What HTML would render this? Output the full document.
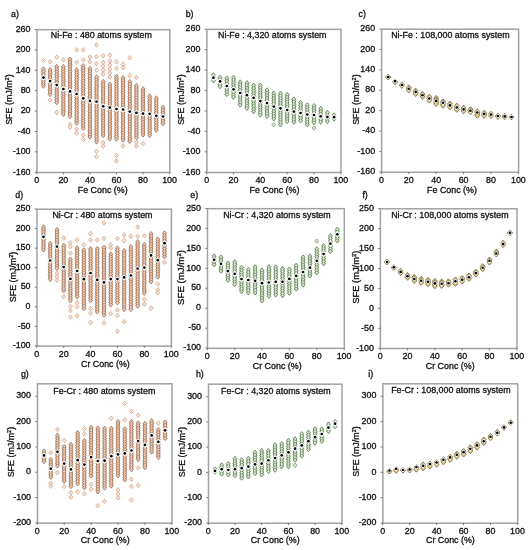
<!DOCTYPE html><html><head><meta charset="utf-8"><style>html,body{margin:0;padding:0;background:#fff;}svg{display:block;} text{stroke:#111;stroke-width:0.3px;}</style></head><body>
<svg width="531" height="550" viewBox="0 0 531 550" style="will-change:transform" font-family='"Liberation Sans", sans-serif' font-size="8.9" fill="#111">
<rect x="0" y="0" width="531" height="550" fill="#fff"/>
<g><defs><path id="ma" d="M0,-2.3 L1.95,0 L0,2.3 L-1.95,0Z" fill="#dda987" stroke="#9c7c6a" stroke-width="0.8"/><path id="mao" d="M0,-2.3 L1.95,0 L0,2.3 L-1.95,0Z" fill="#f6e2d6" stroke="#d3a58d" stroke-width="0.8"/></defs><g style="filter:blur(0.35px)"><use href="#mao" x="43.44" y="60.4"/><rect x="41.68" y="69.1" width="3.51" height="16.9" fill="#b98365"/><use href="#ma" x="43.44" y="69.1"/><use href="#ma" x="43.44" y="71.51"/><use href="#ma" x="43.44" y="73.93"/><use href="#ma" x="43.44" y="76.34"/><use href="#ma" x="43.44" y="78.76"/><use href="#ma" x="43.44" y="81.17"/><use href="#ma" x="43.44" y="83.59"/><use href="#ma" x="43.44" y="86"/><ellipse cx="43.44" cy="69.1" rx="0.9" ry="1.0" fill="#efcab2"/><ellipse cx="43.44" cy="71.51" rx="0.9" ry="1.0" fill="#efcab2"/><ellipse cx="43.44" cy="73.93" rx="0.9" ry="1.0" fill="#efcab2"/><ellipse cx="43.44" cy="76.34" rx="0.9" ry="1.0" fill="#efcab2"/><ellipse cx="43.44" cy="78.76" rx="0.9" ry="1.0" fill="#efcab2"/><ellipse cx="43.44" cy="81.17" rx="0.9" ry="1.0" fill="#efcab2"/><ellipse cx="43.44" cy="83.59" rx="0.9" ry="1.0" fill="#efcab2"/><ellipse cx="43.44" cy="86" rx="0.9" ry="1.0" fill="#efcab2"/><use href="#mao" x="50.08" y="61.8"/><use href="#mao" x="50.08" y="100"/><rect x="48.32" y="69.8" width="3.51" height="24.6" fill="#b98365"/><use href="#ma" x="50.08" y="69.8"/><use href="#ma" x="50.08" y="72.26"/><use href="#ma" x="50.08" y="74.72"/><use href="#ma" x="50.08" y="77.18"/><use href="#ma" x="50.08" y="79.64"/><use href="#ma" x="50.08" y="82.1"/><use href="#ma" x="50.08" y="84.56"/><use href="#ma" x="50.08" y="87.02"/><use href="#ma" x="50.08" y="89.48"/><use href="#ma" x="50.08" y="91.94"/><use href="#ma" x="50.08" y="94.4"/><ellipse cx="50.08" cy="69.8" rx="0.9" ry="1.0" fill="#efcab2"/><ellipse cx="50.08" cy="72.26" rx="0.9" ry="1.0" fill="#efcab2"/><ellipse cx="50.08" cy="74.72" rx="0.9" ry="1.0" fill="#efcab2"/><ellipse cx="50.08" cy="77.18" rx="0.9" ry="1.0" fill="#efcab2"/><ellipse cx="50.08" cy="79.64" rx="0.9" ry="1.0" fill="#efcab2"/><ellipse cx="50.08" cy="82.1" rx="0.9" ry="1.0" fill="#efcab2"/><ellipse cx="50.08" cy="84.56" rx="0.9" ry="1.0" fill="#efcab2"/><ellipse cx="50.08" cy="87.02" rx="0.9" ry="1.0" fill="#efcab2"/><ellipse cx="50.08" cy="89.48" rx="0.9" ry="1.0" fill="#efcab2"/><ellipse cx="50.08" cy="91.94" rx="0.9" ry="1.0" fill="#efcab2"/><ellipse cx="50.08" cy="94.4" rx="0.9" ry="1.0" fill="#efcab2"/><use href="#mao" x="56.72" y="57.1"/><use href="#mao" x="56.72" y="112.5"/><rect x="54.96" y="66.5" width="3.51" height="36" fill="#b98365"/><use href="#ma" x="56.72" y="66.5"/><use href="#ma" x="56.72" y="69.07"/><use href="#ma" x="56.72" y="71.64"/><use href="#ma" x="56.72" y="74.21"/><use href="#ma" x="56.72" y="76.79"/><use href="#ma" x="56.72" y="79.36"/><use href="#ma" x="56.72" y="81.93"/><use href="#ma" x="56.72" y="84.5"/><use href="#ma" x="56.72" y="87.07"/><use href="#ma" x="56.72" y="89.64"/><use href="#ma" x="56.72" y="92.21"/><use href="#ma" x="56.72" y="94.79"/><use href="#ma" x="56.72" y="97.36"/><use href="#ma" x="56.72" y="99.93"/><use href="#ma" x="56.72" y="102.5"/><ellipse cx="56.72" cy="66.5" rx="0.9" ry="1.0" fill="#efcab2"/><ellipse cx="56.72" cy="69.07" rx="0.9" ry="1.0" fill="#efcab2"/><ellipse cx="56.72" cy="71.64" rx="0.9" ry="1.0" fill="#efcab2"/><ellipse cx="56.72" cy="74.21" rx="0.9" ry="1.0" fill="#efcab2"/><ellipse cx="56.72" cy="76.79" rx="0.9" ry="1.0" fill="#efcab2"/><ellipse cx="56.72" cy="79.36" rx="0.9" ry="1.0" fill="#efcab2"/><ellipse cx="56.72" cy="81.93" rx="0.9" ry="1.0" fill="#efcab2"/><ellipse cx="56.72" cy="84.5" rx="0.9" ry="1.0" fill="#efcab2"/><ellipse cx="56.72" cy="87.07" rx="0.9" ry="1.0" fill="#efcab2"/><ellipse cx="56.72" cy="89.64" rx="0.9" ry="1.0" fill="#efcab2"/><ellipse cx="56.72" cy="92.21" rx="0.9" ry="1.0" fill="#efcab2"/><ellipse cx="56.72" cy="94.79" rx="0.9" ry="1.0" fill="#efcab2"/><ellipse cx="56.72" cy="97.36" rx="0.9" ry="1.0" fill="#efcab2"/><ellipse cx="56.72" cy="99.93" rx="0.9" ry="1.0" fill="#efcab2"/><ellipse cx="56.72" cy="102.5" rx="0.9" ry="1.0" fill="#efcab2"/><use href="#mao" x="63.36" y="59.8"/><rect x="61.6" y="66.5" width="3.51" height="47.9" fill="#b98365"/><use href="#ma" x="63.36" y="66.5"/><use href="#ma" x="63.36" y="69.02"/><use href="#ma" x="63.36" y="71.54"/><use href="#ma" x="63.36" y="74.06"/><use href="#ma" x="63.36" y="76.58"/><use href="#ma" x="63.36" y="79.11"/><use href="#ma" x="63.36" y="81.63"/><use href="#ma" x="63.36" y="84.15"/><use href="#ma" x="63.36" y="86.67"/><use href="#ma" x="63.36" y="89.19"/><use href="#ma" x="63.36" y="91.71"/><use href="#ma" x="63.36" y="94.23"/><use href="#ma" x="63.36" y="96.75"/><use href="#ma" x="63.36" y="99.27"/><use href="#ma" x="63.36" y="101.79"/><use href="#ma" x="63.36" y="104.32"/><use href="#ma" x="63.36" y="106.84"/><use href="#ma" x="63.36" y="109.36"/><use href="#ma" x="63.36" y="111.88"/><use href="#ma" x="63.36" y="114.4"/><ellipse cx="63.36" cy="66.5" rx="0.9" ry="1.0" fill="#efcab2"/><ellipse cx="63.36" cy="69.02" rx="0.9" ry="1.0" fill="#efcab2"/><ellipse cx="63.36" cy="71.54" rx="0.9" ry="1.0" fill="#efcab2"/><ellipse cx="63.36" cy="74.06" rx="0.9" ry="1.0" fill="#efcab2"/><ellipse cx="63.36" cy="76.58" rx="0.9" ry="1.0" fill="#efcab2"/><ellipse cx="63.36" cy="79.11" rx="0.9" ry="1.0" fill="#efcab2"/><ellipse cx="63.36" cy="81.63" rx="0.9" ry="1.0" fill="#efcab2"/><ellipse cx="63.36" cy="84.15" rx="0.9" ry="1.0" fill="#efcab2"/><ellipse cx="63.36" cy="86.67" rx="0.9" ry="1.0" fill="#efcab2"/><ellipse cx="63.36" cy="89.19" rx="0.9" ry="1.0" fill="#efcab2"/><ellipse cx="63.36" cy="91.71" rx="0.9" ry="1.0" fill="#efcab2"/><ellipse cx="63.36" cy="94.23" rx="0.9" ry="1.0" fill="#efcab2"/><ellipse cx="63.36" cy="96.75" rx="0.9" ry="1.0" fill="#efcab2"/><ellipse cx="63.36" cy="99.27" rx="0.9" ry="1.0" fill="#efcab2"/><ellipse cx="63.36" cy="101.79" rx="0.9" ry="1.0" fill="#efcab2"/><ellipse cx="63.36" cy="104.32" rx="0.9" ry="1.0" fill="#efcab2"/><ellipse cx="63.36" cy="106.84" rx="0.9" ry="1.0" fill="#efcab2"/><ellipse cx="63.36" cy="109.36" rx="0.9" ry="1.0" fill="#efcab2"/><ellipse cx="63.36" cy="111.88" rx="0.9" ry="1.0" fill="#efcab2"/><ellipse cx="63.36" cy="114.4" rx="0.9" ry="1.0" fill="#efcab2"/><use href="#mao" x="70" y="124.4"/><use href="#mao" x="70" y="127"/><rect x="68.25" y="59.2" width="3.51" height="57.2" fill="#b98365"/><use href="#ma" x="70" y="59.2"/><use href="#ma" x="70" y="61.69"/><use href="#ma" x="70" y="64.17"/><use href="#ma" x="70" y="66.66"/><use href="#ma" x="70" y="69.15"/><use href="#ma" x="70" y="71.63"/><use href="#ma" x="70" y="74.12"/><use href="#ma" x="70" y="76.61"/><use href="#ma" x="70" y="79.1"/><use href="#ma" x="70" y="81.58"/><use href="#ma" x="70" y="84.07"/><use href="#ma" x="70" y="86.56"/><use href="#ma" x="70" y="89.04"/><use href="#ma" x="70" y="91.53"/><use href="#ma" x="70" y="94.02"/><use href="#ma" x="70" y="96.5"/><use href="#ma" x="70" y="98.99"/><use href="#ma" x="70" y="101.48"/><use href="#ma" x="70" y="103.97"/><use href="#ma" x="70" y="106.45"/><use href="#ma" x="70" y="108.94"/><use href="#ma" x="70" y="111.43"/><use href="#ma" x="70" y="113.91"/><use href="#ma" x="70" y="116.4"/><ellipse cx="70" cy="59.2" rx="0.9" ry="1.0" fill="#efcab2"/><ellipse cx="70" cy="61.69" rx="0.9" ry="1.0" fill="#efcab2"/><ellipse cx="70" cy="64.17" rx="0.9" ry="1.0" fill="#efcab2"/><ellipse cx="70" cy="66.66" rx="0.9" ry="1.0" fill="#efcab2"/><ellipse cx="70" cy="69.15" rx="0.9" ry="1.0" fill="#efcab2"/><ellipse cx="70" cy="71.63" rx="0.9" ry="1.0" fill="#efcab2"/><ellipse cx="70" cy="74.12" rx="0.9" ry="1.0" fill="#efcab2"/><ellipse cx="70" cy="76.61" rx="0.9" ry="1.0" fill="#efcab2"/><ellipse cx="70" cy="79.1" rx="0.9" ry="1.0" fill="#efcab2"/><ellipse cx="70" cy="81.58" rx="0.9" ry="1.0" fill="#efcab2"/><ellipse cx="70" cy="84.07" rx="0.9" ry="1.0" fill="#efcab2"/><ellipse cx="70" cy="86.56" rx="0.9" ry="1.0" fill="#efcab2"/><ellipse cx="70" cy="89.04" rx="0.9" ry="1.0" fill="#efcab2"/><ellipse cx="70" cy="91.53" rx="0.9" ry="1.0" fill="#efcab2"/><ellipse cx="70" cy="94.02" rx="0.9" ry="1.0" fill="#efcab2"/><ellipse cx="70" cy="96.5" rx="0.9" ry="1.0" fill="#efcab2"/><ellipse cx="70" cy="98.99" rx="0.9" ry="1.0" fill="#efcab2"/><ellipse cx="70" cy="101.48" rx="0.9" ry="1.0" fill="#efcab2"/><ellipse cx="70" cy="103.97" rx="0.9" ry="1.0" fill="#efcab2"/><ellipse cx="70" cy="106.45" rx="0.9" ry="1.0" fill="#efcab2"/><ellipse cx="70" cy="108.94" rx="0.9" ry="1.0" fill="#efcab2"/><ellipse cx="70" cy="111.43" rx="0.9" ry="1.0" fill="#efcab2"/><ellipse cx="70" cy="113.91" rx="0.9" ry="1.0" fill="#efcab2"/><ellipse cx="70" cy="116.4" rx="0.9" ry="1.0" fill="#efcab2"/><use href="#mao" x="76.64" y="49.9"/><use href="#mao" x="76.64" y="62.4"/><use href="#mao" x="76.64" y="129"/><use href="#mao" x="76.64" y="133"/><rect x="74.89" y="69.8" width="3.51" height="53.1" fill="#b98365"/><use href="#ma" x="76.64" y="69.8"/><use href="#ma" x="76.64" y="72.33"/><use href="#ma" x="76.64" y="74.86"/><use href="#ma" x="76.64" y="77.39"/><use href="#ma" x="76.64" y="79.91"/><use href="#ma" x="76.64" y="82.44"/><use href="#ma" x="76.64" y="84.97"/><use href="#ma" x="76.64" y="87.5"/><use href="#ma" x="76.64" y="90.03"/><use href="#ma" x="76.64" y="92.56"/><use href="#ma" x="76.64" y="95.09"/><use href="#ma" x="76.64" y="97.61"/><use href="#ma" x="76.64" y="100.14"/><use href="#ma" x="76.64" y="102.67"/><use href="#ma" x="76.64" y="105.2"/><use href="#ma" x="76.64" y="107.73"/><use href="#ma" x="76.64" y="110.26"/><use href="#ma" x="76.64" y="112.79"/><use href="#ma" x="76.64" y="115.31"/><use href="#ma" x="76.64" y="117.84"/><use href="#ma" x="76.64" y="120.37"/><use href="#ma" x="76.64" y="122.9"/><ellipse cx="76.64" cy="69.8" rx="0.9" ry="1.0" fill="#efcab2"/><ellipse cx="76.64" cy="72.33" rx="0.9" ry="1.0" fill="#efcab2"/><ellipse cx="76.64" cy="74.86" rx="0.9" ry="1.0" fill="#efcab2"/><ellipse cx="76.64" cy="77.39" rx="0.9" ry="1.0" fill="#efcab2"/><ellipse cx="76.64" cy="79.91" rx="0.9" ry="1.0" fill="#efcab2"/><ellipse cx="76.64" cy="82.44" rx="0.9" ry="1.0" fill="#efcab2"/><ellipse cx="76.64" cy="84.97" rx="0.9" ry="1.0" fill="#efcab2"/><ellipse cx="76.64" cy="87.5" rx="0.9" ry="1.0" fill="#efcab2"/><ellipse cx="76.64" cy="90.03" rx="0.9" ry="1.0" fill="#efcab2"/><ellipse cx="76.64" cy="92.56" rx="0.9" ry="1.0" fill="#efcab2"/><ellipse cx="76.64" cy="95.09" rx="0.9" ry="1.0" fill="#efcab2"/><ellipse cx="76.64" cy="97.61" rx="0.9" ry="1.0" fill="#efcab2"/><ellipse cx="76.64" cy="100.14" rx="0.9" ry="1.0" fill="#efcab2"/><ellipse cx="76.64" cy="102.67" rx="0.9" ry="1.0" fill="#efcab2"/><ellipse cx="76.64" cy="105.2" rx="0.9" ry="1.0" fill="#efcab2"/><ellipse cx="76.64" cy="107.73" rx="0.9" ry="1.0" fill="#efcab2"/><ellipse cx="76.64" cy="110.26" rx="0.9" ry="1.0" fill="#efcab2"/><ellipse cx="76.64" cy="112.79" rx="0.9" ry="1.0" fill="#efcab2"/><ellipse cx="76.64" cy="115.31" rx="0.9" ry="1.0" fill="#efcab2"/><ellipse cx="76.64" cy="117.84" rx="0.9" ry="1.0" fill="#efcab2"/><ellipse cx="76.64" cy="120.37" rx="0.9" ry="1.0" fill="#efcab2"/><ellipse cx="76.64" cy="122.9" rx="0.9" ry="1.0" fill="#efcab2"/><use href="#mao" x="83.28" y="49.9"/><use href="#mao" x="83.28" y="59.8"/><use href="#mao" x="83.28" y="135"/><use href="#mao" x="83.28" y="139.5"/><rect x="81.53" y="65.8" width="3.51" height="62.4" fill="#b98365"/><use href="#ma" x="83.28" y="65.8"/><use href="#ma" x="83.28" y="68.3"/><use href="#ma" x="83.28" y="70.79"/><use href="#ma" x="83.28" y="73.29"/><use href="#ma" x="83.28" y="75.78"/><use href="#ma" x="83.28" y="78.28"/><use href="#ma" x="83.28" y="80.78"/><use href="#ma" x="83.28" y="83.27"/><use href="#ma" x="83.28" y="85.77"/><use href="#ma" x="83.28" y="88.26"/><use href="#ma" x="83.28" y="90.76"/><use href="#ma" x="83.28" y="93.26"/><use href="#ma" x="83.28" y="95.75"/><use href="#ma" x="83.28" y="98.25"/><use href="#ma" x="83.28" y="100.74"/><use href="#ma" x="83.28" y="103.24"/><use href="#ma" x="83.28" y="105.74"/><use href="#ma" x="83.28" y="108.23"/><use href="#ma" x="83.28" y="110.73"/><use href="#ma" x="83.28" y="113.22"/><use href="#ma" x="83.28" y="115.72"/><use href="#ma" x="83.28" y="118.22"/><use href="#ma" x="83.28" y="120.71"/><use href="#ma" x="83.28" y="123.21"/><use href="#ma" x="83.28" y="125.7"/><use href="#ma" x="83.28" y="128.2"/><ellipse cx="83.28" cy="65.8" rx="0.9" ry="1.0" fill="#efcab2"/><ellipse cx="83.28" cy="68.3" rx="0.9" ry="1.0" fill="#efcab2"/><ellipse cx="83.28" cy="70.79" rx="0.9" ry="1.0" fill="#efcab2"/><ellipse cx="83.28" cy="73.29" rx="0.9" ry="1.0" fill="#efcab2"/><ellipse cx="83.28" cy="75.78" rx="0.9" ry="1.0" fill="#efcab2"/><ellipse cx="83.28" cy="78.28" rx="0.9" ry="1.0" fill="#efcab2"/><ellipse cx="83.28" cy="80.78" rx="0.9" ry="1.0" fill="#efcab2"/><ellipse cx="83.28" cy="83.27" rx="0.9" ry="1.0" fill="#efcab2"/><ellipse cx="83.28" cy="85.77" rx="0.9" ry="1.0" fill="#efcab2"/><ellipse cx="83.28" cy="88.26" rx="0.9" ry="1.0" fill="#efcab2"/><ellipse cx="83.28" cy="90.76" rx="0.9" ry="1.0" fill="#efcab2"/><ellipse cx="83.28" cy="93.26" rx="0.9" ry="1.0" fill="#efcab2"/><ellipse cx="83.28" cy="95.75" rx="0.9" ry="1.0" fill="#efcab2"/><ellipse cx="83.28" cy="98.25" rx="0.9" ry="1.0" fill="#efcab2"/><ellipse cx="83.28" cy="100.74" rx="0.9" ry="1.0" fill="#efcab2"/><ellipse cx="83.28" cy="103.24" rx="0.9" ry="1.0" fill="#efcab2"/><ellipse cx="83.28" cy="105.74" rx="0.9" ry="1.0" fill="#efcab2"/><ellipse cx="83.28" cy="108.23" rx="0.9" ry="1.0" fill="#efcab2"/><ellipse cx="83.28" cy="110.73" rx="0.9" ry="1.0" fill="#efcab2"/><ellipse cx="83.28" cy="113.22" rx="0.9" ry="1.0" fill="#efcab2"/><ellipse cx="83.28" cy="115.72" rx="0.9" ry="1.0" fill="#efcab2"/><ellipse cx="83.28" cy="118.22" rx="0.9" ry="1.0" fill="#efcab2"/><ellipse cx="83.28" cy="120.71" rx="0.9" ry="1.0" fill="#efcab2"/><ellipse cx="83.28" cy="123.21" rx="0.9" ry="1.0" fill="#efcab2"/><ellipse cx="83.28" cy="125.7" rx="0.9" ry="1.0" fill="#efcab2"/><ellipse cx="83.28" cy="128.2" rx="0.9" ry="1.0" fill="#efcab2"/><use href="#mao" x="89.92" y="57.1"/><use href="#mao" x="89.92" y="61.8"/><rect x="88.17" y="68.5" width="3.51" height="68.4" fill="#b98365"/><use href="#ma" x="89.92" y="68.5"/><use href="#ma" x="89.92" y="71.03"/><use href="#ma" x="89.92" y="73.57"/><use href="#ma" x="89.92" y="76.1"/><use href="#ma" x="89.92" y="78.63"/><use href="#ma" x="89.92" y="81.17"/><use href="#ma" x="89.92" y="83.7"/><use href="#ma" x="89.92" y="86.23"/><use href="#ma" x="89.92" y="88.77"/><use href="#ma" x="89.92" y="91.3"/><use href="#ma" x="89.92" y="93.83"/><use href="#ma" x="89.92" y="96.37"/><use href="#ma" x="89.92" y="98.9"/><use href="#ma" x="89.92" y="101.43"/><use href="#ma" x="89.92" y="103.97"/><use href="#ma" x="89.92" y="106.5"/><use href="#ma" x="89.92" y="109.03"/><use href="#ma" x="89.92" y="111.57"/><use href="#ma" x="89.92" y="114.1"/><use href="#ma" x="89.92" y="116.63"/><use href="#ma" x="89.92" y="119.17"/><use href="#ma" x="89.92" y="121.7"/><use href="#ma" x="89.92" y="124.23"/><use href="#ma" x="89.92" y="126.77"/><use href="#ma" x="89.92" y="129.3"/><use href="#ma" x="89.92" y="131.83"/><use href="#ma" x="89.92" y="134.37"/><use href="#ma" x="89.92" y="136.9"/><ellipse cx="89.92" cy="68.5" rx="0.9" ry="1.0" fill="#efcab2"/><ellipse cx="89.92" cy="71.03" rx="0.9" ry="1.0" fill="#efcab2"/><ellipse cx="89.92" cy="73.57" rx="0.9" ry="1.0" fill="#efcab2"/><ellipse cx="89.92" cy="76.1" rx="0.9" ry="1.0" fill="#efcab2"/><ellipse cx="89.92" cy="78.63" rx="0.9" ry="1.0" fill="#efcab2"/><ellipse cx="89.92" cy="81.17" rx="0.9" ry="1.0" fill="#efcab2"/><ellipse cx="89.92" cy="83.7" rx="0.9" ry="1.0" fill="#efcab2"/><ellipse cx="89.92" cy="86.23" rx="0.9" ry="1.0" fill="#efcab2"/><ellipse cx="89.92" cy="88.77" rx="0.9" ry="1.0" fill="#efcab2"/><ellipse cx="89.92" cy="91.3" rx="0.9" ry="1.0" fill="#efcab2"/><ellipse cx="89.92" cy="93.83" rx="0.9" ry="1.0" fill="#efcab2"/><ellipse cx="89.92" cy="96.37" rx="0.9" ry="1.0" fill="#efcab2"/><ellipse cx="89.92" cy="98.9" rx="0.9" ry="1.0" fill="#efcab2"/><ellipse cx="89.92" cy="101.43" rx="0.9" ry="1.0" fill="#efcab2"/><ellipse cx="89.92" cy="103.97" rx="0.9" ry="1.0" fill="#efcab2"/><ellipse cx="89.92" cy="106.5" rx="0.9" ry="1.0" fill="#efcab2"/><ellipse cx="89.92" cy="109.03" rx="0.9" ry="1.0" fill="#efcab2"/><ellipse cx="89.92" cy="111.57" rx="0.9" ry="1.0" fill="#efcab2"/><ellipse cx="89.92" cy="114.1" rx="0.9" ry="1.0" fill="#efcab2"/><ellipse cx="89.92" cy="116.63" rx="0.9" ry="1.0" fill="#efcab2"/><ellipse cx="89.92" cy="119.17" rx="0.9" ry="1.0" fill="#efcab2"/><ellipse cx="89.92" cy="121.7" rx="0.9" ry="1.0" fill="#efcab2"/><ellipse cx="89.92" cy="124.23" rx="0.9" ry="1.0" fill="#efcab2"/><ellipse cx="89.92" cy="126.77" rx="0.9" ry="1.0" fill="#efcab2"/><ellipse cx="89.92" cy="129.3" rx="0.9" ry="1.0" fill="#efcab2"/><ellipse cx="89.92" cy="131.83" rx="0.9" ry="1.0" fill="#efcab2"/><ellipse cx="89.92" cy="134.37" rx="0.9" ry="1.0" fill="#efcab2"/><ellipse cx="89.92" cy="136.9" rx="0.9" ry="1.0" fill="#efcab2"/><use href="#mao" x="96.56" y="45"/><use href="#mao" x="96.56" y="56.5"/><use href="#mao" x="96.56" y="63.7"/><use href="#mao" x="96.56" y="70.3"/><use href="#mao" x="96.56" y="151.4"/><use href="#mao" x="96.56" y="156.7"/><rect x="94.81" y="77.1" width="3.51" height="64.8" fill="#b98365"/><use href="#ma" x="96.56" y="77.1"/><use href="#ma" x="96.56" y="79.59"/><use href="#ma" x="96.56" y="82.08"/><use href="#ma" x="96.56" y="84.58"/><use href="#ma" x="96.56" y="87.07"/><use href="#ma" x="96.56" y="89.56"/><use href="#ma" x="96.56" y="92.05"/><use href="#ma" x="96.56" y="94.55"/><use href="#ma" x="96.56" y="97.04"/><use href="#ma" x="96.56" y="99.53"/><use href="#ma" x="96.56" y="102.02"/><use href="#ma" x="96.56" y="104.52"/><use href="#ma" x="96.56" y="107.01"/><use href="#ma" x="96.56" y="109.5"/><use href="#ma" x="96.56" y="111.99"/><use href="#ma" x="96.56" y="114.48"/><use href="#ma" x="96.56" y="116.98"/><use href="#ma" x="96.56" y="119.47"/><use href="#ma" x="96.56" y="121.96"/><use href="#ma" x="96.56" y="124.45"/><use href="#ma" x="96.56" y="126.95"/><use href="#ma" x="96.56" y="129.44"/><use href="#ma" x="96.56" y="131.93"/><use href="#ma" x="96.56" y="134.42"/><use href="#ma" x="96.56" y="136.92"/><use href="#ma" x="96.56" y="139.41"/><use href="#ma" x="96.56" y="141.9"/><ellipse cx="96.56" cy="77.1" rx="0.9" ry="1.0" fill="#efcab2"/><ellipse cx="96.56" cy="79.59" rx="0.9" ry="1.0" fill="#efcab2"/><ellipse cx="96.56" cy="82.08" rx="0.9" ry="1.0" fill="#efcab2"/><ellipse cx="96.56" cy="84.58" rx="0.9" ry="1.0" fill="#efcab2"/><ellipse cx="96.56" cy="87.07" rx="0.9" ry="1.0" fill="#efcab2"/><ellipse cx="96.56" cy="89.56" rx="0.9" ry="1.0" fill="#efcab2"/><ellipse cx="96.56" cy="92.05" rx="0.9" ry="1.0" fill="#efcab2"/><ellipse cx="96.56" cy="94.55" rx="0.9" ry="1.0" fill="#efcab2"/><ellipse cx="96.56" cy="97.04" rx="0.9" ry="1.0" fill="#efcab2"/><ellipse cx="96.56" cy="99.53" rx="0.9" ry="1.0" fill="#efcab2"/><ellipse cx="96.56" cy="102.02" rx="0.9" ry="1.0" fill="#efcab2"/><ellipse cx="96.56" cy="104.52" rx="0.9" ry="1.0" fill="#efcab2"/><ellipse cx="96.56" cy="107.01" rx="0.9" ry="1.0" fill="#efcab2"/><ellipse cx="96.56" cy="109.5" rx="0.9" ry="1.0" fill="#efcab2"/><ellipse cx="96.56" cy="111.99" rx="0.9" ry="1.0" fill="#efcab2"/><ellipse cx="96.56" cy="114.48" rx="0.9" ry="1.0" fill="#efcab2"/><ellipse cx="96.56" cy="116.98" rx="0.9" ry="1.0" fill="#efcab2"/><ellipse cx="96.56" cy="119.47" rx="0.9" ry="1.0" fill="#efcab2"/><ellipse cx="96.56" cy="121.96" rx="0.9" ry="1.0" fill="#efcab2"/><ellipse cx="96.56" cy="124.45" rx="0.9" ry="1.0" fill="#efcab2"/><ellipse cx="96.56" cy="126.95" rx="0.9" ry="1.0" fill="#efcab2"/><ellipse cx="96.56" cy="129.44" rx="0.9" ry="1.0" fill="#efcab2"/><ellipse cx="96.56" cy="131.93" rx="0.9" ry="1.0" fill="#efcab2"/><ellipse cx="96.56" cy="134.42" rx="0.9" ry="1.0" fill="#efcab2"/><ellipse cx="96.56" cy="136.92" rx="0.9" ry="1.0" fill="#efcab2"/><ellipse cx="96.56" cy="139.41" rx="0.9" ry="1.0" fill="#efcab2"/><ellipse cx="96.56" cy="141.9" rx="0.9" ry="1.0" fill="#efcab2"/><use href="#mao" x="103.2" y="55.8"/><use href="#mao" x="103.2" y="62.4"/><use href="#mao" x="103.2" y="66"/><use href="#mao" x="103.2" y="70"/><use href="#mao" x="103.2" y="74"/><use href="#mao" x="103.2" y="142.8"/><use href="#mao" x="103.2" y="146.1"/><rect x="101.45" y="81.6" width="3.51" height="53.9" fill="#b98365"/><use href="#ma" x="103.2" y="81.6"/><use href="#ma" x="103.2" y="84.05"/><use href="#ma" x="103.2" y="86.5"/><use href="#ma" x="103.2" y="88.95"/><use href="#ma" x="103.2" y="91.4"/><use href="#ma" x="103.2" y="93.85"/><use href="#ma" x="103.2" y="96.3"/><use href="#ma" x="103.2" y="98.75"/><use href="#ma" x="103.2" y="101.2"/><use href="#ma" x="103.2" y="103.65"/><use href="#ma" x="103.2" y="106.1"/><use href="#ma" x="103.2" y="108.55"/><use href="#ma" x="103.2" y="111"/><use href="#ma" x="103.2" y="113.45"/><use href="#ma" x="103.2" y="115.9"/><use href="#ma" x="103.2" y="118.35"/><use href="#ma" x="103.2" y="120.8"/><use href="#ma" x="103.2" y="123.25"/><use href="#ma" x="103.2" y="125.7"/><use href="#ma" x="103.2" y="128.15"/><use href="#ma" x="103.2" y="130.6"/><use href="#ma" x="103.2" y="133.05"/><use href="#ma" x="103.2" y="135.5"/><ellipse cx="103.2" cy="81.6" rx="0.9" ry="1.0" fill="#efcab2"/><ellipse cx="103.2" cy="84.05" rx="0.9" ry="1.0" fill="#efcab2"/><ellipse cx="103.2" cy="86.5" rx="0.9" ry="1.0" fill="#efcab2"/><ellipse cx="103.2" cy="88.95" rx="0.9" ry="1.0" fill="#efcab2"/><ellipse cx="103.2" cy="91.4" rx="0.9" ry="1.0" fill="#efcab2"/><ellipse cx="103.2" cy="93.85" rx="0.9" ry="1.0" fill="#efcab2"/><ellipse cx="103.2" cy="96.3" rx="0.9" ry="1.0" fill="#efcab2"/><ellipse cx="103.2" cy="98.75" rx="0.9" ry="1.0" fill="#efcab2"/><ellipse cx="103.2" cy="101.2" rx="0.9" ry="1.0" fill="#efcab2"/><ellipse cx="103.2" cy="103.65" rx="0.9" ry="1.0" fill="#efcab2"/><ellipse cx="103.2" cy="106.1" rx="0.9" ry="1.0" fill="#efcab2"/><ellipse cx="103.2" cy="108.55" rx="0.9" ry="1.0" fill="#efcab2"/><ellipse cx="103.2" cy="111" rx="0.9" ry="1.0" fill="#efcab2"/><ellipse cx="103.2" cy="113.45" rx="0.9" ry="1.0" fill="#efcab2"/><ellipse cx="103.2" cy="115.9" rx="0.9" ry="1.0" fill="#efcab2"/><ellipse cx="103.2" cy="118.35" rx="0.9" ry="1.0" fill="#efcab2"/><ellipse cx="103.2" cy="120.8" rx="0.9" ry="1.0" fill="#efcab2"/><ellipse cx="103.2" cy="123.25" rx="0.9" ry="1.0" fill="#efcab2"/><ellipse cx="103.2" cy="125.7" rx="0.9" ry="1.0" fill="#efcab2"/><ellipse cx="103.2" cy="128.15" rx="0.9" ry="1.0" fill="#efcab2"/><ellipse cx="103.2" cy="130.6" rx="0.9" ry="1.0" fill="#efcab2"/><ellipse cx="103.2" cy="133.05" rx="0.9" ry="1.0" fill="#efcab2"/><ellipse cx="103.2" cy="135.5" rx="0.9" ry="1.0" fill="#efcab2"/><use href="#mao" x="109.84" y="55.2"/><use href="#mao" x="109.84" y="61"/><use href="#mao" x="109.84" y="65"/><use href="#mao" x="109.84" y="69"/><use href="#mao" x="109.84" y="73"/><use href="#mao" x="109.84" y="77"/><rect x="108.09" y="84.3" width="3.51" height="54.5" fill="#b98365"/><use href="#ma" x="109.84" y="84.3"/><use href="#ma" x="109.84" y="86.78"/><use href="#ma" x="109.84" y="89.25"/><use href="#ma" x="109.84" y="91.73"/><use href="#ma" x="109.84" y="94.21"/><use href="#ma" x="109.84" y="96.69"/><use href="#ma" x="109.84" y="99.16"/><use href="#ma" x="109.84" y="101.64"/><use href="#ma" x="109.84" y="104.12"/><use href="#ma" x="109.84" y="106.6"/><use href="#ma" x="109.84" y="109.07"/><use href="#ma" x="109.84" y="111.55"/><use href="#ma" x="109.84" y="114.03"/><use href="#ma" x="109.84" y="116.5"/><use href="#ma" x="109.84" y="118.98"/><use href="#ma" x="109.84" y="121.46"/><use href="#ma" x="109.84" y="123.94"/><use href="#ma" x="109.84" y="126.41"/><use href="#ma" x="109.84" y="128.89"/><use href="#ma" x="109.84" y="131.37"/><use href="#ma" x="109.84" y="133.85"/><use href="#ma" x="109.84" y="136.32"/><use href="#ma" x="109.84" y="138.8"/><ellipse cx="109.84" cy="84.3" rx="0.9" ry="1.0" fill="#efcab2"/><ellipse cx="109.84" cy="86.78" rx="0.9" ry="1.0" fill="#efcab2"/><ellipse cx="109.84" cy="89.25" rx="0.9" ry="1.0" fill="#efcab2"/><ellipse cx="109.84" cy="91.73" rx="0.9" ry="1.0" fill="#efcab2"/><ellipse cx="109.84" cy="94.21" rx="0.9" ry="1.0" fill="#efcab2"/><ellipse cx="109.84" cy="96.69" rx="0.9" ry="1.0" fill="#efcab2"/><ellipse cx="109.84" cy="99.16" rx="0.9" ry="1.0" fill="#efcab2"/><ellipse cx="109.84" cy="101.64" rx="0.9" ry="1.0" fill="#efcab2"/><ellipse cx="109.84" cy="104.12" rx="0.9" ry="1.0" fill="#efcab2"/><ellipse cx="109.84" cy="106.6" rx="0.9" ry="1.0" fill="#efcab2"/><ellipse cx="109.84" cy="109.07" rx="0.9" ry="1.0" fill="#efcab2"/><ellipse cx="109.84" cy="111.55" rx="0.9" ry="1.0" fill="#efcab2"/><ellipse cx="109.84" cy="114.03" rx="0.9" ry="1.0" fill="#efcab2"/><ellipse cx="109.84" cy="116.5" rx="0.9" ry="1.0" fill="#efcab2"/><ellipse cx="109.84" cy="118.98" rx="0.9" ry="1.0" fill="#efcab2"/><ellipse cx="109.84" cy="121.46" rx="0.9" ry="1.0" fill="#efcab2"/><ellipse cx="109.84" cy="123.94" rx="0.9" ry="1.0" fill="#efcab2"/><ellipse cx="109.84" cy="126.41" rx="0.9" ry="1.0" fill="#efcab2"/><ellipse cx="109.84" cy="128.89" rx="0.9" ry="1.0" fill="#efcab2"/><ellipse cx="109.84" cy="131.37" rx="0.9" ry="1.0" fill="#efcab2"/><ellipse cx="109.84" cy="133.85" rx="0.9" ry="1.0" fill="#efcab2"/><ellipse cx="109.84" cy="136.32" rx="0.9" ry="1.0" fill="#efcab2"/><ellipse cx="109.84" cy="138.8" rx="0.9" ry="1.0" fill="#efcab2"/><use href="#mao" x="116.48" y="61.8"/><use href="#mao" x="116.48" y="68.3"/><use href="#mao" x="116.48" y="155.4"/><use href="#mao" x="116.48" y="160.9"/><rect x="114.73" y="76.4" width="3.51" height="62.5" fill="#b98365"/><use href="#ma" x="116.48" y="76.4"/><use href="#ma" x="116.48" y="78.9"/><use href="#ma" x="116.48" y="81.4"/><use href="#ma" x="116.48" y="83.9"/><use href="#ma" x="116.48" y="86.4"/><use href="#ma" x="116.48" y="88.9"/><use href="#ma" x="116.48" y="91.4"/><use href="#ma" x="116.48" y="93.9"/><use href="#ma" x="116.48" y="96.4"/><use href="#ma" x="116.48" y="98.9"/><use href="#ma" x="116.48" y="101.4"/><use href="#ma" x="116.48" y="103.9"/><use href="#ma" x="116.48" y="106.4"/><use href="#ma" x="116.48" y="108.9"/><use href="#ma" x="116.48" y="111.4"/><use href="#ma" x="116.48" y="113.9"/><use href="#ma" x="116.48" y="116.4"/><use href="#ma" x="116.48" y="118.9"/><use href="#ma" x="116.48" y="121.4"/><use href="#ma" x="116.48" y="123.9"/><use href="#ma" x="116.48" y="126.4"/><use href="#ma" x="116.48" y="128.9"/><use href="#ma" x="116.48" y="131.4"/><use href="#ma" x="116.48" y="133.9"/><use href="#ma" x="116.48" y="136.4"/><use href="#ma" x="116.48" y="138.9"/><ellipse cx="116.48" cy="76.4" rx="0.9" ry="1.0" fill="#efcab2"/><ellipse cx="116.48" cy="78.9" rx="0.9" ry="1.0" fill="#efcab2"/><ellipse cx="116.48" cy="81.4" rx="0.9" ry="1.0" fill="#efcab2"/><ellipse cx="116.48" cy="83.9" rx="0.9" ry="1.0" fill="#efcab2"/><ellipse cx="116.48" cy="86.4" rx="0.9" ry="1.0" fill="#efcab2"/><ellipse cx="116.48" cy="88.9" rx="0.9" ry="1.0" fill="#efcab2"/><ellipse cx="116.48" cy="91.4" rx="0.9" ry="1.0" fill="#efcab2"/><ellipse cx="116.48" cy="93.9" rx="0.9" ry="1.0" fill="#efcab2"/><ellipse cx="116.48" cy="96.4" rx="0.9" ry="1.0" fill="#efcab2"/><ellipse cx="116.48" cy="98.9" rx="0.9" ry="1.0" fill="#efcab2"/><ellipse cx="116.48" cy="101.4" rx="0.9" ry="1.0" fill="#efcab2"/><ellipse cx="116.48" cy="103.9" rx="0.9" ry="1.0" fill="#efcab2"/><ellipse cx="116.48" cy="106.4" rx="0.9" ry="1.0" fill="#efcab2"/><ellipse cx="116.48" cy="108.9" rx="0.9" ry="1.0" fill="#efcab2"/><ellipse cx="116.48" cy="111.4" rx="0.9" ry="1.0" fill="#efcab2"/><ellipse cx="116.48" cy="113.9" rx="0.9" ry="1.0" fill="#efcab2"/><ellipse cx="116.48" cy="116.4" rx="0.9" ry="1.0" fill="#efcab2"/><ellipse cx="116.48" cy="118.9" rx="0.9" ry="1.0" fill="#efcab2"/><ellipse cx="116.48" cy="121.4" rx="0.9" ry="1.0" fill="#efcab2"/><ellipse cx="116.48" cy="123.9" rx="0.9" ry="1.0" fill="#efcab2"/><ellipse cx="116.48" cy="126.4" rx="0.9" ry="1.0" fill="#efcab2"/><ellipse cx="116.48" cy="128.9" rx="0.9" ry="1.0" fill="#efcab2"/><ellipse cx="116.48" cy="131.4" rx="0.9" ry="1.0" fill="#efcab2"/><ellipse cx="116.48" cy="133.9" rx="0.9" ry="1.0" fill="#efcab2"/><ellipse cx="116.48" cy="136.4" rx="0.9" ry="1.0" fill="#efcab2"/><ellipse cx="116.48" cy="138.9" rx="0.9" ry="1.0" fill="#efcab2"/><use href="#mao" x="123.12" y="64.4"/><use href="#mao" x="123.12" y="67.7"/><use href="#mao" x="123.12" y="146.1"/><rect x="121.37" y="77.7" width="3.51" height="62.2" fill="#b98365"/><use href="#ma" x="123.12" y="77.7"/><use href="#ma" x="123.12" y="80.19"/><use href="#ma" x="123.12" y="82.68"/><use href="#ma" x="123.12" y="85.16"/><use href="#ma" x="123.12" y="87.65"/><use href="#ma" x="123.12" y="90.14"/><use href="#ma" x="123.12" y="92.63"/><use href="#ma" x="123.12" y="95.12"/><use href="#ma" x="123.12" y="97.6"/><use href="#ma" x="123.12" y="100.09"/><use href="#ma" x="123.12" y="102.58"/><use href="#ma" x="123.12" y="105.07"/><use href="#ma" x="123.12" y="107.56"/><use href="#ma" x="123.12" y="110.04"/><use href="#ma" x="123.12" y="112.53"/><use href="#ma" x="123.12" y="115.02"/><use href="#ma" x="123.12" y="117.51"/><use href="#ma" x="123.12" y="120"/><use href="#ma" x="123.12" y="122.48"/><use href="#ma" x="123.12" y="124.97"/><use href="#ma" x="123.12" y="127.46"/><use href="#ma" x="123.12" y="129.95"/><use href="#ma" x="123.12" y="132.44"/><use href="#ma" x="123.12" y="134.92"/><use href="#ma" x="123.12" y="137.41"/><use href="#ma" x="123.12" y="139.9"/><ellipse cx="123.12" cy="77.7" rx="0.9" ry="1.0" fill="#efcab2"/><ellipse cx="123.12" cy="80.19" rx="0.9" ry="1.0" fill="#efcab2"/><ellipse cx="123.12" cy="82.68" rx="0.9" ry="1.0" fill="#efcab2"/><ellipse cx="123.12" cy="85.16" rx="0.9" ry="1.0" fill="#efcab2"/><ellipse cx="123.12" cy="87.65" rx="0.9" ry="1.0" fill="#efcab2"/><ellipse cx="123.12" cy="90.14" rx="0.9" ry="1.0" fill="#efcab2"/><ellipse cx="123.12" cy="92.63" rx="0.9" ry="1.0" fill="#efcab2"/><ellipse cx="123.12" cy="95.12" rx="0.9" ry="1.0" fill="#efcab2"/><ellipse cx="123.12" cy="97.6" rx="0.9" ry="1.0" fill="#efcab2"/><ellipse cx="123.12" cy="100.09" rx="0.9" ry="1.0" fill="#efcab2"/><ellipse cx="123.12" cy="102.58" rx="0.9" ry="1.0" fill="#efcab2"/><ellipse cx="123.12" cy="105.07" rx="0.9" ry="1.0" fill="#efcab2"/><ellipse cx="123.12" cy="107.56" rx="0.9" ry="1.0" fill="#efcab2"/><ellipse cx="123.12" cy="110.04" rx="0.9" ry="1.0" fill="#efcab2"/><ellipse cx="123.12" cy="112.53" rx="0.9" ry="1.0" fill="#efcab2"/><ellipse cx="123.12" cy="115.02" rx="0.9" ry="1.0" fill="#efcab2"/><ellipse cx="123.12" cy="117.51" rx="0.9" ry="1.0" fill="#efcab2"/><ellipse cx="123.12" cy="120" rx="0.9" ry="1.0" fill="#efcab2"/><ellipse cx="123.12" cy="122.48" rx="0.9" ry="1.0" fill="#efcab2"/><ellipse cx="123.12" cy="124.97" rx="0.9" ry="1.0" fill="#efcab2"/><ellipse cx="123.12" cy="127.46" rx="0.9" ry="1.0" fill="#efcab2"/><ellipse cx="123.12" cy="129.95" rx="0.9" ry="1.0" fill="#efcab2"/><ellipse cx="123.12" cy="132.44" rx="0.9" ry="1.0" fill="#efcab2"/><ellipse cx="123.12" cy="134.92" rx="0.9" ry="1.0" fill="#efcab2"/><ellipse cx="123.12" cy="137.41" rx="0.9" ry="1.0" fill="#efcab2"/><ellipse cx="123.12" cy="139.9" rx="0.9" ry="1.0" fill="#efcab2"/><use href="#mao" x="129.76" y="57.8"/><use href="#mao" x="129.76" y="75.6"/><rect x="128" y="81.6" width="3.51" height="59.8" fill="#b98365"/><use href="#ma" x="129.76" y="81.6"/><use href="#ma" x="129.76" y="84.09"/><use href="#ma" x="129.76" y="86.58"/><use href="#ma" x="129.76" y="89.07"/><use href="#ma" x="129.76" y="91.57"/><use href="#ma" x="129.76" y="94.06"/><use href="#ma" x="129.76" y="96.55"/><use href="#ma" x="129.76" y="99.04"/><use href="#ma" x="129.76" y="101.53"/><use href="#ma" x="129.76" y="104.02"/><use href="#ma" x="129.76" y="106.52"/><use href="#ma" x="129.76" y="109.01"/><use href="#ma" x="129.76" y="111.5"/><use href="#ma" x="129.76" y="113.99"/><use href="#ma" x="129.76" y="116.48"/><use href="#ma" x="129.76" y="118.97"/><use href="#ma" x="129.76" y="121.47"/><use href="#ma" x="129.76" y="123.96"/><use href="#ma" x="129.76" y="126.45"/><use href="#ma" x="129.76" y="128.94"/><use href="#ma" x="129.76" y="131.43"/><use href="#ma" x="129.76" y="133.93"/><use href="#ma" x="129.76" y="136.42"/><use href="#ma" x="129.76" y="138.91"/><use href="#ma" x="129.76" y="141.4"/><ellipse cx="129.76" cy="81.6" rx="0.9" ry="1.0" fill="#efcab2"/><ellipse cx="129.76" cy="84.09" rx="0.9" ry="1.0" fill="#efcab2"/><ellipse cx="129.76" cy="86.58" rx="0.9" ry="1.0" fill="#efcab2"/><ellipse cx="129.76" cy="89.07" rx="0.9" ry="1.0" fill="#efcab2"/><ellipse cx="129.76" cy="91.57" rx="0.9" ry="1.0" fill="#efcab2"/><ellipse cx="129.76" cy="94.06" rx="0.9" ry="1.0" fill="#efcab2"/><ellipse cx="129.76" cy="96.55" rx="0.9" ry="1.0" fill="#efcab2"/><ellipse cx="129.76" cy="99.04" rx="0.9" ry="1.0" fill="#efcab2"/><ellipse cx="129.76" cy="101.53" rx="0.9" ry="1.0" fill="#efcab2"/><ellipse cx="129.76" cy="104.02" rx="0.9" ry="1.0" fill="#efcab2"/><ellipse cx="129.76" cy="106.52" rx="0.9" ry="1.0" fill="#efcab2"/><ellipse cx="129.76" cy="109.01" rx="0.9" ry="1.0" fill="#efcab2"/><ellipse cx="129.76" cy="111.5" rx="0.9" ry="1.0" fill="#efcab2"/><ellipse cx="129.76" cy="113.99" rx="0.9" ry="1.0" fill="#efcab2"/><ellipse cx="129.76" cy="116.48" rx="0.9" ry="1.0" fill="#efcab2"/><ellipse cx="129.76" cy="118.97" rx="0.9" ry="1.0" fill="#efcab2"/><ellipse cx="129.76" cy="121.47" rx="0.9" ry="1.0" fill="#efcab2"/><ellipse cx="129.76" cy="123.96" rx="0.9" ry="1.0" fill="#efcab2"/><ellipse cx="129.76" cy="126.45" rx="0.9" ry="1.0" fill="#efcab2"/><ellipse cx="129.76" cy="128.94" rx="0.9" ry="1.0" fill="#efcab2"/><ellipse cx="129.76" cy="131.43" rx="0.9" ry="1.0" fill="#efcab2"/><ellipse cx="129.76" cy="133.93" rx="0.9" ry="1.0" fill="#efcab2"/><ellipse cx="129.76" cy="136.42" rx="0.9" ry="1.0" fill="#efcab2"/><ellipse cx="129.76" cy="138.91" rx="0.9" ry="1.0" fill="#efcab2"/><ellipse cx="129.76" cy="141.4" rx="0.9" ry="1.0" fill="#efcab2"/><use href="#mao" x="136.4" y="77.6"/><use href="#mao" x="136.4" y="142.2"/><use href="#mao" x="136.4" y="146.1"/><rect x="134.65" y="85.6" width="3.51" height="51.8" fill="#b98365"/><use href="#ma" x="136.4" y="85.6"/><use href="#ma" x="136.4" y="88.07"/><use href="#ma" x="136.4" y="90.53"/><use href="#ma" x="136.4" y="93"/><use href="#ma" x="136.4" y="95.47"/><use href="#ma" x="136.4" y="97.93"/><use href="#ma" x="136.4" y="100.4"/><use href="#ma" x="136.4" y="102.87"/><use href="#ma" x="136.4" y="105.33"/><use href="#ma" x="136.4" y="107.8"/><use href="#ma" x="136.4" y="110.27"/><use href="#ma" x="136.4" y="112.73"/><use href="#ma" x="136.4" y="115.2"/><use href="#ma" x="136.4" y="117.67"/><use href="#ma" x="136.4" y="120.13"/><use href="#ma" x="136.4" y="122.6"/><use href="#ma" x="136.4" y="125.07"/><use href="#ma" x="136.4" y="127.53"/><use href="#ma" x="136.4" y="130"/><use href="#ma" x="136.4" y="132.47"/><use href="#ma" x="136.4" y="134.93"/><use href="#ma" x="136.4" y="137.4"/><ellipse cx="136.4" cy="85.6" rx="0.9" ry="1.0" fill="#efcab2"/><ellipse cx="136.4" cy="88.07" rx="0.9" ry="1.0" fill="#efcab2"/><ellipse cx="136.4" cy="90.53" rx="0.9" ry="1.0" fill="#efcab2"/><ellipse cx="136.4" cy="93" rx="0.9" ry="1.0" fill="#efcab2"/><ellipse cx="136.4" cy="95.47" rx="0.9" ry="1.0" fill="#efcab2"/><ellipse cx="136.4" cy="97.93" rx="0.9" ry="1.0" fill="#efcab2"/><ellipse cx="136.4" cy="100.4" rx="0.9" ry="1.0" fill="#efcab2"/><ellipse cx="136.4" cy="102.87" rx="0.9" ry="1.0" fill="#efcab2"/><ellipse cx="136.4" cy="105.33" rx="0.9" ry="1.0" fill="#efcab2"/><ellipse cx="136.4" cy="107.8" rx="0.9" ry="1.0" fill="#efcab2"/><ellipse cx="136.4" cy="110.27" rx="0.9" ry="1.0" fill="#efcab2"/><ellipse cx="136.4" cy="112.73" rx="0.9" ry="1.0" fill="#efcab2"/><ellipse cx="136.4" cy="115.2" rx="0.9" ry="1.0" fill="#efcab2"/><ellipse cx="136.4" cy="117.67" rx="0.9" ry="1.0" fill="#efcab2"/><ellipse cx="136.4" cy="120.13" rx="0.9" ry="1.0" fill="#efcab2"/><ellipse cx="136.4" cy="122.6" rx="0.9" ry="1.0" fill="#efcab2"/><ellipse cx="136.4" cy="125.07" rx="0.9" ry="1.0" fill="#efcab2"/><ellipse cx="136.4" cy="127.53" rx="0.9" ry="1.0" fill="#efcab2"/><ellipse cx="136.4" cy="130" rx="0.9" ry="1.0" fill="#efcab2"/><ellipse cx="136.4" cy="132.47" rx="0.9" ry="1.0" fill="#efcab2"/><ellipse cx="136.4" cy="134.93" rx="0.9" ry="1.0" fill="#efcab2"/><ellipse cx="136.4" cy="137.4" rx="0.9" ry="1.0" fill="#efcab2"/><use href="#mao" x="143.04" y="143.5"/><rect x="141.29" y="88.9" width="3.51" height="45.9" fill="#b98365"/><use href="#ma" x="143.04" y="88.9"/><use href="#ma" x="143.04" y="91.45"/><use href="#ma" x="143.04" y="94"/><use href="#ma" x="143.04" y="96.55"/><use href="#ma" x="143.04" y="99.1"/><use href="#ma" x="143.04" y="101.65"/><use href="#ma" x="143.04" y="104.2"/><use href="#ma" x="143.04" y="106.75"/><use href="#ma" x="143.04" y="109.3"/><use href="#ma" x="143.04" y="111.85"/><use href="#ma" x="143.04" y="114.4"/><use href="#ma" x="143.04" y="116.95"/><use href="#ma" x="143.04" y="119.5"/><use href="#ma" x="143.04" y="122.05"/><use href="#ma" x="143.04" y="124.6"/><use href="#ma" x="143.04" y="127.15"/><use href="#ma" x="143.04" y="129.7"/><use href="#ma" x="143.04" y="132.25"/><use href="#ma" x="143.04" y="134.8"/><ellipse cx="143.04" cy="88.9" rx="0.9" ry="1.0" fill="#efcab2"/><ellipse cx="143.04" cy="91.45" rx="0.9" ry="1.0" fill="#efcab2"/><ellipse cx="143.04" cy="94" rx="0.9" ry="1.0" fill="#efcab2"/><ellipse cx="143.04" cy="96.55" rx="0.9" ry="1.0" fill="#efcab2"/><ellipse cx="143.04" cy="99.1" rx="0.9" ry="1.0" fill="#efcab2"/><ellipse cx="143.04" cy="101.65" rx="0.9" ry="1.0" fill="#efcab2"/><ellipse cx="143.04" cy="104.2" rx="0.9" ry="1.0" fill="#efcab2"/><ellipse cx="143.04" cy="106.75" rx="0.9" ry="1.0" fill="#efcab2"/><ellipse cx="143.04" cy="109.3" rx="0.9" ry="1.0" fill="#efcab2"/><ellipse cx="143.04" cy="111.85" rx="0.9" ry="1.0" fill="#efcab2"/><ellipse cx="143.04" cy="114.4" rx="0.9" ry="1.0" fill="#efcab2"/><ellipse cx="143.04" cy="116.95" rx="0.9" ry="1.0" fill="#efcab2"/><ellipse cx="143.04" cy="119.5" rx="0.9" ry="1.0" fill="#efcab2"/><ellipse cx="143.04" cy="122.05" rx="0.9" ry="1.0" fill="#efcab2"/><ellipse cx="143.04" cy="124.6" rx="0.9" ry="1.0" fill="#efcab2"/><ellipse cx="143.04" cy="127.15" rx="0.9" ry="1.0" fill="#efcab2"/><ellipse cx="143.04" cy="129.7" rx="0.9" ry="1.0" fill="#efcab2"/><ellipse cx="143.04" cy="132.25" rx="0.9" ry="1.0" fill="#efcab2"/><ellipse cx="143.04" cy="134.8" rx="0.9" ry="1.0" fill="#efcab2"/><rect x="147.93" y="96.1" width="3.51" height="39.4" fill="#b98365"/><use href="#ma" x="149.68" y="96.1"/><use href="#ma" x="149.68" y="98.56"/><use href="#ma" x="149.68" y="101.02"/><use href="#ma" x="149.68" y="103.49"/><use href="#ma" x="149.68" y="105.95"/><use href="#ma" x="149.68" y="108.41"/><use href="#ma" x="149.68" y="110.88"/><use href="#ma" x="149.68" y="113.34"/><use href="#ma" x="149.68" y="115.8"/><use href="#ma" x="149.68" y="118.26"/><use href="#ma" x="149.68" y="120.72"/><use href="#ma" x="149.68" y="123.19"/><use href="#ma" x="149.68" y="125.65"/><use href="#ma" x="149.68" y="128.11"/><use href="#ma" x="149.68" y="130.57"/><use href="#ma" x="149.68" y="133.04"/><use href="#ma" x="149.68" y="135.5"/><ellipse cx="149.68" cy="96.1" rx="0.9" ry="1.0" fill="#efcab2"/><ellipse cx="149.68" cy="98.56" rx="0.9" ry="1.0" fill="#efcab2"/><ellipse cx="149.68" cy="101.02" rx="0.9" ry="1.0" fill="#efcab2"/><ellipse cx="149.68" cy="103.49" rx="0.9" ry="1.0" fill="#efcab2"/><ellipse cx="149.68" cy="105.95" rx="0.9" ry="1.0" fill="#efcab2"/><ellipse cx="149.68" cy="108.41" rx="0.9" ry="1.0" fill="#efcab2"/><ellipse cx="149.68" cy="110.88" rx="0.9" ry="1.0" fill="#efcab2"/><ellipse cx="149.68" cy="113.34" rx="0.9" ry="1.0" fill="#efcab2"/><ellipse cx="149.68" cy="115.8" rx="0.9" ry="1.0" fill="#efcab2"/><ellipse cx="149.68" cy="118.26" rx="0.9" ry="1.0" fill="#efcab2"/><ellipse cx="149.68" cy="120.72" rx="0.9" ry="1.0" fill="#efcab2"/><ellipse cx="149.68" cy="123.19" rx="0.9" ry="1.0" fill="#efcab2"/><ellipse cx="149.68" cy="125.65" rx="0.9" ry="1.0" fill="#efcab2"/><ellipse cx="149.68" cy="128.11" rx="0.9" ry="1.0" fill="#efcab2"/><ellipse cx="149.68" cy="130.57" rx="0.9" ry="1.0" fill="#efcab2"/><ellipse cx="149.68" cy="133.04" rx="0.9" ry="1.0" fill="#efcab2"/><ellipse cx="149.68" cy="135.5" rx="0.9" ry="1.0" fill="#efcab2"/><rect x="154.56" y="98.1" width="3.51" height="32.1" fill="#b98365"/><use href="#ma" x="156.32" y="98.1"/><use href="#ma" x="156.32" y="100.57"/><use href="#ma" x="156.32" y="103.04"/><use href="#ma" x="156.32" y="105.51"/><use href="#ma" x="156.32" y="107.98"/><use href="#ma" x="156.32" y="110.45"/><use href="#ma" x="156.32" y="112.92"/><use href="#ma" x="156.32" y="115.38"/><use href="#ma" x="156.32" y="117.85"/><use href="#ma" x="156.32" y="120.32"/><use href="#ma" x="156.32" y="122.79"/><use href="#ma" x="156.32" y="125.26"/><use href="#ma" x="156.32" y="127.73"/><use href="#ma" x="156.32" y="130.2"/><ellipse cx="156.32" cy="98.1" rx="0.9" ry="1.0" fill="#efcab2"/><ellipse cx="156.32" cy="100.57" rx="0.9" ry="1.0" fill="#efcab2"/><ellipse cx="156.32" cy="103.04" rx="0.9" ry="1.0" fill="#efcab2"/><ellipse cx="156.32" cy="105.51" rx="0.9" ry="1.0" fill="#efcab2"/><ellipse cx="156.32" cy="107.98" rx="0.9" ry="1.0" fill="#efcab2"/><ellipse cx="156.32" cy="110.45" rx="0.9" ry="1.0" fill="#efcab2"/><ellipse cx="156.32" cy="112.92" rx="0.9" ry="1.0" fill="#efcab2"/><ellipse cx="156.32" cy="115.38" rx="0.9" ry="1.0" fill="#efcab2"/><ellipse cx="156.32" cy="117.85" rx="0.9" ry="1.0" fill="#efcab2"/><ellipse cx="156.32" cy="120.32" rx="0.9" ry="1.0" fill="#efcab2"/><ellipse cx="156.32" cy="122.79" rx="0.9" ry="1.0" fill="#efcab2"/><ellipse cx="156.32" cy="125.26" rx="0.9" ry="1.0" fill="#efcab2"/><ellipse cx="156.32" cy="127.73" rx="0.9" ry="1.0" fill="#efcab2"/><ellipse cx="156.32" cy="130.2" rx="0.9" ry="1.0" fill="#efcab2"/><rect x="161.21" y="107.4" width="3.51" height="16.2" fill="#b98365"/><use href="#ma" x="162.96" y="107.4"/><use href="#ma" x="162.96" y="110.1"/><use href="#ma" x="162.96" y="112.8"/><use href="#ma" x="162.96" y="115.5"/><use href="#ma" x="162.96" y="118.2"/><use href="#ma" x="162.96" y="120.9"/><use href="#ma" x="162.96" y="123.6"/><ellipse cx="162.96" cy="107.4" rx="0.9" ry="1.0" fill="#efcab2"/><ellipse cx="162.96" cy="110.1" rx="0.9" ry="1.0" fill="#efcab2"/><ellipse cx="162.96" cy="112.8" rx="0.9" ry="1.0" fill="#efcab2"/><ellipse cx="162.96" cy="115.5" rx="0.9" ry="1.0" fill="#efcab2"/><ellipse cx="162.96" cy="118.2" rx="0.9" ry="1.0" fill="#efcab2"/><ellipse cx="162.96" cy="120.9" rx="0.9" ry="1.0" fill="#efcab2"/><ellipse cx="162.96" cy="123.6" rx="0.9" ry="1.0" fill="#efcab2"/></g><ellipse cx="43.44" cy="77.6" rx="2.2" ry="2.64" fill="#fff"/><circle cx="43.44" cy="77.6" r="1.35" fill="#000"/><ellipse cx="50.08" cy="81.1" rx="2.2" ry="2.64" fill="#fff"/><circle cx="50.08" cy="81.1" r="1.35" fill="#000"/><ellipse cx="56.72" cy="85.1" rx="2.2" ry="2.64" fill="#fff"/><circle cx="56.72" cy="85.1" r="1.35" fill="#000"/><ellipse cx="63.36" cy="89" rx="2.2" ry="2.64" fill="#fff"/><circle cx="63.36" cy="89" r="1.35" fill="#000"/><ellipse cx="70" cy="91.4" rx="2.2" ry="2.64" fill="#fff"/><circle cx="70" cy="91.4" r="1.35" fill="#000"/><ellipse cx="76.64" cy="94" rx="2.2" ry="2.64" fill="#fff"/><circle cx="76.64" cy="94" r="1.35" fill="#000"/><ellipse cx="83.28" cy="98.3" rx="2.2" ry="2.64" fill="#fff"/><circle cx="83.28" cy="98.3" r="1.35" fill="#000"/><ellipse cx="89.92" cy="100.9" rx="2.2" ry="2.64" fill="#fff"/><circle cx="89.92" cy="100.9" r="1.35" fill="#000"/><ellipse cx="96.56" cy="101.7" rx="2.2" ry="2.64" fill="#fff"/><circle cx="96.56" cy="101.7" r="1.35" fill="#000"/><ellipse cx="103.2" cy="106.3" rx="2.2" ry="2.64" fill="#fff"/><circle cx="103.2" cy="106.3" r="1.35" fill="#000"/><ellipse cx="109.84" cy="107.6" rx="2.2" ry="2.64" fill="#fff"/><circle cx="109.84" cy="107.6" r="1.35" fill="#000"/><ellipse cx="116.48" cy="109" rx="2.2" ry="2.64" fill="#fff"/><circle cx="116.48" cy="109" r="1.35" fill="#000"/><ellipse cx="123.12" cy="109.5" rx="2.2" ry="2.64" fill="#fff"/><circle cx="123.12" cy="109.5" r="1.35" fill="#000"/><ellipse cx="129.76" cy="111.6" rx="2.2" ry="2.64" fill="#fff"/><circle cx="129.76" cy="111.6" r="1.35" fill="#000"/><ellipse cx="136.4" cy="112.9" rx="2.2" ry="2.64" fill="#fff"/><circle cx="136.4" cy="112.9" r="1.35" fill="#000"/><ellipse cx="143.04" cy="113.6" rx="2.2" ry="2.64" fill="#fff"/><circle cx="143.04" cy="113.6" r="1.35" fill="#000"/><ellipse cx="149.68" cy="113.8" rx="2.2" ry="2.64" fill="#fff"/><circle cx="149.68" cy="113.8" r="1.35" fill="#000"/><ellipse cx="156.32" cy="115.8" rx="2.2" ry="2.64" fill="#fff"/><circle cx="156.32" cy="115.8" r="1.35" fill="#000"/><ellipse cx="162.96" cy="116.5" rx="2.2" ry="2.64" fill="#fff"/><circle cx="162.96" cy="116.5" r="1.35" fill="#000"/><rect x="37" y="29.7" width="132.8" height="142.8" fill="none" stroke="#a2a2a2" stroke-width="1.5"/><line x1="34.8" y1="29.5" x2="36.8" y2="29.5" stroke="#6a6a6a" stroke-width="0.9"/><text x="30.5" y="31.7" text-anchor="end">260</text><line x1="34.8" y1="49.9" x2="36.8" y2="49.9" stroke="#6a6a6a" stroke-width="0.9"/><text x="30.5" y="52.1" text-anchor="end">200</text><line x1="34.8" y1="70.3" x2="36.8" y2="70.3" stroke="#6a6a6a" stroke-width="0.9"/><text x="30.5" y="72.5" text-anchor="end">140</text><line x1="34.8" y1="90.7" x2="36.8" y2="90.7" stroke="#6a6a6a" stroke-width="0.9"/><text x="30.5" y="92.9" text-anchor="end">80</text><line x1="34.8" y1="111.1" x2="36.8" y2="111.1" stroke="#6a6a6a" stroke-width="0.9"/><text x="30.5" y="113.3" text-anchor="end">20</text><line x1="34.8" y1="131.5" x2="36.8" y2="131.5" stroke="#6a6a6a" stroke-width="0.9"/><text x="30.5" y="133.7" text-anchor="end">-40</text><line x1="34.8" y1="151.9" x2="36.8" y2="151.9" stroke="#6a6a6a" stroke-width="0.9"/><text x="30.5" y="154.1" text-anchor="end">-100</text><line x1="34.8" y1="172.3" x2="36.8" y2="172.3" stroke="#6a6a6a" stroke-width="0.9"/><text x="30.5" y="174.5" text-anchor="end">-160</text><line x1="36.8" y1="172.3" x2="36.8" y2="174.3" stroke="#6a6a6a" stroke-width="0.9"/><text x="36.8" y="183.2" text-anchor="middle">0</text><line x1="63.36" y1="172.3" x2="63.36" y2="174.3" stroke="#6a6a6a" stroke-width="0.9"/><text x="63.36" y="183.2" text-anchor="middle">20</text><line x1="89.92" y1="172.3" x2="89.92" y2="174.3" stroke="#6a6a6a" stroke-width="0.9"/><text x="89.92" y="183.2" text-anchor="middle">40</text><line x1="116.48" y1="172.3" x2="116.48" y2="174.3" stroke="#6a6a6a" stroke-width="0.9"/><text x="116.48" y="183.2" text-anchor="middle">60</text><line x1="143.04" y1="172.3" x2="143.04" y2="174.3" stroke="#6a6a6a" stroke-width="0.9"/><text x="143.04" y="183.2" text-anchor="middle">80</text><line x1="169.6" y1="172.3" x2="169.6" y2="174.3" stroke="#6a6a6a" stroke-width="0.9"/><text x="169.6" y="183.2" text-anchor="middle">100</text><text x="50.8" y="37.8">Ni-Fe : 480 atoms system</text><text x="102.7" y="192.6" text-anchor="middle">Fe Conc (%)</text><text transform="translate(12.4,99.6) rotate(-90) scale(1.0)" text-anchor="middle">SFE (mJ/m<tspan font-size="5.5" dy="-3">2</tspan><tspan dy="3">)</tspan></text><text x="11" y="16.5">a)</text></g>
<g><defs><path id="mb" d="M0,-2.3 L1.95,0 L0,2.3 L-1.95,0Z" fill="#a9cb96" stroke="#6a7c64" stroke-width="0.8"/><path id="mbo" d="M0,-2.3 L1.95,0 L0,2.3 L-1.95,0Z" fill="#d6e8cc" stroke="#849c78" stroke-width="0.8"/></defs><g style="filter:blur(0.35px)"><rect x="211.65" y="74.9" width="3.51" height="5.7" fill="#86a874"/><use href="#mb" x="213.41" y="74.9"/><use href="#mb" x="213.41" y="77.75"/><use href="#mb" x="213.41" y="80.6"/><ellipse cx="213.41" cy="74.9" rx="0.9" ry="1.0" fill="#d6eacb"/><ellipse cx="213.41" cy="77.75" rx="0.9" ry="1.0" fill="#d6eacb"/><ellipse cx="213.41" cy="80.6" rx="0.9" ry="1.0" fill="#d6eacb"/><rect x="218.35" y="77.5" width="3.51" height="9" fill="#86a874"/><use href="#mb" x="220.11" y="77.5"/><use href="#mb" x="220.11" y="79.75"/><use href="#mb" x="220.11" y="82"/><use href="#mb" x="220.11" y="84.25"/><use href="#mb" x="220.11" y="86.5"/><ellipse cx="220.11" cy="77.5" rx="0.9" ry="1.0" fill="#d6eacb"/><ellipse cx="220.11" cy="79.75" rx="0.9" ry="1.0" fill="#d6eacb"/><ellipse cx="220.11" cy="82" rx="0.9" ry="1.0" fill="#d6eacb"/><ellipse cx="220.11" cy="84.25" rx="0.9" ry="1.0" fill="#d6eacb"/><ellipse cx="220.11" cy="86.5" rx="0.9" ry="1.0" fill="#d6eacb"/><rect x="225.06" y="78.2" width="3.51" height="16.2" fill="#86a874"/><use href="#mb" x="226.81" y="78.2"/><use href="#mb" x="226.81" y="80.9"/><use href="#mb" x="226.81" y="83.6"/><use href="#mb" x="226.81" y="86.3"/><use href="#mb" x="226.81" y="89"/><use href="#mb" x="226.81" y="91.7"/><use href="#mb" x="226.81" y="94.4"/><ellipse cx="226.81" cy="78.2" rx="0.9" ry="1.0" fill="#d6eacb"/><ellipse cx="226.81" cy="80.9" rx="0.9" ry="1.0" fill="#d6eacb"/><ellipse cx="226.81" cy="83.6" rx="0.9" ry="1.0" fill="#d6eacb"/><ellipse cx="226.81" cy="86.3" rx="0.9" ry="1.0" fill="#d6eacb"/><ellipse cx="226.81" cy="89" rx="0.9" ry="1.0" fill="#d6eacb"/><ellipse cx="226.81" cy="91.7" rx="0.9" ry="1.0" fill="#d6eacb"/><ellipse cx="226.81" cy="94.4" rx="0.9" ry="1.0" fill="#d6eacb"/><rect x="231.76" y="77.5" width="3.51" height="19.6" fill="#86a874"/><use href="#mb" x="233.52" y="77.5"/><use href="#mb" x="233.52" y="79.95"/><use href="#mb" x="233.52" y="82.4"/><use href="#mb" x="233.52" y="84.85"/><use href="#mb" x="233.52" y="87.3"/><use href="#mb" x="233.52" y="89.75"/><use href="#mb" x="233.52" y="92.2"/><use href="#mb" x="233.52" y="94.65"/><use href="#mb" x="233.52" y="97.1"/><ellipse cx="233.52" cy="77.5" rx="0.9" ry="1.0" fill="#d6eacb"/><ellipse cx="233.52" cy="79.95" rx="0.9" ry="1.0" fill="#d6eacb"/><ellipse cx="233.52" cy="82.4" rx="0.9" ry="1.0" fill="#d6eacb"/><ellipse cx="233.52" cy="84.85" rx="0.9" ry="1.0" fill="#d6eacb"/><ellipse cx="233.52" cy="87.3" rx="0.9" ry="1.0" fill="#d6eacb"/><ellipse cx="233.52" cy="89.75" rx="0.9" ry="1.0" fill="#d6eacb"/><ellipse cx="233.52" cy="92.2" rx="0.9" ry="1.0" fill="#d6eacb"/><ellipse cx="233.52" cy="94.65" rx="0.9" ry="1.0" fill="#d6eacb"/><ellipse cx="233.52" cy="97.1" rx="0.9" ry="1.0" fill="#d6eacb"/><rect x="238.47" y="82.1" width="3.51" height="22.8" fill="#86a874"/><use href="#mb" x="240.22" y="82.1"/><use href="#mb" x="240.22" y="84.63"/><use href="#mb" x="240.22" y="87.17"/><use href="#mb" x="240.22" y="89.7"/><use href="#mb" x="240.22" y="92.23"/><use href="#mb" x="240.22" y="94.77"/><use href="#mb" x="240.22" y="97.3"/><use href="#mb" x="240.22" y="99.83"/><use href="#mb" x="240.22" y="102.37"/><use href="#mb" x="240.22" y="104.9"/><ellipse cx="240.22" cy="82.1" rx="0.9" ry="1.0" fill="#d6eacb"/><ellipse cx="240.22" cy="84.63" rx="0.9" ry="1.0" fill="#d6eacb"/><ellipse cx="240.22" cy="87.17" rx="0.9" ry="1.0" fill="#d6eacb"/><ellipse cx="240.22" cy="89.7" rx="0.9" ry="1.0" fill="#d6eacb"/><ellipse cx="240.22" cy="92.23" rx="0.9" ry="1.0" fill="#d6eacb"/><ellipse cx="240.22" cy="94.77" rx="0.9" ry="1.0" fill="#d6eacb"/><ellipse cx="240.22" cy="97.3" rx="0.9" ry="1.0" fill="#d6eacb"/><ellipse cx="240.22" cy="99.83" rx="0.9" ry="1.0" fill="#d6eacb"/><ellipse cx="240.22" cy="102.37" rx="0.9" ry="1.0" fill="#d6eacb"/><ellipse cx="240.22" cy="104.9" rx="0.9" ry="1.0" fill="#d6eacb"/><rect x="245.18" y="82.8" width="3.51" height="25.5" fill="#86a874"/><use href="#mb" x="246.93" y="82.8"/><use href="#mb" x="246.93" y="85.35"/><use href="#mb" x="246.93" y="87.9"/><use href="#mb" x="246.93" y="90.45"/><use href="#mb" x="246.93" y="93"/><use href="#mb" x="246.93" y="95.55"/><use href="#mb" x="246.93" y="98.1"/><use href="#mb" x="246.93" y="100.65"/><use href="#mb" x="246.93" y="103.2"/><use href="#mb" x="246.93" y="105.75"/><use href="#mb" x="246.93" y="108.3"/><ellipse cx="246.93" cy="82.8" rx="0.9" ry="1.0" fill="#d6eacb"/><ellipse cx="246.93" cy="85.35" rx="0.9" ry="1.0" fill="#d6eacb"/><ellipse cx="246.93" cy="87.9" rx="0.9" ry="1.0" fill="#d6eacb"/><ellipse cx="246.93" cy="90.45" rx="0.9" ry="1.0" fill="#d6eacb"/><ellipse cx="246.93" cy="93" rx="0.9" ry="1.0" fill="#d6eacb"/><ellipse cx="246.93" cy="95.55" rx="0.9" ry="1.0" fill="#d6eacb"/><ellipse cx="246.93" cy="98.1" rx="0.9" ry="1.0" fill="#d6eacb"/><ellipse cx="246.93" cy="100.65" rx="0.9" ry="1.0" fill="#d6eacb"/><ellipse cx="246.93" cy="103.2" rx="0.9" ry="1.0" fill="#d6eacb"/><ellipse cx="246.93" cy="105.75" rx="0.9" ry="1.0" fill="#d6eacb"/><ellipse cx="246.93" cy="108.3" rx="0.9" ry="1.0" fill="#d6eacb"/><rect x="251.88" y="85.4" width="3.51" height="26.2" fill="#86a874"/><use href="#mb" x="253.63" y="85.4"/><use href="#mb" x="253.63" y="88.02"/><use href="#mb" x="253.63" y="90.64"/><use href="#mb" x="253.63" y="93.26"/><use href="#mb" x="253.63" y="95.88"/><use href="#mb" x="253.63" y="98.5"/><use href="#mb" x="253.63" y="101.12"/><use href="#mb" x="253.63" y="103.74"/><use href="#mb" x="253.63" y="106.36"/><use href="#mb" x="253.63" y="108.98"/><use href="#mb" x="253.63" y="111.6"/><ellipse cx="253.63" cy="85.4" rx="0.9" ry="1.0" fill="#d6eacb"/><ellipse cx="253.63" cy="88.02" rx="0.9" ry="1.0" fill="#d6eacb"/><ellipse cx="253.63" cy="90.64" rx="0.9" ry="1.0" fill="#d6eacb"/><ellipse cx="253.63" cy="93.26" rx="0.9" ry="1.0" fill="#d6eacb"/><ellipse cx="253.63" cy="95.88" rx="0.9" ry="1.0" fill="#d6eacb"/><ellipse cx="253.63" cy="98.5" rx="0.9" ry="1.0" fill="#d6eacb"/><ellipse cx="253.63" cy="101.12" rx="0.9" ry="1.0" fill="#d6eacb"/><ellipse cx="253.63" cy="103.74" rx="0.9" ry="1.0" fill="#d6eacb"/><ellipse cx="253.63" cy="106.36" rx="0.9" ry="1.0" fill="#d6eacb"/><ellipse cx="253.63" cy="108.98" rx="0.9" ry="1.0" fill="#d6eacb"/><ellipse cx="253.63" cy="111.6" rx="0.9" ry="1.0" fill="#d6eacb"/><rect x="258.59" y="85.4" width="3.51" height="29.5" fill="#86a874"/><use href="#mb" x="260.34" y="85.4"/><use href="#mb" x="260.34" y="87.86"/><use href="#mb" x="260.34" y="90.32"/><use href="#mb" x="260.34" y="92.77"/><use href="#mb" x="260.34" y="95.23"/><use href="#mb" x="260.34" y="97.69"/><use href="#mb" x="260.34" y="100.15"/><use href="#mb" x="260.34" y="102.61"/><use href="#mb" x="260.34" y="105.07"/><use href="#mb" x="260.34" y="107.53"/><use href="#mb" x="260.34" y="109.98"/><use href="#mb" x="260.34" y="112.44"/><use href="#mb" x="260.34" y="114.9"/><ellipse cx="260.34" cy="85.4" rx="0.9" ry="1.0" fill="#d6eacb"/><ellipse cx="260.34" cy="87.86" rx="0.9" ry="1.0" fill="#d6eacb"/><ellipse cx="260.34" cy="90.32" rx="0.9" ry="1.0" fill="#d6eacb"/><ellipse cx="260.34" cy="92.77" rx="0.9" ry="1.0" fill="#d6eacb"/><ellipse cx="260.34" cy="95.23" rx="0.9" ry="1.0" fill="#d6eacb"/><ellipse cx="260.34" cy="97.69" rx="0.9" ry="1.0" fill="#d6eacb"/><ellipse cx="260.34" cy="100.15" rx="0.9" ry="1.0" fill="#d6eacb"/><ellipse cx="260.34" cy="102.61" rx="0.9" ry="1.0" fill="#d6eacb"/><ellipse cx="260.34" cy="105.07" rx="0.9" ry="1.0" fill="#d6eacb"/><ellipse cx="260.34" cy="107.53" rx="0.9" ry="1.0" fill="#d6eacb"/><ellipse cx="260.34" cy="109.98" rx="0.9" ry="1.0" fill="#d6eacb"/><ellipse cx="260.34" cy="112.44" rx="0.9" ry="1.0" fill="#d6eacb"/><ellipse cx="260.34" cy="114.9" rx="0.9" ry="1.0" fill="#d6eacb"/><rect x="265.29" y="90.1" width="3.51" height="26.1" fill="#86a874"/><use href="#mb" x="267.05" y="90.1"/><use href="#mb" x="267.05" y="92.71"/><use href="#mb" x="267.05" y="95.32"/><use href="#mb" x="267.05" y="97.93"/><use href="#mb" x="267.05" y="100.54"/><use href="#mb" x="267.05" y="103.15"/><use href="#mb" x="267.05" y="105.76"/><use href="#mb" x="267.05" y="108.37"/><use href="#mb" x="267.05" y="110.98"/><use href="#mb" x="267.05" y="113.59"/><use href="#mb" x="267.05" y="116.2"/><ellipse cx="267.05" cy="90.1" rx="0.9" ry="1.0" fill="#d6eacb"/><ellipse cx="267.05" cy="92.71" rx="0.9" ry="1.0" fill="#d6eacb"/><ellipse cx="267.05" cy="95.32" rx="0.9" ry="1.0" fill="#d6eacb"/><ellipse cx="267.05" cy="97.93" rx="0.9" ry="1.0" fill="#d6eacb"/><ellipse cx="267.05" cy="100.54" rx="0.9" ry="1.0" fill="#d6eacb"/><ellipse cx="267.05" cy="103.15" rx="0.9" ry="1.0" fill="#d6eacb"/><ellipse cx="267.05" cy="105.76" rx="0.9" ry="1.0" fill="#d6eacb"/><ellipse cx="267.05" cy="108.37" rx="0.9" ry="1.0" fill="#d6eacb"/><ellipse cx="267.05" cy="110.98" rx="0.9" ry="1.0" fill="#d6eacb"/><ellipse cx="267.05" cy="113.59" rx="0.9" ry="1.0" fill="#d6eacb"/><ellipse cx="267.05" cy="116.2" rx="0.9" ry="1.0" fill="#d6eacb"/><use href="#mbo" x="273.75" y="124.8"/><rect x="272" y="93.3" width="3.51" height="25.5" fill="#86a874"/><use href="#mb" x="273.75" y="93.3"/><use href="#mb" x="273.75" y="95.85"/><use href="#mb" x="273.75" y="98.4"/><use href="#mb" x="273.75" y="100.95"/><use href="#mb" x="273.75" y="103.5"/><use href="#mb" x="273.75" y="106.05"/><use href="#mb" x="273.75" y="108.6"/><use href="#mb" x="273.75" y="111.15"/><use href="#mb" x="273.75" y="113.7"/><use href="#mb" x="273.75" y="116.25"/><use href="#mb" x="273.75" y="118.8"/><ellipse cx="273.75" cy="93.3" rx="0.9" ry="1.0" fill="#d6eacb"/><ellipse cx="273.75" cy="95.85" rx="0.9" ry="1.0" fill="#d6eacb"/><ellipse cx="273.75" cy="98.4" rx="0.9" ry="1.0" fill="#d6eacb"/><ellipse cx="273.75" cy="100.95" rx="0.9" ry="1.0" fill="#d6eacb"/><ellipse cx="273.75" cy="103.5" rx="0.9" ry="1.0" fill="#d6eacb"/><ellipse cx="273.75" cy="106.05" rx="0.9" ry="1.0" fill="#d6eacb"/><ellipse cx="273.75" cy="108.6" rx="0.9" ry="1.0" fill="#d6eacb"/><ellipse cx="273.75" cy="111.15" rx="0.9" ry="1.0" fill="#d6eacb"/><ellipse cx="273.75" cy="113.7" rx="0.9" ry="1.0" fill="#d6eacb"/><ellipse cx="273.75" cy="116.25" rx="0.9" ry="1.0" fill="#d6eacb"/><ellipse cx="273.75" cy="118.8" rx="0.9" ry="1.0" fill="#d6eacb"/><rect x="278.7" y="93.3" width="3.51" height="31.4" fill="#86a874"/><use href="#mb" x="280.46" y="93.3"/><use href="#mb" x="280.46" y="95.72"/><use href="#mb" x="280.46" y="98.13"/><use href="#mb" x="280.46" y="100.55"/><use href="#mb" x="280.46" y="102.96"/><use href="#mb" x="280.46" y="105.38"/><use href="#mb" x="280.46" y="107.79"/><use href="#mb" x="280.46" y="110.21"/><use href="#mb" x="280.46" y="112.62"/><use href="#mb" x="280.46" y="115.04"/><use href="#mb" x="280.46" y="117.45"/><use href="#mb" x="280.46" y="119.87"/><use href="#mb" x="280.46" y="122.28"/><use href="#mb" x="280.46" y="124.7"/><ellipse cx="280.46" cy="93.3" rx="0.9" ry="1.0" fill="#d6eacb"/><ellipse cx="280.46" cy="95.72" rx="0.9" ry="1.0" fill="#d6eacb"/><ellipse cx="280.46" cy="98.13" rx="0.9" ry="1.0" fill="#d6eacb"/><ellipse cx="280.46" cy="100.55" rx="0.9" ry="1.0" fill="#d6eacb"/><ellipse cx="280.46" cy="102.96" rx="0.9" ry="1.0" fill="#d6eacb"/><ellipse cx="280.46" cy="105.38" rx="0.9" ry="1.0" fill="#d6eacb"/><ellipse cx="280.46" cy="107.79" rx="0.9" ry="1.0" fill="#d6eacb"/><ellipse cx="280.46" cy="110.21" rx="0.9" ry="1.0" fill="#d6eacb"/><ellipse cx="280.46" cy="112.62" rx="0.9" ry="1.0" fill="#d6eacb"/><ellipse cx="280.46" cy="115.04" rx="0.9" ry="1.0" fill="#d6eacb"/><ellipse cx="280.46" cy="117.45" rx="0.9" ry="1.0" fill="#d6eacb"/><ellipse cx="280.46" cy="119.87" rx="0.9" ry="1.0" fill="#d6eacb"/><ellipse cx="280.46" cy="122.28" rx="0.9" ry="1.0" fill="#d6eacb"/><ellipse cx="280.46" cy="124.7" rx="0.9" ry="1.0" fill="#d6eacb"/><rect x="285.4" y="94.6" width="3.51" height="26.8" fill="#86a874"/><use href="#mb" x="287.16" y="94.6"/><use href="#mb" x="287.16" y="97.04"/><use href="#mb" x="287.16" y="99.47"/><use href="#mb" x="287.16" y="101.91"/><use href="#mb" x="287.16" y="104.35"/><use href="#mb" x="287.16" y="106.78"/><use href="#mb" x="287.16" y="109.22"/><use href="#mb" x="287.16" y="111.65"/><use href="#mb" x="287.16" y="114.09"/><use href="#mb" x="287.16" y="116.53"/><use href="#mb" x="287.16" y="118.96"/><use href="#mb" x="287.16" y="121.4"/><ellipse cx="287.16" cy="94.6" rx="0.9" ry="1.0" fill="#d6eacb"/><ellipse cx="287.16" cy="97.04" rx="0.9" ry="1.0" fill="#d6eacb"/><ellipse cx="287.16" cy="99.47" rx="0.9" ry="1.0" fill="#d6eacb"/><ellipse cx="287.16" cy="101.91" rx="0.9" ry="1.0" fill="#d6eacb"/><ellipse cx="287.16" cy="104.35" rx="0.9" ry="1.0" fill="#d6eacb"/><ellipse cx="287.16" cy="106.78" rx="0.9" ry="1.0" fill="#d6eacb"/><ellipse cx="287.16" cy="109.22" rx="0.9" ry="1.0" fill="#d6eacb"/><ellipse cx="287.16" cy="111.65" rx="0.9" ry="1.0" fill="#d6eacb"/><ellipse cx="287.16" cy="114.09" rx="0.9" ry="1.0" fill="#d6eacb"/><ellipse cx="287.16" cy="116.53" rx="0.9" ry="1.0" fill="#d6eacb"/><ellipse cx="287.16" cy="118.96" rx="0.9" ry="1.0" fill="#d6eacb"/><ellipse cx="287.16" cy="121.4" rx="0.9" ry="1.0" fill="#d6eacb"/><rect x="292.11" y="99.2" width="3.51" height="22.9" fill="#86a874"/><use href="#mb" x="293.87" y="99.2"/><use href="#mb" x="293.87" y="101.74"/><use href="#mb" x="293.87" y="104.29"/><use href="#mb" x="293.87" y="106.83"/><use href="#mb" x="293.87" y="109.38"/><use href="#mb" x="293.87" y="111.92"/><use href="#mb" x="293.87" y="114.47"/><use href="#mb" x="293.87" y="117.01"/><use href="#mb" x="293.87" y="119.56"/><use href="#mb" x="293.87" y="122.1"/><ellipse cx="293.87" cy="99.2" rx="0.9" ry="1.0" fill="#d6eacb"/><ellipse cx="293.87" cy="101.74" rx="0.9" ry="1.0" fill="#d6eacb"/><ellipse cx="293.87" cy="104.29" rx="0.9" ry="1.0" fill="#d6eacb"/><ellipse cx="293.87" cy="106.83" rx="0.9" ry="1.0" fill="#d6eacb"/><ellipse cx="293.87" cy="109.38" rx="0.9" ry="1.0" fill="#d6eacb"/><ellipse cx="293.87" cy="111.92" rx="0.9" ry="1.0" fill="#d6eacb"/><ellipse cx="293.87" cy="114.47" rx="0.9" ry="1.0" fill="#d6eacb"/><ellipse cx="293.87" cy="117.01" rx="0.9" ry="1.0" fill="#d6eacb"/><ellipse cx="293.87" cy="119.56" rx="0.9" ry="1.0" fill="#d6eacb"/><ellipse cx="293.87" cy="122.1" rx="0.9" ry="1.0" fill="#d6eacb"/><rect x="298.81" y="102.5" width="3.51" height="18.2" fill="#86a874"/><use href="#mb" x="300.57" y="102.5"/><use href="#mb" x="300.57" y="105.1"/><use href="#mb" x="300.57" y="107.7"/><use href="#mb" x="300.57" y="110.3"/><use href="#mb" x="300.57" y="112.9"/><use href="#mb" x="300.57" y="115.5"/><use href="#mb" x="300.57" y="118.1"/><use href="#mb" x="300.57" y="120.7"/><ellipse cx="300.57" cy="102.5" rx="0.9" ry="1.0" fill="#d6eacb"/><ellipse cx="300.57" cy="105.1" rx="0.9" ry="1.0" fill="#d6eacb"/><ellipse cx="300.57" cy="107.7" rx="0.9" ry="1.0" fill="#d6eacb"/><ellipse cx="300.57" cy="110.3" rx="0.9" ry="1.0" fill="#d6eacb"/><ellipse cx="300.57" cy="112.9" rx="0.9" ry="1.0" fill="#d6eacb"/><ellipse cx="300.57" cy="115.5" rx="0.9" ry="1.0" fill="#d6eacb"/><ellipse cx="300.57" cy="118.1" rx="0.9" ry="1.0" fill="#d6eacb"/><ellipse cx="300.57" cy="120.7" rx="0.9" ry="1.0" fill="#d6eacb"/><rect x="305.52" y="105.1" width="3.51" height="19.6" fill="#86a874"/><use href="#mb" x="307.27" y="105.1"/><use href="#mb" x="307.27" y="107.55"/><use href="#mb" x="307.27" y="110"/><use href="#mb" x="307.27" y="112.45"/><use href="#mb" x="307.27" y="114.9"/><use href="#mb" x="307.27" y="117.35"/><use href="#mb" x="307.27" y="119.8"/><use href="#mb" x="307.27" y="122.25"/><use href="#mb" x="307.27" y="124.7"/><ellipse cx="307.27" cy="105.1" rx="0.9" ry="1.0" fill="#d6eacb"/><ellipse cx="307.27" cy="107.55" rx="0.9" ry="1.0" fill="#d6eacb"/><ellipse cx="307.27" cy="110" rx="0.9" ry="1.0" fill="#d6eacb"/><ellipse cx="307.27" cy="112.45" rx="0.9" ry="1.0" fill="#d6eacb"/><ellipse cx="307.27" cy="114.9" rx="0.9" ry="1.0" fill="#d6eacb"/><ellipse cx="307.27" cy="117.35" rx="0.9" ry="1.0" fill="#d6eacb"/><ellipse cx="307.27" cy="119.8" rx="0.9" ry="1.0" fill="#d6eacb"/><ellipse cx="307.27" cy="122.25" rx="0.9" ry="1.0" fill="#d6eacb"/><ellipse cx="307.27" cy="124.7" rx="0.9" ry="1.0" fill="#d6eacb"/><use href="#mbo" x="313.98" y="128.1"/><rect x="312.23" y="105.8" width="3.51" height="16.9" fill="#86a874"/><use href="#mb" x="313.98" y="105.8"/><use href="#mb" x="313.98" y="108.21"/><use href="#mb" x="313.98" y="110.63"/><use href="#mb" x="313.98" y="113.04"/><use href="#mb" x="313.98" y="115.46"/><use href="#mb" x="313.98" y="117.87"/><use href="#mb" x="313.98" y="120.29"/><use href="#mb" x="313.98" y="122.7"/><ellipse cx="313.98" cy="105.8" rx="0.9" ry="1.0" fill="#d6eacb"/><ellipse cx="313.98" cy="108.21" rx="0.9" ry="1.0" fill="#d6eacb"/><ellipse cx="313.98" cy="110.63" rx="0.9" ry="1.0" fill="#d6eacb"/><ellipse cx="313.98" cy="113.04" rx="0.9" ry="1.0" fill="#d6eacb"/><ellipse cx="313.98" cy="115.46" rx="0.9" ry="1.0" fill="#d6eacb"/><ellipse cx="313.98" cy="117.87" rx="0.9" ry="1.0" fill="#d6eacb"/><ellipse cx="313.98" cy="120.29" rx="0.9" ry="1.0" fill="#d6eacb"/><ellipse cx="313.98" cy="122.7" rx="0.9" ry="1.0" fill="#d6eacb"/><rect x="318.93" y="108.5" width="3.51" height="13.6" fill="#86a874"/><use href="#mb" x="320.69" y="108.5"/><use href="#mb" x="320.69" y="111.22"/><use href="#mb" x="320.69" y="113.94"/><use href="#mb" x="320.69" y="116.66"/><use href="#mb" x="320.69" y="119.38"/><use href="#mb" x="320.69" y="122.1"/><ellipse cx="320.69" cy="108.5" rx="0.9" ry="1.0" fill="#d6eacb"/><ellipse cx="320.69" cy="111.22" rx="0.9" ry="1.0" fill="#d6eacb"/><ellipse cx="320.69" cy="113.94" rx="0.9" ry="1.0" fill="#d6eacb"/><ellipse cx="320.69" cy="116.66" rx="0.9" ry="1.0" fill="#d6eacb"/><ellipse cx="320.69" cy="119.38" rx="0.9" ry="1.0" fill="#d6eacb"/><ellipse cx="320.69" cy="122.1" rx="0.9" ry="1.0" fill="#d6eacb"/><rect x="325.63" y="112.7" width="3.51" height="8.7" fill="#86a874"/><use href="#mb" x="327.39" y="112.7"/><use href="#mb" x="327.39" y="115.6"/><use href="#mb" x="327.39" y="118.5"/><use href="#mb" x="327.39" y="121.4"/><ellipse cx="327.39" cy="112.7" rx="0.9" ry="1.0" fill="#d6eacb"/><ellipse cx="327.39" cy="115.6" rx="0.9" ry="1.0" fill="#d6eacb"/><ellipse cx="327.39" cy="118.5" rx="0.9" ry="1.0" fill="#d6eacb"/><ellipse cx="327.39" cy="121.4" rx="0.9" ry="1.0" fill="#d6eacb"/><rect x="332.34" y="115.1" width="3.51" height="3.9" fill="#86a874"/><use href="#mb" x="334.1" y="115.1"/><use href="#mb" x="334.1" y="117.05"/><use href="#mb" x="334.1" y="119"/><ellipse cx="334.1" cy="115.1" rx="0.9" ry="1.0" fill="#d6eacb"/><ellipse cx="334.1" cy="117.05" rx="0.9" ry="1.0" fill="#d6eacb"/><ellipse cx="334.1" cy="119" rx="0.9" ry="1.0" fill="#d6eacb"/></g><ellipse cx="213.41" cy="77.7" rx="2.2" ry="2.64" fill="#fff"/><circle cx="213.41" cy="77.7" r="1.35" fill="#000"/><ellipse cx="220.11" cy="81.4" rx="2.2" ry="2.64" fill="#fff"/><circle cx="220.11" cy="81.4" r="1.35" fill="#000"/><ellipse cx="226.81" cy="86" rx="2.2" ry="2.64" fill="#fff"/><circle cx="226.81" cy="86" r="1.35" fill="#000"/><ellipse cx="233.52" cy="89.3" rx="2.2" ry="2.64" fill="#fff"/><circle cx="233.52" cy="89.3" r="1.35" fill="#000"/><ellipse cx="240.22" cy="93" rx="2.2" ry="2.64" fill="#fff"/><circle cx="240.22" cy="93" r="1.35" fill="#000"/><ellipse cx="246.93" cy="95.2" rx="2.2" ry="2.64" fill="#fff"/><circle cx="246.93" cy="95.2" r="1.35" fill="#000"/><ellipse cx="253.63" cy="97.8" rx="2.2" ry="2.64" fill="#fff"/><circle cx="253.63" cy="97.8" r="1.35" fill="#000"/><ellipse cx="260.34" cy="101.1" rx="2.2" ry="2.64" fill="#fff"/><circle cx="260.34" cy="101.1" r="1.35" fill="#000"/><ellipse cx="267.05" cy="103.1" rx="2.2" ry="2.64" fill="#fff"/><circle cx="267.05" cy="103.1" r="1.35" fill="#000"/><ellipse cx="273.75" cy="106.6" rx="2.2" ry="2.64" fill="#fff"/><circle cx="273.75" cy="106.6" r="1.35" fill="#000"/><ellipse cx="280.46" cy="108.3" rx="2.2" ry="2.64" fill="#fff"/><circle cx="280.46" cy="108.3" r="1.35" fill="#000"/><ellipse cx="287.16" cy="110" rx="2.2" ry="2.64" fill="#fff"/><circle cx="287.16" cy="110" r="1.35" fill="#000"/><ellipse cx="293.87" cy="111.6" rx="2.2" ry="2.64" fill="#fff"/><circle cx="293.87" cy="111.6" r="1.35" fill="#000"/><ellipse cx="300.57" cy="113" rx="2.2" ry="2.64" fill="#fff"/><circle cx="300.57" cy="113" r="1.35" fill="#000"/><ellipse cx="307.27" cy="114.5" rx="2.2" ry="2.64" fill="#fff"/><circle cx="307.27" cy="114.5" r="1.35" fill="#000"/><ellipse cx="313.98" cy="115" rx="2.2" ry="2.64" fill="#fff"/><circle cx="313.98" cy="115" r="1.35" fill="#000"/><ellipse cx="320.69" cy="116.3" rx="2.2" ry="2.64" fill="#fff"/><circle cx="320.69" cy="116.3" r="1.35" fill="#000"/><ellipse cx="327.39" cy="116.9" rx="2.2" ry="2.64" fill="#fff"/><circle cx="327.39" cy="116.9" r="1.35" fill="#000"/><ellipse cx="334.1" cy="117.2" rx="2.2" ry="2.64" fill="#fff"/><circle cx="334.1" cy="117.2" r="1.35" fill="#000"/><rect x="206.9" y="29.4" width="134.1" height="143.1" fill="none" stroke="#a2a2a2" stroke-width="1.5"/><line x1="204.7" y1="29.2" x2="206.7" y2="29.2" stroke="#6a6a6a" stroke-width="0.9"/><text x="200.4" y="31.4" text-anchor="end">260</text><line x1="204.7" y1="49.64" x2="206.7" y2="49.64" stroke="#6a6a6a" stroke-width="0.9"/><text x="200.4" y="51.84" text-anchor="end">200</text><line x1="204.7" y1="70.09" x2="206.7" y2="70.09" stroke="#6a6a6a" stroke-width="0.9"/><text x="200.4" y="72.29" text-anchor="end">140</text><line x1="204.7" y1="90.53" x2="206.7" y2="90.53" stroke="#6a6a6a" stroke-width="0.9"/><text x="200.4" y="92.73" text-anchor="end">80</text><line x1="204.7" y1="110.97" x2="206.7" y2="110.97" stroke="#6a6a6a" stroke-width="0.9"/><text x="200.4" y="113.17" text-anchor="end">20</text><line x1="204.7" y1="131.41" x2="206.7" y2="131.41" stroke="#6a6a6a" stroke-width="0.9"/><text x="200.4" y="133.61" text-anchor="end">-40</text><line x1="204.7" y1="151.86" x2="206.7" y2="151.86" stroke="#6a6a6a" stroke-width="0.9"/><text x="200.4" y="154.06" text-anchor="end">-100</text><line x1="204.7" y1="172.3" x2="206.7" y2="172.3" stroke="#6a6a6a" stroke-width="0.9"/><text x="200.4" y="174.5" text-anchor="end">-160</text><line x1="206.7" y1="172.3" x2="206.7" y2="174.3" stroke="#6a6a6a" stroke-width="0.9"/><text x="206.7" y="183.2" text-anchor="middle">0</text><line x1="233.52" y1="172.3" x2="233.52" y2="174.3" stroke="#6a6a6a" stroke-width="0.9"/><text x="233.52" y="183.2" text-anchor="middle">20</text><line x1="260.34" y1="172.3" x2="260.34" y2="174.3" stroke="#6a6a6a" stroke-width="0.9"/><text x="260.34" y="183.2" text-anchor="middle">40</text><line x1="287.16" y1="172.3" x2="287.16" y2="174.3" stroke="#6a6a6a" stroke-width="0.9"/><text x="287.16" y="183.2" text-anchor="middle">60</text><line x1="313.98" y1="172.3" x2="313.98" y2="174.3" stroke="#6a6a6a" stroke-width="0.9"/><text x="313.98" y="183.2" text-anchor="middle">80</text><line x1="340.8" y1="172.3" x2="340.8" y2="174.3" stroke="#6a6a6a" stroke-width="0.9"/><text x="340.8" y="183.2" text-anchor="middle">100</text><text x="218" y="38">Ni-Fe : 4,320 atoms system</text><text x="274.5" y="193.2" text-anchor="middle">Fe Conc (%)</text><text transform="translate(183.8,99.6) rotate(-90) scale(1.0)" text-anchor="middle">SFE (mJ/m<tspan font-size="5.5" dy="-3">2</tspan><tspan dy="3">)</tspan></text><text x="185.7" y="16.5">b)</text></g>
<g><defs><path id="mc" d="M0,-2.7 L2.4,0 L0,2.7 L-2.4,0Z" fill="#e6cc7c" stroke="#6e6542" stroke-width="0.8"/><path id="mco" d="M0,-2.7 L2.4,0 L0,2.7 L-2.4,0Z" fill="#e6cc7c" stroke="#6e6542" stroke-width="0.8"/></defs><g style="filter:blur(0.35px)"><use href="#mc" x="388.25" y="77.15"/><use href="#mc" x="388.25" y="77.15"/><use href="#mc" x="395.1" y="81.6"/><use href="#mc" x="395.1" y="81.9"/><use href="#mc" x="401.95" y="84.6"/><use href="#mc" x="401.95" y="85.8"/><use href="#mc" x="408.8" y="87.5"/><use href="#mc" x="408.8" y="88.85"/><use href="#mc" x="408.8" y="90.2"/><use href="#mc" x="415.65" y="90.8"/><use href="#mc" x="415.65" y="92.3"/><use href="#mc" x="415.65" y="93.8"/><use href="#mc" x="422.5" y="94.1"/><use href="#mc" x="422.5" y="95.45"/><use href="#mc" x="422.5" y="96.8"/><use href="#mc" x="429.35" y="96.8"/><use href="#mc" x="429.35" y="98.55"/><use href="#mc" x="429.35" y="100.3"/><use href="#mc" x="436.2" y="98.1"/><use href="#mc" x="436.2" y="99.55"/><use href="#mc" x="436.2" y="101"/><use href="#mc" x="436.2" y="102.45"/><use href="#mc" x="436.2" y="103.9"/><use href="#mc" x="443.05" y="101.4"/><use href="#mc" x="443.05" y="102.8"/><use href="#mc" x="443.05" y="104.2"/><use href="#mc" x="443.05" y="105.6"/><use href="#mc" x="449.9" y="103.7"/><use href="#mc" x="449.9" y="105.45"/><use href="#mc" x="449.9" y="107.2"/><use href="#mc" x="456.75" y="105.8"/><use href="#mc" x="456.75" y="107.75"/><use href="#mc" x="456.75" y="109.7"/><use href="#mc" x="463.6" y="107.9"/><use href="#mc" x="463.6" y="109.5"/><use href="#mc" x="463.6" y="111.1"/><use href="#mc" x="470.45" y="109.3"/><use href="#mc" x="470.45" y="110.7"/><use href="#mc" x="470.45" y="112.1"/><use href="#mc" x="477.3" y="111.5"/><use href="#mc" x="477.3" y="112.87"/><use href="#mc" x="477.3" y="114.23"/><use href="#mc" x="477.3" y="115.6"/><use href="#mc" x="484.15" y="112.9"/><use href="#mc" x="484.15" y="114.25"/><use href="#mc" x="484.15" y="115.6"/><use href="#mc" x="491" y="113.9"/><use href="#mc" x="491" y="115.9"/><use href="#mc" x="497.85" y="115.7"/><use href="#mc" x="497.85" y="116.8"/><use href="#mc" x="504.7" y="116.1"/><use href="#mc" x="504.7" y="117"/><use href="#mc" x="511.55" y="117.05"/><use href="#mc" x="511.55" y="117.05"/></g><ellipse cx="388.25" cy="77.1" rx="1.8" ry="2.16" fill="#fff"/><circle cx="388.25" cy="77.1" r="1.3" fill="#000"/><ellipse cx="395.1" cy="81.1" rx="1.8" ry="2.16" fill="#fff"/><circle cx="395.1" cy="81.1" r="1.3" fill="#000"/><ellipse cx="401.95" cy="85" rx="1.8" ry="2.16" fill="#fff"/><circle cx="401.95" cy="85" r="1.3" fill="#000"/><ellipse cx="408.8" cy="88.7" rx="1.8" ry="2.16" fill="#fff"/><circle cx="408.8" cy="88.7" r="1.3" fill="#000"/><ellipse cx="415.65" cy="91.9" rx="1.8" ry="2.16" fill="#fff"/><circle cx="415.65" cy="91.9" r="1.3" fill="#000"/><ellipse cx="422.5" cy="95.3" rx="1.8" ry="2.16" fill="#fff"/><circle cx="422.5" cy="95.3" r="1.3" fill="#000"/><ellipse cx="429.35" cy="98.5" rx="1.8" ry="2.16" fill="#fff"/><circle cx="429.35" cy="98.5" r="1.3" fill="#000"/><ellipse cx="436.2" cy="100.9" rx="1.8" ry="2.16" fill="#fff"/><circle cx="436.2" cy="100.9" r="1.3" fill="#000"/><ellipse cx="443.05" cy="102.8" rx="1.8" ry="2.16" fill="#fff"/><circle cx="443.05" cy="102.8" r="1.3" fill="#000"/><ellipse cx="449.9" cy="105.4" rx="1.8" ry="2.16" fill="#fff"/><circle cx="449.9" cy="105.4" r="1.3" fill="#000"/><ellipse cx="456.75" cy="107.5" rx="1.8" ry="2.16" fill="#fff"/><circle cx="456.75" cy="107.5" r="1.3" fill="#000"/><ellipse cx="463.6" cy="109.4" rx="1.8" ry="2.16" fill="#fff"/><circle cx="463.6" cy="109.4" r="1.3" fill="#000"/><ellipse cx="470.45" cy="110.8" rx="1.8" ry="2.16" fill="#fff"/><circle cx="470.45" cy="110.8" r="1.3" fill="#000"/><ellipse cx="477.3" cy="112.5" rx="1.8" ry="2.16" fill="#fff"/><circle cx="477.3" cy="112.5" r="1.3" fill="#000"/><ellipse cx="484.15" cy="113.9" rx="1.8" ry="2.16" fill="#fff"/><circle cx="484.15" cy="113.9" r="1.3" fill="#000"/><ellipse cx="491" cy="114.6" rx="1.8" ry="2.16" fill="#fff"/><circle cx="491" cy="114.6" r="1.3" fill="#000"/><ellipse cx="497.85" cy="116" rx="1.8" ry="2.16" fill="#fff"/><circle cx="497.85" cy="116" r="1.3" fill="#000"/><ellipse cx="504.7" cy="116.4" rx="1.8" ry="2.16" fill="#fff"/><circle cx="504.7" cy="116.4" r="1.3" fill="#000"/><ellipse cx="511.55" cy="117" rx="1.8" ry="2.16" fill="#fff"/><circle cx="511.55" cy="117" r="1.3" fill="#000"/><rect x="381.6" y="29.2" width="137" height="143" fill="none" stroke="#a2a2a2" stroke-width="1.5"/><line x1="379.4" y1="29" x2="381.4" y2="29" stroke="#6a6a6a" stroke-width="0.9"/><text x="375.1" y="31.2" text-anchor="end">260</text><line x1="379.4" y1="49.43" x2="381.4" y2="49.43" stroke="#6a6a6a" stroke-width="0.9"/><text x="375.1" y="51.63" text-anchor="end">200</text><line x1="379.4" y1="69.86" x2="381.4" y2="69.86" stroke="#6a6a6a" stroke-width="0.9"/><text x="375.1" y="72.06" text-anchor="end">140</text><line x1="379.4" y1="90.29" x2="381.4" y2="90.29" stroke="#6a6a6a" stroke-width="0.9"/><text x="375.1" y="92.49" text-anchor="end">80</text><line x1="379.4" y1="110.71" x2="381.4" y2="110.71" stroke="#6a6a6a" stroke-width="0.9"/><text x="375.1" y="112.91" text-anchor="end">20</text><line x1="379.4" y1="131.14" x2="381.4" y2="131.14" stroke="#6a6a6a" stroke-width="0.9"/><text x="375.1" y="133.34" text-anchor="end">-40</text><line x1="379.4" y1="151.57" x2="381.4" y2="151.57" stroke="#6a6a6a" stroke-width="0.9"/><text x="375.1" y="153.77" text-anchor="end">-100</text><line x1="379.4" y1="172" x2="381.4" y2="172" stroke="#6a6a6a" stroke-width="0.9"/><text x="375.1" y="174.2" text-anchor="end">-160</text><line x1="381.4" y1="172" x2="381.4" y2="174" stroke="#6a6a6a" stroke-width="0.9"/><text x="381.4" y="182.9" text-anchor="middle">0</text><line x1="408.8" y1="172" x2="408.8" y2="174" stroke="#6a6a6a" stroke-width="0.9"/><text x="408.8" y="182.9" text-anchor="middle">20</text><line x1="436.2" y1="172" x2="436.2" y2="174" stroke="#6a6a6a" stroke-width="0.9"/><text x="436.2" y="182.9" text-anchor="middle">40</text><line x1="463.6" y1="172" x2="463.6" y2="174" stroke="#6a6a6a" stroke-width="0.9"/><text x="463.6" y="182.9" text-anchor="middle">60</text><line x1="491" y1="172" x2="491" y2="174" stroke="#6a6a6a" stroke-width="0.9"/><text x="491" y="182.9" text-anchor="middle">80</text><line x1="518.4" y1="172" x2="518.4" y2="174" stroke="#6a6a6a" stroke-width="0.9"/><text x="518.4" y="182.9" text-anchor="middle">100</text><text x="391.2" y="38">Ni-Fe : 108,000 atoms system</text><text x="452" y="192.7" text-anchor="middle">Fe Conc (%)</text><text transform="translate(358.9,99.6) rotate(-90) scale(1.0)" text-anchor="middle">SFE (mJ/m<tspan font-size="5.5" dy="-3">2</tspan><tspan dy="3">)</tspan></text><text x="358.5" y="16.5">c)</text></g>
<g><defs><path id="md" d="M0,-2.3 L1.95,0 L0,2.3 L-1.95,0Z" fill="#dda987" stroke="#9c7c6a" stroke-width="0.8"/><path id="mdo" d="M0,-2.3 L1.95,0 L0,2.3 L-1.95,0Z" fill="#f6e2d6" stroke="#d3a58d" stroke-width="0.8"/></defs><g style="filter:blur(0.35px)"><rect x="41.76" y="227" width="3.51" height="22.8" fill="#b98365"/><use href="#md" x="43.52" y="227"/><use href="#md" x="43.52" y="229.53"/><use href="#md" x="43.52" y="232.07"/><use href="#md" x="43.52" y="234.6"/><use href="#md" x="43.52" y="237.13"/><use href="#md" x="43.52" y="239.67"/><use href="#md" x="43.52" y="242.2"/><use href="#md" x="43.52" y="244.73"/><use href="#md" x="43.52" y="247.27"/><use href="#md" x="43.52" y="249.8"/><ellipse cx="43.52" cy="227" rx="0.9" ry="1.0" fill="#efcab2"/><ellipse cx="43.52" cy="229.53" rx="0.9" ry="1.0" fill="#efcab2"/><ellipse cx="43.52" cy="232.07" rx="0.9" ry="1.0" fill="#efcab2"/><ellipse cx="43.52" cy="234.6" rx="0.9" ry="1.0" fill="#efcab2"/><ellipse cx="43.52" cy="237.13" rx="0.9" ry="1.0" fill="#efcab2"/><ellipse cx="43.52" cy="239.67" rx="0.9" ry="1.0" fill="#efcab2"/><ellipse cx="43.52" cy="242.2" rx="0.9" ry="1.0" fill="#efcab2"/><ellipse cx="43.52" cy="244.73" rx="0.9" ry="1.0" fill="#efcab2"/><ellipse cx="43.52" cy="247.27" rx="0.9" ry="1.0" fill="#efcab2"/><ellipse cx="43.52" cy="249.8" rx="0.9" ry="1.0" fill="#efcab2"/><rect x="48.48" y="243.5" width="3.51" height="36" fill="#b98365"/><use href="#md" x="50.24" y="243.5"/><use href="#md" x="50.24" y="246.07"/><use href="#md" x="50.24" y="248.64"/><use href="#md" x="50.24" y="251.21"/><use href="#md" x="50.24" y="253.79"/><use href="#md" x="50.24" y="256.36"/><use href="#md" x="50.24" y="258.93"/><use href="#md" x="50.24" y="261.5"/><use href="#md" x="50.24" y="264.07"/><use href="#md" x="50.24" y="266.64"/><use href="#md" x="50.24" y="269.21"/><use href="#md" x="50.24" y="271.79"/><use href="#md" x="50.24" y="274.36"/><use href="#md" x="50.24" y="276.93"/><use href="#md" x="50.24" y="279.5"/><ellipse cx="50.24" cy="243.5" rx="0.9" ry="1.0" fill="#efcab2"/><ellipse cx="50.24" cy="246.07" rx="0.9" ry="1.0" fill="#efcab2"/><ellipse cx="50.24" cy="248.64" rx="0.9" ry="1.0" fill="#efcab2"/><ellipse cx="50.24" cy="251.21" rx="0.9" ry="1.0" fill="#efcab2"/><ellipse cx="50.24" cy="253.79" rx="0.9" ry="1.0" fill="#efcab2"/><ellipse cx="50.24" cy="256.36" rx="0.9" ry="1.0" fill="#efcab2"/><ellipse cx="50.24" cy="258.93" rx="0.9" ry="1.0" fill="#efcab2"/><ellipse cx="50.24" cy="261.5" rx="0.9" ry="1.0" fill="#efcab2"/><ellipse cx="50.24" cy="264.07" rx="0.9" ry="1.0" fill="#efcab2"/><ellipse cx="50.24" cy="266.64" rx="0.9" ry="1.0" fill="#efcab2"/><ellipse cx="50.24" cy="269.21" rx="0.9" ry="1.0" fill="#efcab2"/><ellipse cx="50.24" cy="271.79" rx="0.9" ry="1.0" fill="#efcab2"/><ellipse cx="50.24" cy="274.36" rx="0.9" ry="1.0" fill="#efcab2"/><ellipse cx="50.24" cy="276.93" rx="0.9" ry="1.0" fill="#efcab2"/><ellipse cx="50.24" cy="279.5" rx="0.9" ry="1.0" fill="#efcab2"/><use href="#mdo" x="56.96" y="273.5"/><use href="#mdo" x="56.96" y="276.8"/><use href="#mdo" x="56.96" y="280.3"/><rect x="55.2" y="229.6" width="3.51" height="38.7" fill="#b98365"/><use href="#md" x="56.96" y="229.6"/><use href="#md" x="56.96" y="232.18"/><use href="#md" x="56.96" y="234.76"/><use href="#md" x="56.96" y="237.34"/><use href="#md" x="56.96" y="239.92"/><use href="#md" x="56.96" y="242.5"/><use href="#md" x="56.96" y="245.08"/><use href="#md" x="56.96" y="247.66"/><use href="#md" x="56.96" y="250.24"/><use href="#md" x="56.96" y="252.82"/><use href="#md" x="56.96" y="255.4"/><use href="#md" x="56.96" y="257.98"/><use href="#md" x="56.96" y="260.56"/><use href="#md" x="56.96" y="263.14"/><use href="#md" x="56.96" y="265.72"/><use href="#md" x="56.96" y="268.3"/><ellipse cx="56.96" cy="229.6" rx="0.9" ry="1.0" fill="#efcab2"/><ellipse cx="56.96" cy="232.18" rx="0.9" ry="1.0" fill="#efcab2"/><ellipse cx="56.96" cy="234.76" rx="0.9" ry="1.0" fill="#efcab2"/><ellipse cx="56.96" cy="237.34" rx="0.9" ry="1.0" fill="#efcab2"/><ellipse cx="56.96" cy="239.92" rx="0.9" ry="1.0" fill="#efcab2"/><ellipse cx="56.96" cy="242.5" rx="0.9" ry="1.0" fill="#efcab2"/><ellipse cx="56.96" cy="245.08" rx="0.9" ry="1.0" fill="#efcab2"/><ellipse cx="56.96" cy="247.66" rx="0.9" ry="1.0" fill="#efcab2"/><ellipse cx="56.96" cy="250.24" rx="0.9" ry="1.0" fill="#efcab2"/><ellipse cx="56.96" cy="252.82" rx="0.9" ry="1.0" fill="#efcab2"/><ellipse cx="56.96" cy="255.4" rx="0.9" ry="1.0" fill="#efcab2"/><ellipse cx="56.96" cy="257.98" rx="0.9" ry="1.0" fill="#efcab2"/><ellipse cx="56.96" cy="260.56" rx="0.9" ry="1.0" fill="#efcab2"/><ellipse cx="56.96" cy="263.14" rx="0.9" ry="1.0" fill="#efcab2"/><ellipse cx="56.96" cy="265.72" rx="0.9" ry="1.0" fill="#efcab2"/><ellipse cx="56.96" cy="268.3" rx="0.9" ry="1.0" fill="#efcab2"/><use href="#mdo" x="63.68" y="238"/><use href="#mdo" x="63.68" y="296.8"/><rect x="61.92" y="245.4" width="3.51" height="45.3" fill="#b98365"/><use href="#md" x="63.68" y="245.4"/><use href="#md" x="63.68" y="247.92"/><use href="#md" x="63.68" y="250.43"/><use href="#md" x="63.68" y="252.95"/><use href="#md" x="63.68" y="255.47"/><use href="#md" x="63.68" y="257.98"/><use href="#md" x="63.68" y="260.5"/><use href="#md" x="63.68" y="263.02"/><use href="#md" x="63.68" y="265.53"/><use href="#md" x="63.68" y="268.05"/><use href="#md" x="63.68" y="270.57"/><use href="#md" x="63.68" y="273.08"/><use href="#md" x="63.68" y="275.6"/><use href="#md" x="63.68" y="278.12"/><use href="#md" x="63.68" y="280.63"/><use href="#md" x="63.68" y="283.15"/><use href="#md" x="63.68" y="285.67"/><use href="#md" x="63.68" y="288.18"/><use href="#md" x="63.68" y="290.7"/><ellipse cx="63.68" cy="245.4" rx="0.9" ry="1.0" fill="#efcab2"/><ellipse cx="63.68" cy="247.92" rx="0.9" ry="1.0" fill="#efcab2"/><ellipse cx="63.68" cy="250.43" rx="0.9" ry="1.0" fill="#efcab2"/><ellipse cx="63.68" cy="252.95" rx="0.9" ry="1.0" fill="#efcab2"/><ellipse cx="63.68" cy="255.47" rx="0.9" ry="1.0" fill="#efcab2"/><ellipse cx="63.68" cy="257.98" rx="0.9" ry="1.0" fill="#efcab2"/><ellipse cx="63.68" cy="260.5" rx="0.9" ry="1.0" fill="#efcab2"/><ellipse cx="63.68" cy="263.02" rx="0.9" ry="1.0" fill="#efcab2"/><ellipse cx="63.68" cy="265.53" rx="0.9" ry="1.0" fill="#efcab2"/><ellipse cx="63.68" cy="268.05" rx="0.9" ry="1.0" fill="#efcab2"/><ellipse cx="63.68" cy="270.57" rx="0.9" ry="1.0" fill="#efcab2"/><ellipse cx="63.68" cy="273.08" rx="0.9" ry="1.0" fill="#efcab2"/><ellipse cx="63.68" cy="275.6" rx="0.9" ry="1.0" fill="#efcab2"/><ellipse cx="63.68" cy="278.12" rx="0.9" ry="1.0" fill="#efcab2"/><ellipse cx="63.68" cy="280.63" rx="0.9" ry="1.0" fill="#efcab2"/><ellipse cx="63.68" cy="283.15" rx="0.9" ry="1.0" fill="#efcab2"/><ellipse cx="63.68" cy="285.67" rx="0.9" ry="1.0" fill="#efcab2"/><ellipse cx="63.68" cy="288.18" rx="0.9" ry="1.0" fill="#efcab2"/><ellipse cx="63.68" cy="290.7" rx="0.9" ry="1.0" fill="#efcab2"/><use href="#mdo" x="70.4" y="242.7"/><use href="#mdo" x="70.4" y="246.6"/><use href="#mdo" x="70.4" y="253.2"/><use href="#mdo" x="70.4" y="306.5"/><use href="#mdo" x="70.4" y="310.6"/><use href="#mdo" x="70.4" y="317.2"/><rect x="68.64" y="259.3" width="3.51" height="41.3" fill="#b98365"/><use href="#md" x="70.4" y="259.3"/><use href="#md" x="70.4" y="261.73"/><use href="#md" x="70.4" y="264.16"/><use href="#md" x="70.4" y="266.59"/><use href="#md" x="70.4" y="269.02"/><use href="#md" x="70.4" y="271.45"/><use href="#md" x="70.4" y="273.88"/><use href="#md" x="70.4" y="276.31"/><use href="#md" x="70.4" y="278.74"/><use href="#md" x="70.4" y="281.16"/><use href="#md" x="70.4" y="283.59"/><use href="#md" x="70.4" y="286.02"/><use href="#md" x="70.4" y="288.45"/><use href="#md" x="70.4" y="290.88"/><use href="#md" x="70.4" y="293.31"/><use href="#md" x="70.4" y="295.74"/><use href="#md" x="70.4" y="298.17"/><use href="#md" x="70.4" y="300.6"/><ellipse cx="70.4" cy="259.3" rx="0.9" ry="1.0" fill="#efcab2"/><ellipse cx="70.4" cy="261.73" rx="0.9" ry="1.0" fill="#efcab2"/><ellipse cx="70.4" cy="264.16" rx="0.9" ry="1.0" fill="#efcab2"/><ellipse cx="70.4" cy="266.59" rx="0.9" ry="1.0" fill="#efcab2"/><ellipse cx="70.4" cy="269.02" rx="0.9" ry="1.0" fill="#efcab2"/><ellipse cx="70.4" cy="271.45" rx="0.9" ry="1.0" fill="#efcab2"/><ellipse cx="70.4" cy="273.88" rx="0.9" ry="1.0" fill="#efcab2"/><ellipse cx="70.4" cy="276.31" rx="0.9" ry="1.0" fill="#efcab2"/><ellipse cx="70.4" cy="278.74" rx="0.9" ry="1.0" fill="#efcab2"/><ellipse cx="70.4" cy="281.16" rx="0.9" ry="1.0" fill="#efcab2"/><ellipse cx="70.4" cy="283.59" rx="0.9" ry="1.0" fill="#efcab2"/><ellipse cx="70.4" cy="286.02" rx="0.9" ry="1.0" fill="#efcab2"/><ellipse cx="70.4" cy="288.45" rx="0.9" ry="1.0" fill="#efcab2"/><ellipse cx="70.4" cy="290.88" rx="0.9" ry="1.0" fill="#efcab2"/><ellipse cx="70.4" cy="293.31" rx="0.9" ry="1.0" fill="#efcab2"/><ellipse cx="70.4" cy="295.74" rx="0.9" ry="1.0" fill="#efcab2"/><ellipse cx="70.4" cy="298.17" rx="0.9" ry="1.0" fill="#efcab2"/><ellipse cx="70.4" cy="300.6" rx="0.9" ry="1.0" fill="#efcab2"/><use href="#mdo" x="77.12" y="240"/><use href="#mdo" x="77.12" y="302.5"/><use href="#mdo" x="77.12" y="306.6"/><use href="#mdo" x="77.12" y="315.9"/><rect x="75.36" y="248.1" width="3.51" height="48.5" fill="#b98365"/><use href="#md" x="77.12" y="248.1"/><use href="#md" x="77.12" y="250.65"/><use href="#md" x="77.12" y="253.21"/><use href="#md" x="77.12" y="255.76"/><use href="#md" x="77.12" y="258.31"/><use href="#md" x="77.12" y="260.86"/><use href="#md" x="77.12" y="263.42"/><use href="#md" x="77.12" y="265.97"/><use href="#md" x="77.12" y="268.52"/><use href="#md" x="77.12" y="271.07"/><use href="#md" x="77.12" y="273.63"/><use href="#md" x="77.12" y="276.18"/><use href="#md" x="77.12" y="278.73"/><use href="#md" x="77.12" y="281.28"/><use href="#md" x="77.12" y="283.84"/><use href="#md" x="77.12" y="286.39"/><use href="#md" x="77.12" y="288.94"/><use href="#md" x="77.12" y="291.49"/><use href="#md" x="77.12" y="294.05"/><use href="#md" x="77.12" y="296.6"/><ellipse cx="77.12" cy="248.1" rx="0.9" ry="1.0" fill="#efcab2"/><ellipse cx="77.12" cy="250.65" rx="0.9" ry="1.0" fill="#efcab2"/><ellipse cx="77.12" cy="253.21" rx="0.9" ry="1.0" fill="#efcab2"/><ellipse cx="77.12" cy="255.76" rx="0.9" ry="1.0" fill="#efcab2"/><ellipse cx="77.12" cy="258.31" rx="0.9" ry="1.0" fill="#efcab2"/><ellipse cx="77.12" cy="260.86" rx="0.9" ry="1.0" fill="#efcab2"/><ellipse cx="77.12" cy="263.42" rx="0.9" ry="1.0" fill="#efcab2"/><ellipse cx="77.12" cy="265.97" rx="0.9" ry="1.0" fill="#efcab2"/><ellipse cx="77.12" cy="268.52" rx="0.9" ry="1.0" fill="#efcab2"/><ellipse cx="77.12" cy="271.07" rx="0.9" ry="1.0" fill="#efcab2"/><ellipse cx="77.12" cy="273.63" rx="0.9" ry="1.0" fill="#efcab2"/><ellipse cx="77.12" cy="276.18" rx="0.9" ry="1.0" fill="#efcab2"/><ellipse cx="77.12" cy="278.73" rx="0.9" ry="1.0" fill="#efcab2"/><ellipse cx="77.12" cy="281.28" rx="0.9" ry="1.0" fill="#efcab2"/><ellipse cx="77.12" cy="283.84" rx="0.9" ry="1.0" fill="#efcab2"/><ellipse cx="77.12" cy="286.39" rx="0.9" ry="1.0" fill="#efcab2"/><ellipse cx="77.12" cy="288.94" rx="0.9" ry="1.0" fill="#efcab2"/><ellipse cx="77.12" cy="291.49" rx="0.9" ry="1.0" fill="#efcab2"/><ellipse cx="77.12" cy="294.05" rx="0.9" ry="1.0" fill="#efcab2"/><ellipse cx="77.12" cy="296.6" rx="0.9" ry="1.0" fill="#efcab2"/><use href="#mdo" x="83.84" y="244.7"/><rect x="82.08" y="250.1" width="3.51" height="58.4" fill="#b98365"/><use href="#md" x="83.84" y="250.1"/><use href="#md" x="83.84" y="252.64"/><use href="#md" x="83.84" y="255.18"/><use href="#md" x="83.84" y="257.72"/><use href="#md" x="83.84" y="260.26"/><use href="#md" x="83.84" y="262.8"/><use href="#md" x="83.84" y="265.33"/><use href="#md" x="83.84" y="267.87"/><use href="#md" x="83.84" y="270.41"/><use href="#md" x="83.84" y="272.95"/><use href="#md" x="83.84" y="275.49"/><use href="#md" x="83.84" y="278.03"/><use href="#md" x="83.84" y="280.57"/><use href="#md" x="83.84" y="283.11"/><use href="#md" x="83.84" y="285.65"/><use href="#md" x="83.84" y="288.19"/><use href="#md" x="83.84" y="290.73"/><use href="#md" x="83.84" y="293.27"/><use href="#md" x="83.84" y="295.8"/><use href="#md" x="83.84" y="298.34"/><use href="#md" x="83.84" y="300.88"/><use href="#md" x="83.84" y="303.42"/><use href="#md" x="83.84" y="305.96"/><use href="#md" x="83.84" y="308.5"/><ellipse cx="83.84" cy="250.1" rx="0.9" ry="1.0" fill="#efcab2"/><ellipse cx="83.84" cy="252.64" rx="0.9" ry="1.0" fill="#efcab2"/><ellipse cx="83.84" cy="255.18" rx="0.9" ry="1.0" fill="#efcab2"/><ellipse cx="83.84" cy="257.72" rx="0.9" ry="1.0" fill="#efcab2"/><ellipse cx="83.84" cy="260.26" rx="0.9" ry="1.0" fill="#efcab2"/><ellipse cx="83.84" cy="262.8" rx="0.9" ry="1.0" fill="#efcab2"/><ellipse cx="83.84" cy="265.33" rx="0.9" ry="1.0" fill="#efcab2"/><ellipse cx="83.84" cy="267.87" rx="0.9" ry="1.0" fill="#efcab2"/><ellipse cx="83.84" cy="270.41" rx="0.9" ry="1.0" fill="#efcab2"/><ellipse cx="83.84" cy="272.95" rx="0.9" ry="1.0" fill="#efcab2"/><ellipse cx="83.84" cy="275.49" rx="0.9" ry="1.0" fill="#efcab2"/><ellipse cx="83.84" cy="278.03" rx="0.9" ry="1.0" fill="#efcab2"/><ellipse cx="83.84" cy="280.57" rx="0.9" ry="1.0" fill="#efcab2"/><ellipse cx="83.84" cy="283.11" rx="0.9" ry="1.0" fill="#efcab2"/><ellipse cx="83.84" cy="285.65" rx="0.9" ry="1.0" fill="#efcab2"/><ellipse cx="83.84" cy="288.19" rx="0.9" ry="1.0" fill="#efcab2"/><ellipse cx="83.84" cy="290.73" rx="0.9" ry="1.0" fill="#efcab2"/><ellipse cx="83.84" cy="293.27" rx="0.9" ry="1.0" fill="#efcab2"/><ellipse cx="83.84" cy="295.8" rx="0.9" ry="1.0" fill="#efcab2"/><ellipse cx="83.84" cy="298.34" rx="0.9" ry="1.0" fill="#efcab2"/><ellipse cx="83.84" cy="300.88" rx="0.9" ry="1.0" fill="#efcab2"/><ellipse cx="83.84" cy="303.42" rx="0.9" ry="1.0" fill="#efcab2"/><ellipse cx="83.84" cy="305.96" rx="0.9" ry="1.0" fill="#efcab2"/><ellipse cx="83.84" cy="308.5" rx="0.9" ry="1.0" fill="#efcab2"/><use href="#mdo" x="90.56" y="233.5"/><use href="#mdo" x="90.56" y="240"/><use href="#mdo" x="90.56" y="308.6"/><use href="#mdo" x="90.56" y="313.2"/><use href="#mdo" x="90.56" y="322.5"/><rect x="88.8" y="248.7" width="3.51" height="51.9" fill="#b98365"/><use href="#md" x="90.56" y="248.7"/><use href="#md" x="90.56" y="251.17"/><use href="#md" x="90.56" y="253.64"/><use href="#md" x="90.56" y="256.11"/><use href="#md" x="90.56" y="258.59"/><use href="#md" x="90.56" y="261.06"/><use href="#md" x="90.56" y="263.53"/><use href="#md" x="90.56" y="266"/><use href="#md" x="90.56" y="268.47"/><use href="#md" x="90.56" y="270.94"/><use href="#md" x="90.56" y="273.41"/><use href="#md" x="90.56" y="275.89"/><use href="#md" x="90.56" y="278.36"/><use href="#md" x="90.56" y="280.83"/><use href="#md" x="90.56" y="283.3"/><use href="#md" x="90.56" y="285.77"/><use href="#md" x="90.56" y="288.24"/><use href="#md" x="90.56" y="290.71"/><use href="#md" x="90.56" y="293.19"/><use href="#md" x="90.56" y="295.66"/><use href="#md" x="90.56" y="298.13"/><use href="#md" x="90.56" y="300.6"/><ellipse cx="90.56" cy="248.7" rx="0.9" ry="1.0" fill="#efcab2"/><ellipse cx="90.56" cy="251.17" rx="0.9" ry="1.0" fill="#efcab2"/><ellipse cx="90.56" cy="253.64" rx="0.9" ry="1.0" fill="#efcab2"/><ellipse cx="90.56" cy="256.11" rx="0.9" ry="1.0" fill="#efcab2"/><ellipse cx="90.56" cy="258.59" rx="0.9" ry="1.0" fill="#efcab2"/><ellipse cx="90.56" cy="261.06" rx="0.9" ry="1.0" fill="#efcab2"/><ellipse cx="90.56" cy="263.53" rx="0.9" ry="1.0" fill="#efcab2"/><ellipse cx="90.56" cy="266" rx="0.9" ry="1.0" fill="#efcab2"/><ellipse cx="90.56" cy="268.47" rx="0.9" ry="1.0" fill="#efcab2"/><ellipse cx="90.56" cy="270.94" rx="0.9" ry="1.0" fill="#efcab2"/><ellipse cx="90.56" cy="273.41" rx="0.9" ry="1.0" fill="#efcab2"/><ellipse cx="90.56" cy="275.89" rx="0.9" ry="1.0" fill="#efcab2"/><ellipse cx="90.56" cy="278.36" rx="0.9" ry="1.0" fill="#efcab2"/><ellipse cx="90.56" cy="280.83" rx="0.9" ry="1.0" fill="#efcab2"/><ellipse cx="90.56" cy="283.3" rx="0.9" ry="1.0" fill="#efcab2"/><ellipse cx="90.56" cy="285.77" rx="0.9" ry="1.0" fill="#efcab2"/><ellipse cx="90.56" cy="288.24" rx="0.9" ry="1.0" fill="#efcab2"/><ellipse cx="90.56" cy="290.71" rx="0.9" ry="1.0" fill="#efcab2"/><ellipse cx="90.56" cy="293.19" rx="0.9" ry="1.0" fill="#efcab2"/><ellipse cx="90.56" cy="295.66" rx="0.9" ry="1.0" fill="#efcab2"/><ellipse cx="90.56" cy="298.13" rx="0.9" ry="1.0" fill="#efcab2"/><ellipse cx="90.56" cy="300.6" rx="0.9" ry="1.0" fill="#efcab2"/><use href="#mdo" x="97.28" y="240"/><rect x="95.52" y="248.7" width="3.51" height="63.1" fill="#b98365"/><use href="#md" x="97.28" y="248.7"/><use href="#md" x="97.28" y="251.22"/><use href="#md" x="97.28" y="253.75"/><use href="#md" x="97.28" y="256.27"/><use href="#md" x="97.28" y="258.8"/><use href="#md" x="97.28" y="261.32"/><use href="#md" x="97.28" y="263.84"/><use href="#md" x="97.28" y="266.37"/><use href="#md" x="97.28" y="268.89"/><use href="#md" x="97.28" y="271.42"/><use href="#md" x="97.28" y="273.94"/><use href="#md" x="97.28" y="276.46"/><use href="#md" x="97.28" y="278.99"/><use href="#md" x="97.28" y="281.51"/><use href="#md" x="97.28" y="284.04"/><use href="#md" x="97.28" y="286.56"/><use href="#md" x="97.28" y="289.08"/><use href="#md" x="97.28" y="291.61"/><use href="#md" x="97.28" y="294.13"/><use href="#md" x="97.28" y="296.66"/><use href="#md" x="97.28" y="299.18"/><use href="#md" x="97.28" y="301.7"/><use href="#md" x="97.28" y="304.23"/><use href="#md" x="97.28" y="306.75"/><use href="#md" x="97.28" y="309.28"/><use href="#md" x="97.28" y="311.8"/><ellipse cx="97.28" cy="248.7" rx="0.9" ry="1.0" fill="#efcab2"/><ellipse cx="97.28" cy="251.22" rx="0.9" ry="1.0" fill="#efcab2"/><ellipse cx="97.28" cy="253.75" rx="0.9" ry="1.0" fill="#efcab2"/><ellipse cx="97.28" cy="256.27" rx="0.9" ry="1.0" fill="#efcab2"/><ellipse cx="97.28" cy="258.8" rx="0.9" ry="1.0" fill="#efcab2"/><ellipse cx="97.28" cy="261.32" rx="0.9" ry="1.0" fill="#efcab2"/><ellipse cx="97.28" cy="263.84" rx="0.9" ry="1.0" fill="#efcab2"/><ellipse cx="97.28" cy="266.37" rx="0.9" ry="1.0" fill="#efcab2"/><ellipse cx="97.28" cy="268.89" rx="0.9" ry="1.0" fill="#efcab2"/><ellipse cx="97.28" cy="271.42" rx="0.9" ry="1.0" fill="#efcab2"/><ellipse cx="97.28" cy="273.94" rx="0.9" ry="1.0" fill="#efcab2"/><ellipse cx="97.28" cy="276.46" rx="0.9" ry="1.0" fill="#efcab2"/><ellipse cx="97.28" cy="278.99" rx="0.9" ry="1.0" fill="#efcab2"/><ellipse cx="97.28" cy="281.51" rx="0.9" ry="1.0" fill="#efcab2"/><ellipse cx="97.28" cy="284.04" rx="0.9" ry="1.0" fill="#efcab2"/><ellipse cx="97.28" cy="286.56" rx="0.9" ry="1.0" fill="#efcab2"/><ellipse cx="97.28" cy="289.08" rx="0.9" ry="1.0" fill="#efcab2"/><ellipse cx="97.28" cy="291.61" rx="0.9" ry="1.0" fill="#efcab2"/><ellipse cx="97.28" cy="294.13" rx="0.9" ry="1.0" fill="#efcab2"/><ellipse cx="97.28" cy="296.66" rx="0.9" ry="1.0" fill="#efcab2"/><ellipse cx="97.28" cy="299.18" rx="0.9" ry="1.0" fill="#efcab2"/><ellipse cx="97.28" cy="301.7" rx="0.9" ry="1.0" fill="#efcab2"/><ellipse cx="97.28" cy="304.23" rx="0.9" ry="1.0" fill="#efcab2"/><ellipse cx="97.28" cy="306.75" rx="0.9" ry="1.0" fill="#efcab2"/><ellipse cx="97.28" cy="309.28" rx="0.9" ry="1.0" fill="#efcab2"/><ellipse cx="97.28" cy="311.8" rx="0.9" ry="1.0" fill="#efcab2"/><use href="#mdo" x="104" y="222.9"/><use href="#mdo" x="104" y="238.5"/><use href="#mdo" x="104" y="323.1"/><rect x="102.24" y="247.4" width="3.51" height="67.5" fill="#b98365"/><use href="#md" x="104" y="247.4"/><use href="#md" x="104" y="249.9"/><use href="#md" x="104" y="252.4"/><use href="#md" x="104" y="254.9"/><use href="#md" x="104" y="257.4"/><use href="#md" x="104" y="259.9"/><use href="#md" x="104" y="262.4"/><use href="#md" x="104" y="264.9"/><use href="#md" x="104" y="267.4"/><use href="#md" x="104" y="269.9"/><use href="#md" x="104" y="272.4"/><use href="#md" x="104" y="274.9"/><use href="#md" x="104" y="277.4"/><use href="#md" x="104" y="279.9"/><use href="#md" x="104" y="282.4"/><use href="#md" x="104" y="284.9"/><use href="#md" x="104" y="287.4"/><use href="#md" x="104" y="289.9"/><use href="#md" x="104" y="292.4"/><use href="#md" x="104" y="294.9"/><use href="#md" x="104" y="297.4"/><use href="#md" x="104" y="299.9"/><use href="#md" x="104" y="302.4"/><use href="#md" x="104" y="304.9"/><use href="#md" x="104" y="307.4"/><use href="#md" x="104" y="309.9"/><use href="#md" x="104" y="312.4"/><use href="#md" x="104" y="314.9"/><ellipse cx="104" cy="247.4" rx="0.9" ry="1.0" fill="#efcab2"/><ellipse cx="104" cy="249.9" rx="0.9" ry="1.0" fill="#efcab2"/><ellipse cx="104" cy="252.4" rx="0.9" ry="1.0" fill="#efcab2"/><ellipse cx="104" cy="254.9" rx="0.9" ry="1.0" fill="#efcab2"/><ellipse cx="104" cy="257.4" rx="0.9" ry="1.0" fill="#efcab2"/><ellipse cx="104" cy="259.9" rx="0.9" ry="1.0" fill="#efcab2"/><ellipse cx="104" cy="262.4" rx="0.9" ry="1.0" fill="#efcab2"/><ellipse cx="104" cy="264.9" rx="0.9" ry="1.0" fill="#efcab2"/><ellipse cx="104" cy="267.4" rx="0.9" ry="1.0" fill="#efcab2"/><ellipse cx="104" cy="269.9" rx="0.9" ry="1.0" fill="#efcab2"/><ellipse cx="104" cy="272.4" rx="0.9" ry="1.0" fill="#efcab2"/><ellipse cx="104" cy="274.9" rx="0.9" ry="1.0" fill="#efcab2"/><ellipse cx="104" cy="277.4" rx="0.9" ry="1.0" fill="#efcab2"/><ellipse cx="104" cy="279.9" rx="0.9" ry="1.0" fill="#efcab2"/><ellipse cx="104" cy="282.4" rx="0.9" ry="1.0" fill="#efcab2"/><ellipse cx="104" cy="284.9" rx="0.9" ry="1.0" fill="#efcab2"/><ellipse cx="104" cy="287.4" rx="0.9" ry="1.0" fill="#efcab2"/><ellipse cx="104" cy="289.9" rx="0.9" ry="1.0" fill="#efcab2"/><ellipse cx="104" cy="292.4" rx="0.9" ry="1.0" fill="#efcab2"/><ellipse cx="104" cy="294.9" rx="0.9" ry="1.0" fill="#efcab2"/><ellipse cx="104" cy="297.4" rx="0.9" ry="1.0" fill="#efcab2"/><ellipse cx="104" cy="299.9" rx="0.9" ry="1.0" fill="#efcab2"/><ellipse cx="104" cy="302.4" rx="0.9" ry="1.0" fill="#efcab2"/><ellipse cx="104" cy="304.9" rx="0.9" ry="1.0" fill="#efcab2"/><ellipse cx="104" cy="307.4" rx="0.9" ry="1.0" fill="#efcab2"/><ellipse cx="104" cy="309.9" rx="0.9" ry="1.0" fill="#efcab2"/><ellipse cx="104" cy="312.4" rx="0.9" ry="1.0" fill="#efcab2"/><ellipse cx="104" cy="314.9" rx="0.9" ry="1.0" fill="#efcab2"/><use href="#mdo" x="110.72" y="244.6"/><use href="#mdo" x="110.72" y="248"/><use href="#mdo" x="110.72" y="313.6"/><rect x="108.96" y="254.1" width="3.51" height="50.7" fill="#b98365"/><use href="#md" x="110.72" y="254.1"/><use href="#md" x="110.72" y="256.63"/><use href="#md" x="110.72" y="259.17"/><use href="#md" x="110.72" y="261.7"/><use href="#md" x="110.72" y="264.24"/><use href="#md" x="110.72" y="266.77"/><use href="#md" x="110.72" y="269.31"/><use href="#md" x="110.72" y="271.84"/><use href="#md" x="110.72" y="274.38"/><use href="#md" x="110.72" y="276.91"/><use href="#md" x="110.72" y="279.45"/><use href="#md" x="110.72" y="281.98"/><use href="#md" x="110.72" y="284.52"/><use href="#md" x="110.72" y="287.05"/><use href="#md" x="110.72" y="289.59"/><use href="#md" x="110.72" y="292.12"/><use href="#md" x="110.72" y="294.66"/><use href="#md" x="110.72" y="297.19"/><use href="#md" x="110.72" y="299.73"/><use href="#md" x="110.72" y="302.26"/><use href="#md" x="110.72" y="304.8"/><ellipse cx="110.72" cy="254.1" rx="0.9" ry="1.0" fill="#efcab2"/><ellipse cx="110.72" cy="256.63" rx="0.9" ry="1.0" fill="#efcab2"/><ellipse cx="110.72" cy="259.17" rx="0.9" ry="1.0" fill="#efcab2"/><ellipse cx="110.72" cy="261.7" rx="0.9" ry="1.0" fill="#efcab2"/><ellipse cx="110.72" cy="264.24" rx="0.9" ry="1.0" fill="#efcab2"/><ellipse cx="110.72" cy="266.77" rx="0.9" ry="1.0" fill="#efcab2"/><ellipse cx="110.72" cy="269.31" rx="0.9" ry="1.0" fill="#efcab2"/><ellipse cx="110.72" cy="271.84" rx="0.9" ry="1.0" fill="#efcab2"/><ellipse cx="110.72" cy="274.38" rx="0.9" ry="1.0" fill="#efcab2"/><ellipse cx="110.72" cy="276.91" rx="0.9" ry="1.0" fill="#efcab2"/><ellipse cx="110.72" cy="279.45" rx="0.9" ry="1.0" fill="#efcab2"/><ellipse cx="110.72" cy="281.98" rx="0.9" ry="1.0" fill="#efcab2"/><ellipse cx="110.72" cy="284.52" rx="0.9" ry="1.0" fill="#efcab2"/><ellipse cx="110.72" cy="287.05" rx="0.9" ry="1.0" fill="#efcab2"/><ellipse cx="110.72" cy="289.59" rx="0.9" ry="1.0" fill="#efcab2"/><ellipse cx="110.72" cy="292.12" rx="0.9" ry="1.0" fill="#efcab2"/><ellipse cx="110.72" cy="294.66" rx="0.9" ry="1.0" fill="#efcab2"/><ellipse cx="110.72" cy="297.19" rx="0.9" ry="1.0" fill="#efcab2"/><ellipse cx="110.72" cy="299.73" rx="0.9" ry="1.0" fill="#efcab2"/><ellipse cx="110.72" cy="302.26" rx="0.9" ry="1.0" fill="#efcab2"/><ellipse cx="110.72" cy="304.8" rx="0.9" ry="1.0" fill="#efcab2"/><use href="#mdo" x="117.44" y="238.5"/><use href="#mdo" x="117.44" y="310"/><use href="#mdo" x="117.44" y="315.7"/><use href="#mdo" x="117.44" y="331.3"/><rect x="115.68" y="248.1" width="3.51" height="54.6" fill="#b98365"/><use href="#md" x="117.44" y="248.1"/><use href="#md" x="117.44" y="250.58"/><use href="#md" x="117.44" y="253.06"/><use href="#md" x="117.44" y="255.55"/><use href="#md" x="117.44" y="258.03"/><use href="#md" x="117.44" y="260.51"/><use href="#md" x="117.44" y="262.99"/><use href="#md" x="117.44" y="265.47"/><use href="#md" x="117.44" y="267.95"/><use href="#md" x="117.44" y="270.44"/><use href="#md" x="117.44" y="272.92"/><use href="#md" x="117.44" y="275.4"/><use href="#md" x="117.44" y="277.88"/><use href="#md" x="117.44" y="280.36"/><use href="#md" x="117.44" y="282.85"/><use href="#md" x="117.44" y="285.33"/><use href="#md" x="117.44" y="287.81"/><use href="#md" x="117.44" y="290.29"/><use href="#md" x="117.44" y="292.77"/><use href="#md" x="117.44" y="295.25"/><use href="#md" x="117.44" y="297.74"/><use href="#md" x="117.44" y="300.22"/><use href="#md" x="117.44" y="302.7"/><ellipse cx="117.44" cy="248.1" rx="0.9" ry="1.0" fill="#efcab2"/><ellipse cx="117.44" cy="250.58" rx="0.9" ry="1.0" fill="#efcab2"/><ellipse cx="117.44" cy="253.06" rx="0.9" ry="1.0" fill="#efcab2"/><ellipse cx="117.44" cy="255.55" rx="0.9" ry="1.0" fill="#efcab2"/><ellipse cx="117.44" cy="258.03" rx="0.9" ry="1.0" fill="#efcab2"/><ellipse cx="117.44" cy="260.51" rx="0.9" ry="1.0" fill="#efcab2"/><ellipse cx="117.44" cy="262.99" rx="0.9" ry="1.0" fill="#efcab2"/><ellipse cx="117.44" cy="265.47" rx="0.9" ry="1.0" fill="#efcab2"/><ellipse cx="117.44" cy="267.95" rx="0.9" ry="1.0" fill="#efcab2"/><ellipse cx="117.44" cy="270.44" rx="0.9" ry="1.0" fill="#efcab2"/><ellipse cx="117.44" cy="272.92" rx="0.9" ry="1.0" fill="#efcab2"/><ellipse cx="117.44" cy="275.4" rx="0.9" ry="1.0" fill="#efcab2"/><ellipse cx="117.44" cy="277.88" rx="0.9" ry="1.0" fill="#efcab2"/><ellipse cx="117.44" cy="280.36" rx="0.9" ry="1.0" fill="#efcab2"/><ellipse cx="117.44" cy="282.85" rx="0.9" ry="1.0" fill="#efcab2"/><ellipse cx="117.44" cy="285.33" rx="0.9" ry="1.0" fill="#efcab2"/><ellipse cx="117.44" cy="287.81" rx="0.9" ry="1.0" fill="#efcab2"/><ellipse cx="117.44" cy="290.29" rx="0.9" ry="1.0" fill="#efcab2"/><ellipse cx="117.44" cy="292.77" rx="0.9" ry="1.0" fill="#efcab2"/><ellipse cx="117.44" cy="295.25" rx="0.9" ry="1.0" fill="#efcab2"/><ellipse cx="117.44" cy="297.74" rx="0.9" ry="1.0" fill="#efcab2"/><ellipse cx="117.44" cy="300.22" rx="0.9" ry="1.0" fill="#efcab2"/><ellipse cx="117.44" cy="302.7" rx="0.9" ry="1.0" fill="#efcab2"/><use href="#mdo" x="124.16" y="235"/><use href="#mdo" x="124.16" y="240.5"/><use href="#mdo" x="124.16" y="321.8"/><rect x="122.4" y="250.7" width="3.51" height="58.8" fill="#b98365"/><use href="#md" x="124.16" y="250.7"/><use href="#md" x="124.16" y="253.15"/><use href="#md" x="124.16" y="255.6"/><use href="#md" x="124.16" y="258.05"/><use href="#md" x="124.16" y="260.5"/><use href="#md" x="124.16" y="262.95"/><use href="#md" x="124.16" y="265.4"/><use href="#md" x="124.16" y="267.85"/><use href="#md" x="124.16" y="270.3"/><use href="#md" x="124.16" y="272.75"/><use href="#md" x="124.16" y="275.2"/><use href="#md" x="124.16" y="277.65"/><use href="#md" x="124.16" y="280.1"/><use href="#md" x="124.16" y="282.55"/><use href="#md" x="124.16" y="285"/><use href="#md" x="124.16" y="287.45"/><use href="#md" x="124.16" y="289.9"/><use href="#md" x="124.16" y="292.35"/><use href="#md" x="124.16" y="294.8"/><use href="#md" x="124.16" y="297.25"/><use href="#md" x="124.16" y="299.7"/><use href="#md" x="124.16" y="302.15"/><use href="#md" x="124.16" y="304.6"/><use href="#md" x="124.16" y="307.05"/><use href="#md" x="124.16" y="309.5"/><ellipse cx="124.16" cy="250.7" rx="0.9" ry="1.0" fill="#efcab2"/><ellipse cx="124.16" cy="253.15" rx="0.9" ry="1.0" fill="#efcab2"/><ellipse cx="124.16" cy="255.6" rx="0.9" ry="1.0" fill="#efcab2"/><ellipse cx="124.16" cy="258.05" rx="0.9" ry="1.0" fill="#efcab2"/><ellipse cx="124.16" cy="260.5" rx="0.9" ry="1.0" fill="#efcab2"/><ellipse cx="124.16" cy="262.95" rx="0.9" ry="1.0" fill="#efcab2"/><ellipse cx="124.16" cy="265.4" rx="0.9" ry="1.0" fill="#efcab2"/><ellipse cx="124.16" cy="267.85" rx="0.9" ry="1.0" fill="#efcab2"/><ellipse cx="124.16" cy="270.3" rx="0.9" ry="1.0" fill="#efcab2"/><ellipse cx="124.16" cy="272.75" rx="0.9" ry="1.0" fill="#efcab2"/><ellipse cx="124.16" cy="275.2" rx="0.9" ry="1.0" fill="#efcab2"/><ellipse cx="124.16" cy="277.65" rx="0.9" ry="1.0" fill="#efcab2"/><ellipse cx="124.16" cy="280.1" rx="0.9" ry="1.0" fill="#efcab2"/><ellipse cx="124.16" cy="282.55" rx="0.9" ry="1.0" fill="#efcab2"/><ellipse cx="124.16" cy="285" rx="0.9" ry="1.0" fill="#efcab2"/><ellipse cx="124.16" cy="287.45" rx="0.9" ry="1.0" fill="#efcab2"/><ellipse cx="124.16" cy="289.9" rx="0.9" ry="1.0" fill="#efcab2"/><ellipse cx="124.16" cy="292.35" rx="0.9" ry="1.0" fill="#efcab2"/><ellipse cx="124.16" cy="294.8" rx="0.9" ry="1.0" fill="#efcab2"/><ellipse cx="124.16" cy="297.25" rx="0.9" ry="1.0" fill="#efcab2"/><ellipse cx="124.16" cy="299.7" rx="0.9" ry="1.0" fill="#efcab2"/><ellipse cx="124.16" cy="302.15" rx="0.9" ry="1.0" fill="#efcab2"/><ellipse cx="124.16" cy="304.6" rx="0.9" ry="1.0" fill="#efcab2"/><ellipse cx="124.16" cy="307.05" rx="0.9" ry="1.0" fill="#efcab2"/><ellipse cx="124.16" cy="309.5" rx="0.9" ry="1.0" fill="#efcab2"/><use href="#mdo" x="130.88" y="236.4"/><rect x="129.12" y="246.7" width="3.51" height="62.8" fill="#b98365"/><use href="#md" x="130.88" y="246.7"/><use href="#md" x="130.88" y="249.21"/><use href="#md" x="130.88" y="251.72"/><use href="#md" x="130.88" y="254.24"/><use href="#md" x="130.88" y="256.75"/><use href="#md" x="130.88" y="259.26"/><use href="#md" x="130.88" y="261.77"/><use href="#md" x="130.88" y="264.28"/><use href="#md" x="130.88" y="266.8"/><use href="#md" x="130.88" y="269.31"/><use href="#md" x="130.88" y="271.82"/><use href="#md" x="130.88" y="274.33"/><use href="#md" x="130.88" y="276.84"/><use href="#md" x="130.88" y="279.36"/><use href="#md" x="130.88" y="281.87"/><use href="#md" x="130.88" y="284.38"/><use href="#md" x="130.88" y="286.89"/><use href="#md" x="130.88" y="289.4"/><use href="#md" x="130.88" y="291.92"/><use href="#md" x="130.88" y="294.43"/><use href="#md" x="130.88" y="296.94"/><use href="#md" x="130.88" y="299.45"/><use href="#md" x="130.88" y="301.96"/><use href="#md" x="130.88" y="304.48"/><use href="#md" x="130.88" y="306.99"/><use href="#md" x="130.88" y="309.5"/><ellipse cx="130.88" cy="246.7" rx="0.9" ry="1.0" fill="#efcab2"/><ellipse cx="130.88" cy="249.21" rx="0.9" ry="1.0" fill="#efcab2"/><ellipse cx="130.88" cy="251.72" rx="0.9" ry="1.0" fill="#efcab2"/><ellipse cx="130.88" cy="254.24" rx="0.9" ry="1.0" fill="#efcab2"/><ellipse cx="130.88" cy="256.75" rx="0.9" ry="1.0" fill="#efcab2"/><ellipse cx="130.88" cy="259.26" rx="0.9" ry="1.0" fill="#efcab2"/><ellipse cx="130.88" cy="261.77" rx="0.9" ry="1.0" fill="#efcab2"/><ellipse cx="130.88" cy="264.28" rx="0.9" ry="1.0" fill="#efcab2"/><ellipse cx="130.88" cy="266.8" rx="0.9" ry="1.0" fill="#efcab2"/><ellipse cx="130.88" cy="269.31" rx="0.9" ry="1.0" fill="#efcab2"/><ellipse cx="130.88" cy="271.82" rx="0.9" ry="1.0" fill="#efcab2"/><ellipse cx="130.88" cy="274.33" rx="0.9" ry="1.0" fill="#efcab2"/><ellipse cx="130.88" cy="276.84" rx="0.9" ry="1.0" fill="#efcab2"/><ellipse cx="130.88" cy="279.36" rx="0.9" ry="1.0" fill="#efcab2"/><ellipse cx="130.88" cy="281.87" rx="0.9" ry="1.0" fill="#efcab2"/><ellipse cx="130.88" cy="284.38" rx="0.9" ry="1.0" fill="#efcab2"/><ellipse cx="130.88" cy="286.89" rx="0.9" ry="1.0" fill="#efcab2"/><ellipse cx="130.88" cy="289.4" rx="0.9" ry="1.0" fill="#efcab2"/><ellipse cx="130.88" cy="291.92" rx="0.9" ry="1.0" fill="#efcab2"/><ellipse cx="130.88" cy="294.43" rx="0.9" ry="1.0" fill="#efcab2"/><ellipse cx="130.88" cy="296.94" rx="0.9" ry="1.0" fill="#efcab2"/><ellipse cx="130.88" cy="299.45" rx="0.9" ry="1.0" fill="#efcab2"/><ellipse cx="130.88" cy="301.96" rx="0.9" ry="1.0" fill="#efcab2"/><ellipse cx="130.88" cy="304.48" rx="0.9" ry="1.0" fill="#efcab2"/><ellipse cx="130.88" cy="306.99" rx="0.9" ry="1.0" fill="#efcab2"/><ellipse cx="130.88" cy="309.5" rx="0.9" ry="1.0" fill="#efcab2"/><use href="#mdo" x="137.6" y="227"/><use href="#mdo" x="137.6" y="236.4"/><rect x="135.84" y="241.9" width="3.51" height="64.2" fill="#b98365"/><use href="#md" x="137.6" y="241.9"/><use href="#md" x="137.6" y="244.37"/><use href="#md" x="137.6" y="246.84"/><use href="#md" x="137.6" y="249.31"/><use href="#md" x="137.6" y="251.78"/><use href="#md" x="137.6" y="254.25"/><use href="#md" x="137.6" y="256.72"/><use href="#md" x="137.6" y="259.18"/><use href="#md" x="137.6" y="261.65"/><use href="#md" x="137.6" y="264.12"/><use href="#md" x="137.6" y="266.59"/><use href="#md" x="137.6" y="269.06"/><use href="#md" x="137.6" y="271.53"/><use href="#md" x="137.6" y="274"/><use href="#md" x="137.6" y="276.47"/><use href="#md" x="137.6" y="278.94"/><use href="#md" x="137.6" y="281.41"/><use href="#md" x="137.6" y="283.88"/><use href="#md" x="137.6" y="286.35"/><use href="#md" x="137.6" y="288.82"/><use href="#md" x="137.6" y="291.28"/><use href="#md" x="137.6" y="293.75"/><use href="#md" x="137.6" y="296.22"/><use href="#md" x="137.6" y="298.69"/><use href="#md" x="137.6" y="301.16"/><use href="#md" x="137.6" y="303.63"/><use href="#md" x="137.6" y="306.1"/><ellipse cx="137.6" cy="241.9" rx="0.9" ry="1.0" fill="#efcab2"/><ellipse cx="137.6" cy="244.37" rx="0.9" ry="1.0" fill="#efcab2"/><ellipse cx="137.6" cy="246.84" rx="0.9" ry="1.0" fill="#efcab2"/><ellipse cx="137.6" cy="249.31" rx="0.9" ry="1.0" fill="#efcab2"/><ellipse cx="137.6" cy="251.78" rx="0.9" ry="1.0" fill="#efcab2"/><ellipse cx="137.6" cy="254.25" rx="0.9" ry="1.0" fill="#efcab2"/><ellipse cx="137.6" cy="256.72" rx="0.9" ry="1.0" fill="#efcab2"/><ellipse cx="137.6" cy="259.18" rx="0.9" ry="1.0" fill="#efcab2"/><ellipse cx="137.6" cy="261.65" rx="0.9" ry="1.0" fill="#efcab2"/><ellipse cx="137.6" cy="264.12" rx="0.9" ry="1.0" fill="#efcab2"/><ellipse cx="137.6" cy="266.59" rx="0.9" ry="1.0" fill="#efcab2"/><ellipse cx="137.6" cy="269.06" rx="0.9" ry="1.0" fill="#efcab2"/><ellipse cx="137.6" cy="271.53" rx="0.9" ry="1.0" fill="#efcab2"/><ellipse cx="137.6" cy="274" rx="0.9" ry="1.0" fill="#efcab2"/><ellipse cx="137.6" cy="276.47" rx="0.9" ry="1.0" fill="#efcab2"/><ellipse cx="137.6" cy="278.94" rx="0.9" ry="1.0" fill="#efcab2"/><ellipse cx="137.6" cy="281.41" rx="0.9" ry="1.0" fill="#efcab2"/><ellipse cx="137.6" cy="283.88" rx="0.9" ry="1.0" fill="#efcab2"/><ellipse cx="137.6" cy="286.35" rx="0.9" ry="1.0" fill="#efcab2"/><ellipse cx="137.6" cy="288.82" rx="0.9" ry="1.0" fill="#efcab2"/><ellipse cx="137.6" cy="291.28" rx="0.9" ry="1.0" fill="#efcab2"/><ellipse cx="137.6" cy="293.75" rx="0.9" ry="1.0" fill="#efcab2"/><ellipse cx="137.6" cy="296.22" rx="0.9" ry="1.0" fill="#efcab2"/><ellipse cx="137.6" cy="298.69" rx="0.9" ry="1.0" fill="#efcab2"/><ellipse cx="137.6" cy="301.16" rx="0.9" ry="1.0" fill="#efcab2"/><ellipse cx="137.6" cy="303.63" rx="0.9" ry="1.0" fill="#efcab2"/><ellipse cx="137.6" cy="306.1" rx="0.9" ry="1.0" fill="#efcab2"/><use href="#mdo" x="144.32" y="235.8"/><use href="#mdo" x="144.32" y="299.4"/><use href="#mdo" x="144.32" y="304.2"/><rect x="142.56" y="244.6" width="3.51" height="48.6" fill="#b98365"/><use href="#md" x="144.32" y="244.6"/><use href="#md" x="144.32" y="247.16"/><use href="#md" x="144.32" y="249.72"/><use href="#md" x="144.32" y="252.27"/><use href="#md" x="144.32" y="254.83"/><use href="#md" x="144.32" y="257.39"/><use href="#md" x="144.32" y="259.95"/><use href="#md" x="144.32" y="262.51"/><use href="#md" x="144.32" y="265.06"/><use href="#md" x="144.32" y="267.62"/><use href="#md" x="144.32" y="270.18"/><use href="#md" x="144.32" y="272.74"/><use href="#md" x="144.32" y="275.29"/><use href="#md" x="144.32" y="277.85"/><use href="#md" x="144.32" y="280.41"/><use href="#md" x="144.32" y="282.97"/><use href="#md" x="144.32" y="285.53"/><use href="#md" x="144.32" y="288.08"/><use href="#md" x="144.32" y="290.64"/><use href="#md" x="144.32" y="293.2"/><ellipse cx="144.32" cy="244.6" rx="0.9" ry="1.0" fill="#efcab2"/><ellipse cx="144.32" cy="247.16" rx="0.9" ry="1.0" fill="#efcab2"/><ellipse cx="144.32" cy="249.72" rx="0.9" ry="1.0" fill="#efcab2"/><ellipse cx="144.32" cy="252.27" rx="0.9" ry="1.0" fill="#efcab2"/><ellipse cx="144.32" cy="254.83" rx="0.9" ry="1.0" fill="#efcab2"/><ellipse cx="144.32" cy="257.39" rx="0.9" ry="1.0" fill="#efcab2"/><ellipse cx="144.32" cy="259.95" rx="0.9" ry="1.0" fill="#efcab2"/><ellipse cx="144.32" cy="262.51" rx="0.9" ry="1.0" fill="#efcab2"/><ellipse cx="144.32" cy="265.06" rx="0.9" ry="1.0" fill="#efcab2"/><ellipse cx="144.32" cy="267.62" rx="0.9" ry="1.0" fill="#efcab2"/><ellipse cx="144.32" cy="270.18" rx="0.9" ry="1.0" fill="#efcab2"/><ellipse cx="144.32" cy="272.74" rx="0.9" ry="1.0" fill="#efcab2"/><ellipse cx="144.32" cy="275.29" rx="0.9" ry="1.0" fill="#efcab2"/><ellipse cx="144.32" cy="277.85" rx="0.9" ry="1.0" fill="#efcab2"/><ellipse cx="144.32" cy="280.41" rx="0.9" ry="1.0" fill="#efcab2"/><ellipse cx="144.32" cy="282.97" rx="0.9" ry="1.0" fill="#efcab2"/><ellipse cx="144.32" cy="285.53" rx="0.9" ry="1.0" fill="#efcab2"/><ellipse cx="144.32" cy="288.08" rx="0.9" ry="1.0" fill="#efcab2"/><ellipse cx="144.32" cy="290.64" rx="0.9" ry="1.0" fill="#efcab2"/><ellipse cx="144.32" cy="293.2" rx="0.9" ry="1.0" fill="#efcab2"/><use href="#mdo" x="151.04" y="308.2"/><rect x="149.28" y="233.8" width="3.51" height="47.9" fill="#b98365"/><use href="#md" x="151.04" y="233.8"/><use href="#md" x="151.04" y="236.32"/><use href="#md" x="151.04" y="238.84"/><use href="#md" x="151.04" y="241.36"/><use href="#md" x="151.04" y="243.88"/><use href="#md" x="151.04" y="246.41"/><use href="#md" x="151.04" y="248.93"/><use href="#md" x="151.04" y="251.45"/><use href="#md" x="151.04" y="253.97"/><use href="#md" x="151.04" y="256.49"/><use href="#md" x="151.04" y="259.01"/><use href="#md" x="151.04" y="261.53"/><use href="#md" x="151.04" y="264.05"/><use href="#md" x="151.04" y="266.57"/><use href="#md" x="151.04" y="269.09"/><use href="#md" x="151.04" y="271.62"/><use href="#md" x="151.04" y="274.14"/><use href="#md" x="151.04" y="276.66"/><use href="#md" x="151.04" y="279.18"/><use href="#md" x="151.04" y="281.7"/><ellipse cx="151.04" cy="233.8" rx="0.9" ry="1.0" fill="#efcab2"/><ellipse cx="151.04" cy="236.32" rx="0.9" ry="1.0" fill="#efcab2"/><ellipse cx="151.04" cy="238.84" rx="0.9" ry="1.0" fill="#efcab2"/><ellipse cx="151.04" cy="241.36" rx="0.9" ry="1.0" fill="#efcab2"/><ellipse cx="151.04" cy="243.88" rx="0.9" ry="1.0" fill="#efcab2"/><ellipse cx="151.04" cy="246.41" rx="0.9" ry="1.0" fill="#efcab2"/><ellipse cx="151.04" cy="248.93" rx="0.9" ry="1.0" fill="#efcab2"/><ellipse cx="151.04" cy="251.45" rx="0.9" ry="1.0" fill="#efcab2"/><ellipse cx="151.04" cy="253.97" rx="0.9" ry="1.0" fill="#efcab2"/><ellipse cx="151.04" cy="256.49" rx="0.9" ry="1.0" fill="#efcab2"/><ellipse cx="151.04" cy="259.01" rx="0.9" ry="1.0" fill="#efcab2"/><ellipse cx="151.04" cy="261.53" rx="0.9" ry="1.0" fill="#efcab2"/><ellipse cx="151.04" cy="264.05" rx="0.9" ry="1.0" fill="#efcab2"/><ellipse cx="151.04" cy="266.57" rx="0.9" ry="1.0" fill="#efcab2"/><ellipse cx="151.04" cy="269.09" rx="0.9" ry="1.0" fill="#efcab2"/><ellipse cx="151.04" cy="271.62" rx="0.9" ry="1.0" fill="#efcab2"/><ellipse cx="151.04" cy="274.14" rx="0.9" ry="1.0" fill="#efcab2"/><ellipse cx="151.04" cy="276.66" rx="0.9" ry="1.0" fill="#efcab2"/><ellipse cx="151.04" cy="279.18" rx="0.9" ry="1.0" fill="#efcab2"/><ellipse cx="151.04" cy="281.7" rx="0.9" ry="1.0" fill="#efcab2"/><use href="#mdo" x="157.76" y="283.8"/><use href="#mdo" x="157.76" y="289.9"/><use href="#mdo" x="157.76" y="292.6"/><rect x="156" y="239.2" width="3.51" height="37.7" fill="#b98365"/><use href="#md" x="157.76" y="239.2"/><use href="#md" x="157.76" y="241.71"/><use href="#md" x="157.76" y="244.23"/><use href="#md" x="157.76" y="246.74"/><use href="#md" x="157.76" y="249.25"/><use href="#md" x="157.76" y="251.77"/><use href="#md" x="157.76" y="254.28"/><use href="#md" x="157.76" y="256.79"/><use href="#md" x="157.76" y="259.31"/><use href="#md" x="157.76" y="261.82"/><use href="#md" x="157.76" y="264.33"/><use href="#md" x="157.76" y="266.85"/><use href="#md" x="157.76" y="269.36"/><use href="#md" x="157.76" y="271.87"/><use href="#md" x="157.76" y="274.39"/><use href="#md" x="157.76" y="276.9"/><ellipse cx="157.76" cy="239.2" rx="0.9" ry="1.0" fill="#efcab2"/><ellipse cx="157.76" cy="241.71" rx="0.9" ry="1.0" fill="#efcab2"/><ellipse cx="157.76" cy="244.23" rx="0.9" ry="1.0" fill="#efcab2"/><ellipse cx="157.76" cy="246.74" rx="0.9" ry="1.0" fill="#efcab2"/><ellipse cx="157.76" cy="249.25" rx="0.9" ry="1.0" fill="#efcab2"/><ellipse cx="157.76" cy="251.77" rx="0.9" ry="1.0" fill="#efcab2"/><ellipse cx="157.76" cy="254.28" rx="0.9" ry="1.0" fill="#efcab2"/><ellipse cx="157.76" cy="256.79" rx="0.9" ry="1.0" fill="#efcab2"/><ellipse cx="157.76" cy="259.31" rx="0.9" ry="1.0" fill="#efcab2"/><ellipse cx="157.76" cy="261.82" rx="0.9" ry="1.0" fill="#efcab2"/><ellipse cx="157.76" cy="264.33" rx="0.9" ry="1.0" fill="#efcab2"/><ellipse cx="157.76" cy="266.85" rx="0.9" ry="1.0" fill="#efcab2"/><ellipse cx="157.76" cy="269.36" rx="0.9" ry="1.0" fill="#efcab2"/><ellipse cx="157.76" cy="271.87" rx="0.9" ry="1.0" fill="#efcab2"/><ellipse cx="157.76" cy="274.39" rx="0.9" ry="1.0" fill="#efcab2"/><ellipse cx="157.76" cy="276.9" rx="0.9" ry="1.0" fill="#efcab2"/><use href="#mdo" x="164.48" y="262.2"/><rect x="162.72" y="233.1" width="3.51" height="23.6" fill="#b98365"/><use href="#md" x="164.48" y="233.1"/><use href="#md" x="164.48" y="235.72"/><use href="#md" x="164.48" y="238.34"/><use href="#md" x="164.48" y="240.97"/><use href="#md" x="164.48" y="243.59"/><use href="#md" x="164.48" y="246.21"/><use href="#md" x="164.48" y="248.83"/><use href="#md" x="164.48" y="251.46"/><use href="#md" x="164.48" y="254.08"/><use href="#md" x="164.48" y="256.7"/><ellipse cx="164.48" cy="233.1" rx="0.9" ry="1.0" fill="#efcab2"/><ellipse cx="164.48" cy="235.72" rx="0.9" ry="1.0" fill="#efcab2"/><ellipse cx="164.48" cy="238.34" rx="0.9" ry="1.0" fill="#efcab2"/><ellipse cx="164.48" cy="240.97" rx="0.9" ry="1.0" fill="#efcab2"/><ellipse cx="164.48" cy="243.59" rx="0.9" ry="1.0" fill="#efcab2"/><ellipse cx="164.48" cy="246.21" rx="0.9" ry="1.0" fill="#efcab2"/><ellipse cx="164.48" cy="248.83" rx="0.9" ry="1.0" fill="#efcab2"/><ellipse cx="164.48" cy="251.46" rx="0.9" ry="1.0" fill="#efcab2"/><ellipse cx="164.48" cy="254.08" rx="0.9" ry="1.0" fill="#efcab2"/><ellipse cx="164.48" cy="256.7" rx="0.9" ry="1.0" fill="#efcab2"/></g><ellipse cx="43.52" cy="236.8" rx="2.2" ry="2.64" fill="#fff"/><circle cx="43.52" cy="236.8" r="1.35" fill="#000"/><ellipse cx="50.24" cy="260.5" rx="2.2" ry="2.64" fill="#fff"/><circle cx="50.24" cy="260.5" r="1.35" fill="#000"/><ellipse cx="56.96" cy="246.6" rx="2.2" ry="2.64" fill="#fff"/><circle cx="56.96" cy="246.6" r="1.35" fill="#000"/><ellipse cx="63.68" cy="267.1" rx="2.2" ry="2.64" fill="#fff"/><circle cx="63.68" cy="267.1" r="1.35" fill="#000"/><ellipse cx="70.4" cy="278.9" rx="2.2" ry="2.64" fill="#fff"/><circle cx="70.4" cy="278.9" r="1.35" fill="#000"/><ellipse cx="77.12" cy="271" rx="2.2" ry="2.64" fill="#fff"/><circle cx="77.12" cy="271" r="1.35" fill="#000"/><ellipse cx="83.84" cy="279.2" rx="2.2" ry="2.64" fill="#fff"/><circle cx="83.84" cy="279.2" r="1.35" fill="#000"/><ellipse cx="90.56" cy="273" rx="2.2" ry="2.64" fill="#fff"/><circle cx="90.56" cy="273" r="1.35" fill="#000"/><ellipse cx="97.28" cy="279.9" rx="2.2" ry="2.64" fill="#fff"/><circle cx="97.28" cy="279.9" r="1.35" fill="#000"/><ellipse cx="104" cy="282.4" rx="2.2" ry="2.64" fill="#fff"/><circle cx="104" cy="282.4" r="1.35" fill="#000"/><ellipse cx="110.72" cy="279.1" rx="2.2" ry="2.64" fill="#fff"/><circle cx="110.72" cy="279.1" r="1.35" fill="#000"/><ellipse cx="117.44" cy="279.1" rx="2.2" ry="2.64" fill="#fff"/><circle cx="117.44" cy="279.1" r="1.35" fill="#000"/><ellipse cx="124.16" cy="277.4" rx="2.2" ry="2.64" fill="#fff"/><circle cx="124.16" cy="277.4" r="1.35" fill="#000"/><ellipse cx="130.88" cy="275.5" rx="2.2" ry="2.64" fill="#fff"/><circle cx="130.88" cy="275.5" r="1.35" fill="#000"/><ellipse cx="137.6" cy="268.6" rx="2.2" ry="2.64" fill="#fff"/><circle cx="137.6" cy="268.6" r="1.35" fill="#000"/><ellipse cx="144.32" cy="267.6" rx="2.2" ry="2.64" fill="#fff"/><circle cx="144.32" cy="267.6" r="1.35" fill="#000"/><ellipse cx="151.04" cy="255.4" rx="2.2" ry="2.64" fill="#fff"/><circle cx="151.04" cy="255.4" r="1.35" fill="#000"/><ellipse cx="157.76" cy="260.2" rx="2.2" ry="2.64" fill="#fff"/><circle cx="157.76" cy="260.2" r="1.35" fill="#000"/><ellipse cx="164.48" cy="243.2" rx="2.2" ry="2.64" fill="#fff"/><circle cx="164.48" cy="243.2" r="1.35" fill="#000"/><rect x="37" y="209.2" width="134.4" height="136.9" fill="none" stroke="#a2a2a2" stroke-width="1.5"/><line x1="34.8" y1="209" x2="36.8" y2="209" stroke="#6a6a6a" stroke-width="0.9"/><text x="30.5" y="211.2" text-anchor="end">250</text><line x1="34.8" y1="228.56" x2="36.8" y2="228.56" stroke="#6a6a6a" stroke-width="0.9"/><text x="30.5" y="230.76" text-anchor="end">200</text><line x1="34.8" y1="248.11" x2="36.8" y2="248.11" stroke="#6a6a6a" stroke-width="0.9"/><text x="30.5" y="250.31" text-anchor="end">150</text><line x1="34.8" y1="267.67" x2="36.8" y2="267.67" stroke="#6a6a6a" stroke-width="0.9"/><text x="30.5" y="269.87" text-anchor="end">100</text><line x1="34.8" y1="287.23" x2="36.8" y2="287.23" stroke="#6a6a6a" stroke-width="0.9"/><text x="30.5" y="289.43" text-anchor="end">50</text><line x1="34.8" y1="306.79" x2="36.8" y2="306.79" stroke="#6a6a6a" stroke-width="0.9"/><text x="30.5" y="308.99" text-anchor="end">0</text><line x1="34.8" y1="326.34" x2="36.8" y2="326.34" stroke="#6a6a6a" stroke-width="0.9"/><text x="30.5" y="328.54" text-anchor="end">-50</text><line x1="34.8" y1="345.9" x2="36.8" y2="345.9" stroke="#6a6a6a" stroke-width="0.9"/><text x="30.5" y="348.1" text-anchor="end">-100</text><line x1="36.8" y1="345.9" x2="36.8" y2="347.9" stroke="#6a6a6a" stroke-width="0.9"/><text x="36.8" y="356.8" text-anchor="middle">0</text><line x1="63.68" y1="345.9" x2="63.68" y2="347.9" stroke="#6a6a6a" stroke-width="0.9"/><text x="63.68" y="356.8" text-anchor="middle">20</text><line x1="90.56" y1="345.9" x2="90.56" y2="347.9" stroke="#6a6a6a" stroke-width="0.9"/><text x="90.56" y="356.8" text-anchor="middle">40</text><line x1="117.44" y1="345.9" x2="117.44" y2="347.9" stroke="#6a6a6a" stroke-width="0.9"/><text x="117.44" y="356.8" text-anchor="middle">60</text><line x1="144.32" y1="345.9" x2="144.32" y2="347.9" stroke="#6a6a6a" stroke-width="0.9"/><text x="144.32" y="356.8" text-anchor="middle">80</text><line x1="171.2" y1="345.9" x2="171.2" y2="347.9" stroke="#6a6a6a" stroke-width="0.9"/><text x="171.2" y="356.8" text-anchor="middle">100</text><text x="52.4" y="217.7">Ni-Cr : 480 atoms system</text><text x="105.4" y="366.6" text-anchor="middle">Cr Conc (%)</text><text transform="translate(15.7,277) rotate(-90) scale(1.0)" text-anchor="middle">SFE (mJ/m<tspan font-size="5.5" dy="-3">2</tspan><tspan dy="3">)</tspan></text><text x="15.3" y="197.5">d)</text></g>
<g><defs><path id="me" d="M0,-2.3 L1.95,0 L0,2.3 L-1.95,0Z" fill="#a9cb96" stroke="#6a7c64" stroke-width="0.8"/><path id="meo" d="M0,-2.3 L1.95,0 L0,2.3 L-1.95,0Z" fill="#d6e8cc" stroke="#849c78" stroke-width="0.8"/></defs><g style="filter:blur(0.35px)"><rect x="212.39" y="256" width="3.51" height="8.7" fill="#86a874"/><use href="#me" x="214.14" y="256"/><use href="#me" x="214.14" y="258.9"/><use href="#me" x="214.14" y="261.8"/><use href="#me" x="214.14" y="264.7"/><ellipse cx="214.14" cy="256" rx="0.9" ry="1.0" fill="#d6eacb"/><ellipse cx="214.14" cy="258.9" rx="0.9" ry="1.0" fill="#d6eacb"/><ellipse cx="214.14" cy="261.8" rx="0.9" ry="1.0" fill="#d6eacb"/><ellipse cx="214.14" cy="264.7" rx="0.9" ry="1.0" fill="#d6eacb"/><rect x="219.23" y="257.3" width="3.51" height="13.7" fill="#86a874"/><use href="#me" x="220.98" y="257.3"/><use href="#me" x="220.98" y="260.04"/><use href="#me" x="220.98" y="262.78"/><use href="#me" x="220.98" y="265.52"/><use href="#me" x="220.98" y="268.26"/><use href="#me" x="220.98" y="271"/><ellipse cx="220.98" cy="257.3" rx="0.9" ry="1.0" fill="#d6eacb"/><ellipse cx="220.98" cy="260.04" rx="0.9" ry="1.0" fill="#d6eacb"/><ellipse cx="220.98" cy="262.78" rx="0.9" ry="1.0" fill="#d6eacb"/><ellipse cx="220.98" cy="265.52" rx="0.9" ry="1.0" fill="#d6eacb"/><ellipse cx="220.98" cy="268.26" rx="0.9" ry="1.0" fill="#d6eacb"/><ellipse cx="220.98" cy="271" rx="0.9" ry="1.0" fill="#d6eacb"/><rect x="226.07" y="263.2" width="3.51" height="17" fill="#86a874"/><use href="#me" x="227.82" y="263.2"/><use href="#me" x="227.82" y="265.63"/><use href="#me" x="227.82" y="268.06"/><use href="#me" x="227.82" y="270.49"/><use href="#me" x="227.82" y="272.91"/><use href="#me" x="227.82" y="275.34"/><use href="#me" x="227.82" y="277.77"/><use href="#me" x="227.82" y="280.2"/><ellipse cx="227.82" cy="263.2" rx="0.9" ry="1.0" fill="#d6eacb"/><ellipse cx="227.82" cy="265.63" rx="0.9" ry="1.0" fill="#d6eacb"/><ellipse cx="227.82" cy="268.06" rx="0.9" ry="1.0" fill="#d6eacb"/><ellipse cx="227.82" cy="270.49" rx="0.9" ry="1.0" fill="#d6eacb"/><ellipse cx="227.82" cy="272.91" rx="0.9" ry="1.0" fill="#d6eacb"/><ellipse cx="227.82" cy="275.34" rx="0.9" ry="1.0" fill="#d6eacb"/><ellipse cx="227.82" cy="277.77" rx="0.9" ry="1.0" fill="#d6eacb"/><ellipse cx="227.82" cy="280.2" rx="0.9" ry="1.0" fill="#d6eacb"/><rect x="232.91" y="261.9" width="3.51" height="22.4" fill="#86a874"/><use href="#me" x="234.66" y="261.9"/><use href="#me" x="234.66" y="264.39"/><use href="#me" x="234.66" y="266.88"/><use href="#me" x="234.66" y="269.37"/><use href="#me" x="234.66" y="271.86"/><use href="#me" x="234.66" y="274.34"/><use href="#me" x="234.66" y="276.83"/><use href="#me" x="234.66" y="279.32"/><use href="#me" x="234.66" y="281.81"/><use href="#me" x="234.66" y="284.3"/><ellipse cx="234.66" cy="261.9" rx="0.9" ry="1.0" fill="#d6eacb"/><ellipse cx="234.66" cy="264.39" rx="0.9" ry="1.0" fill="#d6eacb"/><ellipse cx="234.66" cy="266.88" rx="0.9" ry="1.0" fill="#d6eacb"/><ellipse cx="234.66" cy="269.37" rx="0.9" ry="1.0" fill="#d6eacb"/><ellipse cx="234.66" cy="271.86" rx="0.9" ry="1.0" fill="#d6eacb"/><ellipse cx="234.66" cy="274.34" rx="0.9" ry="1.0" fill="#d6eacb"/><ellipse cx="234.66" cy="276.83" rx="0.9" ry="1.0" fill="#d6eacb"/><ellipse cx="234.66" cy="279.32" rx="0.9" ry="1.0" fill="#d6eacb"/><ellipse cx="234.66" cy="281.81" rx="0.9" ry="1.0" fill="#d6eacb"/><ellipse cx="234.66" cy="284.3" rx="0.9" ry="1.0" fill="#d6eacb"/><rect x="239.75" y="267.6" width="3.51" height="23.9" fill="#86a874"/><use href="#me" x="241.5" y="267.6"/><use href="#me" x="241.5" y="269.99"/><use href="#me" x="241.5" y="272.38"/><use href="#me" x="241.5" y="274.77"/><use href="#me" x="241.5" y="277.16"/><use href="#me" x="241.5" y="279.55"/><use href="#me" x="241.5" y="281.94"/><use href="#me" x="241.5" y="284.33"/><use href="#me" x="241.5" y="286.72"/><use href="#me" x="241.5" y="289.11"/><use href="#me" x="241.5" y="291.5"/><ellipse cx="241.5" cy="267.6" rx="0.9" ry="1.0" fill="#d6eacb"/><ellipse cx="241.5" cy="269.99" rx="0.9" ry="1.0" fill="#d6eacb"/><ellipse cx="241.5" cy="272.38" rx="0.9" ry="1.0" fill="#d6eacb"/><ellipse cx="241.5" cy="274.77" rx="0.9" ry="1.0" fill="#d6eacb"/><ellipse cx="241.5" cy="277.16" rx="0.9" ry="1.0" fill="#d6eacb"/><ellipse cx="241.5" cy="279.55" rx="0.9" ry="1.0" fill="#d6eacb"/><ellipse cx="241.5" cy="281.94" rx="0.9" ry="1.0" fill="#d6eacb"/><ellipse cx="241.5" cy="284.33" rx="0.9" ry="1.0" fill="#d6eacb"/><ellipse cx="241.5" cy="286.72" rx="0.9" ry="1.0" fill="#d6eacb"/><ellipse cx="241.5" cy="289.11" rx="0.9" ry="1.0" fill="#d6eacb"/><ellipse cx="241.5" cy="291.5" rx="0.9" ry="1.0" fill="#d6eacb"/><rect x="246.59" y="269.6" width="3.51" height="23.2" fill="#86a874"/><use href="#me" x="248.34" y="269.6"/><use href="#me" x="248.34" y="272.18"/><use href="#me" x="248.34" y="274.76"/><use href="#me" x="248.34" y="277.33"/><use href="#me" x="248.34" y="279.91"/><use href="#me" x="248.34" y="282.49"/><use href="#me" x="248.34" y="285.07"/><use href="#me" x="248.34" y="287.64"/><use href="#me" x="248.34" y="290.22"/><use href="#me" x="248.34" y="292.8"/><ellipse cx="248.34" cy="269.6" rx="0.9" ry="1.0" fill="#d6eacb"/><ellipse cx="248.34" cy="272.18" rx="0.9" ry="1.0" fill="#d6eacb"/><ellipse cx="248.34" cy="274.76" rx="0.9" ry="1.0" fill="#d6eacb"/><ellipse cx="248.34" cy="277.33" rx="0.9" ry="1.0" fill="#d6eacb"/><ellipse cx="248.34" cy="279.91" rx="0.9" ry="1.0" fill="#d6eacb"/><ellipse cx="248.34" cy="282.49" rx="0.9" ry="1.0" fill="#d6eacb"/><ellipse cx="248.34" cy="285.07" rx="0.9" ry="1.0" fill="#d6eacb"/><ellipse cx="248.34" cy="287.64" rx="0.9" ry="1.0" fill="#d6eacb"/><ellipse cx="248.34" cy="290.22" rx="0.9" ry="1.0" fill="#d6eacb"/><ellipse cx="248.34" cy="292.8" rx="0.9" ry="1.0" fill="#d6eacb"/><rect x="253.43" y="266.9" width="3.51" height="25.9" fill="#86a874"/><use href="#me" x="255.18" y="266.9"/><use href="#me" x="255.18" y="269.49"/><use href="#me" x="255.18" y="272.08"/><use href="#me" x="255.18" y="274.67"/><use href="#me" x="255.18" y="277.26"/><use href="#me" x="255.18" y="279.85"/><use href="#me" x="255.18" y="282.44"/><use href="#me" x="255.18" y="285.03"/><use href="#me" x="255.18" y="287.62"/><use href="#me" x="255.18" y="290.21"/><use href="#me" x="255.18" y="292.8"/><ellipse cx="255.18" cy="266.9" rx="0.9" ry="1.0" fill="#d6eacb"/><ellipse cx="255.18" cy="269.49" rx="0.9" ry="1.0" fill="#d6eacb"/><ellipse cx="255.18" cy="272.08" rx="0.9" ry="1.0" fill="#d6eacb"/><ellipse cx="255.18" cy="274.67" rx="0.9" ry="1.0" fill="#d6eacb"/><ellipse cx="255.18" cy="277.26" rx="0.9" ry="1.0" fill="#d6eacb"/><ellipse cx="255.18" cy="279.85" rx="0.9" ry="1.0" fill="#d6eacb"/><ellipse cx="255.18" cy="282.44" rx="0.9" ry="1.0" fill="#d6eacb"/><ellipse cx="255.18" cy="285.03" rx="0.9" ry="1.0" fill="#d6eacb"/><ellipse cx="255.18" cy="287.62" rx="0.9" ry="1.0" fill="#d6eacb"/><ellipse cx="255.18" cy="290.21" rx="0.9" ry="1.0" fill="#d6eacb"/><ellipse cx="255.18" cy="292.8" rx="0.9" ry="1.0" fill="#d6eacb"/><rect x="260.27" y="270.2" width="3.51" height="30.5" fill="#86a874"/><use href="#me" x="262.02" y="270.2"/><use href="#me" x="262.02" y="272.74"/><use href="#me" x="262.02" y="275.28"/><use href="#me" x="262.02" y="277.83"/><use href="#me" x="262.02" y="280.37"/><use href="#me" x="262.02" y="282.91"/><use href="#me" x="262.02" y="285.45"/><use href="#me" x="262.02" y="287.99"/><use href="#me" x="262.02" y="290.53"/><use href="#me" x="262.02" y="293.07"/><use href="#me" x="262.02" y="295.62"/><use href="#me" x="262.02" y="298.16"/><use href="#me" x="262.02" y="300.7"/><ellipse cx="262.02" cy="270.2" rx="0.9" ry="1.0" fill="#d6eacb"/><ellipse cx="262.02" cy="272.74" rx="0.9" ry="1.0" fill="#d6eacb"/><ellipse cx="262.02" cy="275.28" rx="0.9" ry="1.0" fill="#d6eacb"/><ellipse cx="262.02" cy="277.83" rx="0.9" ry="1.0" fill="#d6eacb"/><ellipse cx="262.02" cy="280.37" rx="0.9" ry="1.0" fill="#d6eacb"/><ellipse cx="262.02" cy="282.91" rx="0.9" ry="1.0" fill="#d6eacb"/><ellipse cx="262.02" cy="285.45" rx="0.9" ry="1.0" fill="#d6eacb"/><ellipse cx="262.02" cy="287.99" rx="0.9" ry="1.0" fill="#d6eacb"/><ellipse cx="262.02" cy="290.53" rx="0.9" ry="1.0" fill="#d6eacb"/><ellipse cx="262.02" cy="293.07" rx="0.9" ry="1.0" fill="#d6eacb"/><ellipse cx="262.02" cy="295.62" rx="0.9" ry="1.0" fill="#d6eacb"/><ellipse cx="262.02" cy="298.16" rx="0.9" ry="1.0" fill="#d6eacb"/><ellipse cx="262.02" cy="300.7" rx="0.9" ry="1.0" fill="#d6eacb"/><rect x="267.11" y="266.9" width="3.51" height="29.2" fill="#86a874"/><use href="#me" x="268.86" y="266.9"/><use href="#me" x="268.86" y="269.33"/><use href="#me" x="268.86" y="271.77"/><use href="#me" x="268.86" y="274.2"/><use href="#me" x="268.86" y="276.63"/><use href="#me" x="268.86" y="279.07"/><use href="#me" x="268.86" y="281.5"/><use href="#me" x="268.86" y="283.93"/><use href="#me" x="268.86" y="286.37"/><use href="#me" x="268.86" y="288.8"/><use href="#me" x="268.86" y="291.23"/><use href="#me" x="268.86" y="293.67"/><use href="#me" x="268.86" y="296.1"/><ellipse cx="268.86" cy="266.9" rx="0.9" ry="1.0" fill="#d6eacb"/><ellipse cx="268.86" cy="269.33" rx="0.9" ry="1.0" fill="#d6eacb"/><ellipse cx="268.86" cy="271.77" rx="0.9" ry="1.0" fill="#d6eacb"/><ellipse cx="268.86" cy="274.2" rx="0.9" ry="1.0" fill="#d6eacb"/><ellipse cx="268.86" cy="276.63" rx="0.9" ry="1.0" fill="#d6eacb"/><ellipse cx="268.86" cy="279.07" rx="0.9" ry="1.0" fill="#d6eacb"/><ellipse cx="268.86" cy="281.5" rx="0.9" ry="1.0" fill="#d6eacb"/><ellipse cx="268.86" cy="283.93" rx="0.9" ry="1.0" fill="#d6eacb"/><ellipse cx="268.86" cy="286.37" rx="0.9" ry="1.0" fill="#d6eacb"/><ellipse cx="268.86" cy="288.8" rx="0.9" ry="1.0" fill="#d6eacb"/><ellipse cx="268.86" cy="291.23" rx="0.9" ry="1.0" fill="#d6eacb"/><ellipse cx="268.86" cy="293.67" rx="0.9" ry="1.0" fill="#d6eacb"/><ellipse cx="268.86" cy="296.1" rx="0.9" ry="1.0" fill="#d6eacb"/><rect x="273.95" y="267.1" width="3.51" height="27.7" fill="#86a874"/><use href="#me" x="275.7" y="267.1"/><use href="#me" x="275.7" y="269.62"/><use href="#me" x="275.7" y="272.14"/><use href="#me" x="275.7" y="274.65"/><use href="#me" x="275.7" y="277.17"/><use href="#me" x="275.7" y="279.69"/><use href="#me" x="275.7" y="282.21"/><use href="#me" x="275.7" y="284.73"/><use href="#me" x="275.7" y="287.25"/><use href="#me" x="275.7" y="289.76"/><use href="#me" x="275.7" y="292.28"/><use href="#me" x="275.7" y="294.8"/><ellipse cx="275.7" cy="267.1" rx="0.9" ry="1.0" fill="#d6eacb"/><ellipse cx="275.7" cy="269.62" rx="0.9" ry="1.0" fill="#d6eacb"/><ellipse cx="275.7" cy="272.14" rx="0.9" ry="1.0" fill="#d6eacb"/><ellipse cx="275.7" cy="274.65" rx="0.9" ry="1.0" fill="#d6eacb"/><ellipse cx="275.7" cy="277.17" rx="0.9" ry="1.0" fill="#d6eacb"/><ellipse cx="275.7" cy="279.69" rx="0.9" ry="1.0" fill="#d6eacb"/><ellipse cx="275.7" cy="282.21" rx="0.9" ry="1.0" fill="#d6eacb"/><ellipse cx="275.7" cy="284.73" rx="0.9" ry="1.0" fill="#d6eacb"/><ellipse cx="275.7" cy="287.25" rx="0.9" ry="1.0" fill="#d6eacb"/><ellipse cx="275.7" cy="289.76" rx="0.9" ry="1.0" fill="#d6eacb"/><ellipse cx="275.7" cy="292.28" rx="0.9" ry="1.0" fill="#d6eacb"/><ellipse cx="275.7" cy="294.8" rx="0.9" ry="1.0" fill="#d6eacb"/><rect x="280.79" y="268.7" width="3.51" height="26.9" fill="#86a874"/><use href="#me" x="282.54" y="268.7"/><use href="#me" x="282.54" y="271.15"/><use href="#me" x="282.54" y="273.59"/><use href="#me" x="282.54" y="276.04"/><use href="#me" x="282.54" y="278.48"/><use href="#me" x="282.54" y="280.93"/><use href="#me" x="282.54" y="283.37"/><use href="#me" x="282.54" y="285.82"/><use href="#me" x="282.54" y="288.26"/><use href="#me" x="282.54" y="290.71"/><use href="#me" x="282.54" y="293.15"/><use href="#me" x="282.54" y="295.6"/><ellipse cx="282.54" cy="268.7" rx="0.9" ry="1.0" fill="#d6eacb"/><ellipse cx="282.54" cy="271.15" rx="0.9" ry="1.0" fill="#d6eacb"/><ellipse cx="282.54" cy="273.59" rx="0.9" ry="1.0" fill="#d6eacb"/><ellipse cx="282.54" cy="276.04" rx="0.9" ry="1.0" fill="#d6eacb"/><ellipse cx="282.54" cy="278.48" rx="0.9" ry="1.0" fill="#d6eacb"/><ellipse cx="282.54" cy="280.93" rx="0.9" ry="1.0" fill="#d6eacb"/><ellipse cx="282.54" cy="283.37" rx="0.9" ry="1.0" fill="#d6eacb"/><ellipse cx="282.54" cy="285.82" rx="0.9" ry="1.0" fill="#d6eacb"/><ellipse cx="282.54" cy="288.26" rx="0.9" ry="1.0" fill="#d6eacb"/><ellipse cx="282.54" cy="290.71" rx="0.9" ry="1.0" fill="#d6eacb"/><ellipse cx="282.54" cy="293.15" rx="0.9" ry="1.0" fill="#d6eacb"/><ellipse cx="282.54" cy="295.6" rx="0.9" ry="1.0" fill="#d6eacb"/><rect x="287.62" y="269.2" width="3.51" height="23.9" fill="#86a874"/><use href="#me" x="289.38" y="269.2"/><use href="#me" x="289.38" y="271.59"/><use href="#me" x="289.38" y="273.98"/><use href="#me" x="289.38" y="276.37"/><use href="#me" x="289.38" y="278.76"/><use href="#me" x="289.38" y="281.15"/><use href="#me" x="289.38" y="283.54"/><use href="#me" x="289.38" y="285.93"/><use href="#me" x="289.38" y="288.32"/><use href="#me" x="289.38" y="290.71"/><use href="#me" x="289.38" y="293.1"/><ellipse cx="289.38" cy="269.2" rx="0.9" ry="1.0" fill="#d6eacb"/><ellipse cx="289.38" cy="271.59" rx="0.9" ry="1.0" fill="#d6eacb"/><ellipse cx="289.38" cy="273.98" rx="0.9" ry="1.0" fill="#d6eacb"/><ellipse cx="289.38" cy="276.37" rx="0.9" ry="1.0" fill="#d6eacb"/><ellipse cx="289.38" cy="278.76" rx="0.9" ry="1.0" fill="#d6eacb"/><ellipse cx="289.38" cy="281.15" rx="0.9" ry="1.0" fill="#d6eacb"/><ellipse cx="289.38" cy="283.54" rx="0.9" ry="1.0" fill="#d6eacb"/><ellipse cx="289.38" cy="285.93" rx="0.9" ry="1.0" fill="#d6eacb"/><ellipse cx="289.38" cy="288.32" rx="0.9" ry="1.0" fill="#d6eacb"/><ellipse cx="289.38" cy="290.71" rx="0.9" ry="1.0" fill="#d6eacb"/><ellipse cx="289.38" cy="293.1" rx="0.9" ry="1.0" fill="#d6eacb"/><rect x="294.47" y="265.4" width="3.51" height="23.6" fill="#86a874"/><use href="#me" x="296.22" y="265.4"/><use href="#me" x="296.22" y="268.02"/><use href="#me" x="296.22" y="270.64"/><use href="#me" x="296.22" y="273.27"/><use href="#me" x="296.22" y="275.89"/><use href="#me" x="296.22" y="278.51"/><use href="#me" x="296.22" y="281.13"/><use href="#me" x="296.22" y="283.76"/><use href="#me" x="296.22" y="286.38"/><use href="#me" x="296.22" y="289"/><ellipse cx="296.22" cy="265.4" rx="0.9" ry="1.0" fill="#d6eacb"/><ellipse cx="296.22" cy="268.02" rx="0.9" ry="1.0" fill="#d6eacb"/><ellipse cx="296.22" cy="270.64" rx="0.9" ry="1.0" fill="#d6eacb"/><ellipse cx="296.22" cy="273.27" rx="0.9" ry="1.0" fill="#d6eacb"/><ellipse cx="296.22" cy="275.89" rx="0.9" ry="1.0" fill="#d6eacb"/><ellipse cx="296.22" cy="278.51" rx="0.9" ry="1.0" fill="#d6eacb"/><ellipse cx="296.22" cy="281.13" rx="0.9" ry="1.0" fill="#d6eacb"/><ellipse cx="296.22" cy="283.76" rx="0.9" ry="1.0" fill="#d6eacb"/><ellipse cx="296.22" cy="286.38" rx="0.9" ry="1.0" fill="#d6eacb"/><ellipse cx="296.22" cy="289" rx="0.9" ry="1.0" fill="#d6eacb"/><rect x="301.31" y="257.2" width="3.51" height="27.7" fill="#86a874"/><use href="#me" x="303.06" y="257.2"/><use href="#me" x="303.06" y="259.72"/><use href="#me" x="303.06" y="262.24"/><use href="#me" x="303.06" y="264.75"/><use href="#me" x="303.06" y="267.27"/><use href="#me" x="303.06" y="269.79"/><use href="#me" x="303.06" y="272.31"/><use href="#me" x="303.06" y="274.83"/><use href="#me" x="303.06" y="277.35"/><use href="#me" x="303.06" y="279.86"/><use href="#me" x="303.06" y="282.38"/><use href="#me" x="303.06" y="284.9"/><ellipse cx="303.06" cy="257.2" rx="0.9" ry="1.0" fill="#d6eacb"/><ellipse cx="303.06" cy="259.72" rx="0.9" ry="1.0" fill="#d6eacb"/><ellipse cx="303.06" cy="262.24" rx="0.9" ry="1.0" fill="#d6eacb"/><ellipse cx="303.06" cy="264.75" rx="0.9" ry="1.0" fill="#d6eacb"/><ellipse cx="303.06" cy="267.27" rx="0.9" ry="1.0" fill="#d6eacb"/><ellipse cx="303.06" cy="269.79" rx="0.9" ry="1.0" fill="#d6eacb"/><ellipse cx="303.06" cy="272.31" rx="0.9" ry="1.0" fill="#d6eacb"/><ellipse cx="303.06" cy="274.83" rx="0.9" ry="1.0" fill="#d6eacb"/><ellipse cx="303.06" cy="277.35" rx="0.9" ry="1.0" fill="#d6eacb"/><ellipse cx="303.06" cy="279.86" rx="0.9" ry="1.0" fill="#d6eacb"/><ellipse cx="303.06" cy="282.38" rx="0.9" ry="1.0" fill="#d6eacb"/><ellipse cx="303.06" cy="284.9" rx="0.9" ry="1.0" fill="#d6eacb"/><rect x="308.15" y="256.1" width="3.51" height="19.8" fill="#86a874"/><use href="#me" x="309.9" y="256.1"/><use href="#me" x="309.9" y="258.58"/><use href="#me" x="309.9" y="261.05"/><use href="#me" x="309.9" y="263.52"/><use href="#me" x="309.9" y="266"/><use href="#me" x="309.9" y="268.48"/><use href="#me" x="309.9" y="270.95"/><use href="#me" x="309.9" y="273.42"/><use href="#me" x="309.9" y="275.9"/><ellipse cx="309.9" cy="256.1" rx="0.9" ry="1.0" fill="#d6eacb"/><ellipse cx="309.9" cy="258.58" rx="0.9" ry="1.0" fill="#d6eacb"/><ellipse cx="309.9" cy="261.05" rx="0.9" ry="1.0" fill="#d6eacb"/><ellipse cx="309.9" cy="263.52" rx="0.9" ry="1.0" fill="#d6eacb"/><ellipse cx="309.9" cy="266" rx="0.9" ry="1.0" fill="#d6eacb"/><ellipse cx="309.9" cy="268.48" rx="0.9" ry="1.0" fill="#d6eacb"/><ellipse cx="309.9" cy="270.95" rx="0.9" ry="1.0" fill="#d6eacb"/><ellipse cx="309.9" cy="273.42" rx="0.9" ry="1.0" fill="#d6eacb"/><ellipse cx="309.9" cy="275.9" rx="0.9" ry="1.0" fill="#d6eacb"/><use href="#meo" x="316.74" y="241.2"/><rect x="314.99" y="249" width="3.51" height="23.7" fill="#86a874"/><use href="#me" x="316.74" y="249"/><use href="#me" x="316.74" y="251.63"/><use href="#me" x="316.74" y="254.27"/><use href="#me" x="316.74" y="256.9"/><use href="#me" x="316.74" y="259.53"/><use href="#me" x="316.74" y="262.17"/><use href="#me" x="316.74" y="264.8"/><use href="#me" x="316.74" y="267.43"/><use href="#me" x="316.74" y="270.07"/><use href="#me" x="316.74" y="272.7"/><ellipse cx="316.74" cy="249" rx="0.9" ry="1.0" fill="#d6eacb"/><ellipse cx="316.74" cy="251.63" rx="0.9" ry="1.0" fill="#d6eacb"/><ellipse cx="316.74" cy="254.27" rx="0.9" ry="1.0" fill="#d6eacb"/><ellipse cx="316.74" cy="256.9" rx="0.9" ry="1.0" fill="#d6eacb"/><ellipse cx="316.74" cy="259.53" rx="0.9" ry="1.0" fill="#d6eacb"/><ellipse cx="316.74" cy="262.17" rx="0.9" ry="1.0" fill="#d6eacb"/><ellipse cx="316.74" cy="264.8" rx="0.9" ry="1.0" fill="#d6eacb"/><ellipse cx="316.74" cy="267.43" rx="0.9" ry="1.0" fill="#d6eacb"/><ellipse cx="316.74" cy="270.07" rx="0.9" ry="1.0" fill="#d6eacb"/><ellipse cx="316.74" cy="272.7" rx="0.9" ry="1.0" fill="#d6eacb"/><rect x="321.83" y="245.8" width="3.51" height="17.9" fill="#86a874"/><use href="#me" x="323.58" y="245.8"/><use href="#me" x="323.58" y="248.36"/><use href="#me" x="323.58" y="250.91"/><use href="#me" x="323.58" y="253.47"/><use href="#me" x="323.58" y="256.03"/><use href="#me" x="323.58" y="258.59"/><use href="#me" x="323.58" y="261.14"/><use href="#me" x="323.58" y="263.7"/><ellipse cx="323.58" cy="245.8" rx="0.9" ry="1.0" fill="#d6eacb"/><ellipse cx="323.58" cy="248.36" rx="0.9" ry="1.0" fill="#d6eacb"/><ellipse cx="323.58" cy="250.91" rx="0.9" ry="1.0" fill="#d6eacb"/><ellipse cx="323.58" cy="253.47" rx="0.9" ry="1.0" fill="#d6eacb"/><ellipse cx="323.58" cy="256.03" rx="0.9" ry="1.0" fill="#d6eacb"/><ellipse cx="323.58" cy="258.59" rx="0.9" ry="1.0" fill="#d6eacb"/><ellipse cx="323.58" cy="261.14" rx="0.9" ry="1.0" fill="#d6eacb"/><ellipse cx="323.58" cy="263.7" rx="0.9" ry="1.0" fill="#d6eacb"/><rect x="328.67" y="235.9" width="3.51" height="15.5" fill="#86a874"/><use href="#me" x="330.42" y="235.9"/><use href="#me" x="330.42" y="238.48"/><use href="#me" x="330.42" y="241.07"/><use href="#me" x="330.42" y="243.65"/><use href="#me" x="330.42" y="246.23"/><use href="#me" x="330.42" y="248.82"/><use href="#me" x="330.42" y="251.4"/><ellipse cx="330.42" cy="235.9" rx="0.9" ry="1.0" fill="#d6eacb"/><ellipse cx="330.42" cy="238.48" rx="0.9" ry="1.0" fill="#d6eacb"/><ellipse cx="330.42" cy="241.07" rx="0.9" ry="1.0" fill="#d6eacb"/><ellipse cx="330.42" cy="243.65" rx="0.9" ry="1.0" fill="#d6eacb"/><ellipse cx="330.42" cy="246.23" rx="0.9" ry="1.0" fill="#d6eacb"/><ellipse cx="330.42" cy="248.82" rx="0.9" ry="1.0" fill="#d6eacb"/><ellipse cx="330.42" cy="251.4" rx="0.9" ry="1.0" fill="#d6eacb"/><rect x="335.5" y="229.4" width="3.51" height="11.3" fill="#86a874"/><use href="#me" x="337.26" y="229.4"/><use href="#me" x="337.26" y="231.66"/><use href="#me" x="337.26" y="233.92"/><use href="#me" x="337.26" y="236.18"/><use href="#me" x="337.26" y="238.44"/><use href="#me" x="337.26" y="240.7"/><ellipse cx="337.26" cy="229.4" rx="0.9" ry="1.0" fill="#d6eacb"/><ellipse cx="337.26" cy="231.66" rx="0.9" ry="1.0" fill="#d6eacb"/><ellipse cx="337.26" cy="233.92" rx="0.9" ry="1.0" fill="#d6eacb"/><ellipse cx="337.26" cy="236.18" rx="0.9" ry="1.0" fill="#d6eacb"/><ellipse cx="337.26" cy="238.44" rx="0.9" ry="1.0" fill="#d6eacb"/><ellipse cx="337.26" cy="240.7" rx="0.9" ry="1.0" fill="#d6eacb"/></g><ellipse cx="214.14" cy="259.8" rx="2.2" ry="2.64" fill="#fff"/><circle cx="214.14" cy="259.8" r="1.35" fill="#000"/><ellipse cx="220.98" cy="263.8" rx="2.2" ry="2.64" fill="#fff"/><circle cx="220.98" cy="263.8" r="1.35" fill="#000"/><ellipse cx="227.82" cy="271.1" rx="2.2" ry="2.64" fill="#fff"/><circle cx="227.82" cy="271.1" r="1.35" fill="#000"/><ellipse cx="234.66" cy="273.8" rx="2.2" ry="2.64" fill="#fff"/><circle cx="234.66" cy="273.8" r="1.35" fill="#000"/><ellipse cx="241.5" cy="279" rx="2.2" ry="2.64" fill="#fff"/><circle cx="241.5" cy="279" r="1.35" fill="#000"/><ellipse cx="248.34" cy="280" rx="2.2" ry="2.64" fill="#fff"/><circle cx="248.34" cy="280" r="1.35" fill="#000"/><ellipse cx="255.18" cy="280.8" rx="2.2" ry="2.64" fill="#fff"/><circle cx="255.18" cy="280.8" r="1.35" fill="#000"/><ellipse cx="262.02" cy="283.2" rx="2.2" ry="2.64" fill="#fff"/><circle cx="262.02" cy="283.2" r="1.35" fill="#000"/><ellipse cx="268.86" cy="282.5" rx="2.2" ry="2.64" fill="#fff"/><circle cx="268.86" cy="282.5" r="1.35" fill="#000"/><ellipse cx="275.7" cy="281.8" rx="2.2" ry="2.64" fill="#fff"/><circle cx="275.7" cy="281.8" r="1.35" fill="#000"/><ellipse cx="282.54" cy="281.8" rx="2.2" ry="2.64" fill="#fff"/><circle cx="282.54" cy="281.8" r="1.35" fill="#000"/><ellipse cx="289.38" cy="278.9" rx="2.2" ry="2.64" fill="#fff"/><circle cx="289.38" cy="278.9" r="1.35" fill="#000"/><ellipse cx="296.22" cy="275.9" rx="2.2" ry="2.64" fill="#fff"/><circle cx="296.22" cy="275.9" r="1.35" fill="#000"/><ellipse cx="303.06" cy="272" rx="2.2" ry="2.64" fill="#fff"/><circle cx="303.06" cy="272" r="1.35" fill="#000"/><ellipse cx="309.9" cy="267.7" rx="2.2" ry="2.64" fill="#fff"/><circle cx="309.9" cy="267.7" r="1.35" fill="#000"/><ellipse cx="316.74" cy="260.8" rx="2.2" ry="2.64" fill="#fff"/><circle cx="316.74" cy="260.8" r="1.35" fill="#000"/><ellipse cx="323.58" cy="254" rx="2.2" ry="2.64" fill="#fff"/><circle cx="323.58" cy="254" r="1.35" fill="#000"/><ellipse cx="330.42" cy="243.7" rx="2.2" ry="2.64" fill="#fff"/><circle cx="330.42" cy="243.7" r="1.35" fill="#000"/><ellipse cx="337.26" cy="234.3" rx="2.2" ry="2.64" fill="#fff"/><circle cx="337.26" cy="234.3" r="1.35" fill="#000"/><rect x="207.5" y="208.7" width="136.8" height="139.6" fill="none" stroke="#a2a2a2" stroke-width="1.5"/><line x1="205.3" y1="208.5" x2="207.3" y2="208.5" stroke="#6a6a6a" stroke-width="0.9"/><text x="201" y="210.7" text-anchor="end">250</text><line x1="205.3" y1="228.44" x2="207.3" y2="228.44" stroke="#6a6a6a" stroke-width="0.9"/><text x="201" y="230.64" text-anchor="end">200</text><line x1="205.3" y1="248.39" x2="207.3" y2="248.39" stroke="#6a6a6a" stroke-width="0.9"/><text x="201" y="250.59" text-anchor="end">150</text><line x1="205.3" y1="268.33" x2="207.3" y2="268.33" stroke="#6a6a6a" stroke-width="0.9"/><text x="201" y="270.53" text-anchor="end">100</text><line x1="205.3" y1="288.27" x2="207.3" y2="288.27" stroke="#6a6a6a" stroke-width="0.9"/><text x="201" y="290.47" text-anchor="end">50</text><line x1="205.3" y1="308.21" x2="207.3" y2="308.21" stroke="#6a6a6a" stroke-width="0.9"/><text x="201" y="310.41" text-anchor="end">0</text><line x1="205.3" y1="328.16" x2="207.3" y2="328.16" stroke="#6a6a6a" stroke-width="0.9"/><text x="201" y="330.36" text-anchor="end">-50</text><line x1="205.3" y1="348.1" x2="207.3" y2="348.1" stroke="#6a6a6a" stroke-width="0.9"/><text x="201" y="350.3" text-anchor="end">-100</text><line x1="207.3" y1="348.1" x2="207.3" y2="350.1" stroke="#6a6a6a" stroke-width="0.9"/><text x="207.3" y="359" text-anchor="middle">0</text><line x1="234.66" y1="348.1" x2="234.66" y2="350.1" stroke="#6a6a6a" stroke-width="0.9"/><text x="234.66" y="359" text-anchor="middle">20</text><line x1="262.02" y1="348.1" x2="262.02" y2="350.1" stroke="#6a6a6a" stroke-width="0.9"/><text x="262.02" y="359" text-anchor="middle">40</text><line x1="289.38" y1="348.1" x2="289.38" y2="350.1" stroke="#6a6a6a" stroke-width="0.9"/><text x="289.38" y="359" text-anchor="middle">60</text><line x1="316.74" y1="348.1" x2="316.74" y2="350.1" stroke="#6a6a6a" stroke-width="0.9"/><text x="316.74" y="359" text-anchor="middle">80</text><line x1="344.1" y1="348.1" x2="344.1" y2="350.1" stroke="#6a6a6a" stroke-width="0.9"/><text x="344.1" y="359" text-anchor="middle">100</text><text x="223.2" y="217.7">Ni-Cr : 4,320 atoms system</text><text x="277.2" y="368.8" text-anchor="middle">Cr Conc (%)</text><text transform="translate(184.4,277.5) rotate(-90) scale(1.09)" text-anchor="middle">SFE (mJ/m<tspan font-size="5.5" dy="-3">2</tspan><tspan dy="3">)</tspan></text><text x="190.3" y="197.5">e)</text></g>
<g><defs><path id="mf" d="M0,-2.7 L2.4,0 L0,2.7 L-2.4,0Z" fill="#e6cc7c" stroke="#6e6542" stroke-width="0.8"/><path id="mfo" d="M0,-2.7 L2.4,0 L0,2.7 L-2.4,0Z" fill="#e6cc7c" stroke="#6e6542" stroke-width="0.8"/></defs><g style="filter:blur(0.35px)"><use href="#mf" x="387.03" y="262.1"/><use href="#mf" x="387.03" y="262.1"/><use href="#mf" x="393.86" y="267.4"/><use href="#mf" x="393.86" y="267.8"/><use href="#mf" x="400.69" y="271.1"/><use href="#mf" x="400.69" y="273"/><use href="#mf" x="407.52" y="275.1"/><use href="#mf" x="407.52" y="276.35"/><use href="#mf" x="407.52" y="277.6"/><use href="#mf" x="414.35" y="277.2"/><use href="#mf" x="414.35" y="279.05"/><use href="#mf" x="414.35" y="280.9"/><use href="#mf" x="421.18" y="278.8"/><use href="#mf" x="421.18" y="280.8"/><use href="#mf" x="421.18" y="282.8"/><use href="#mf" x="428.01" y="280"/><use href="#mf" x="428.01" y="281.37"/><use href="#mf" x="428.01" y="282.73"/><use href="#mf" x="428.01" y="284.1"/><use href="#mf" x="434.84" y="281"/><use href="#mf" x="434.84" y="282.7"/><use href="#mf" x="434.84" y="284.4"/><use href="#mf" x="434.84" y="286.1"/><use href="#mf" x="441.67" y="281.6"/><use href="#mf" x="441.67" y="283"/><use href="#mf" x="441.67" y="284.4"/><use href="#mf" x="441.67" y="285.8"/><use href="#mf" x="448.5" y="281.4"/><use href="#mf" x="448.5" y="282.95"/><use href="#mf" x="448.5" y="284.5"/><use href="#mf" x="455.33" y="279.7"/><use href="#mf" x="455.33" y="281.7"/><use href="#mf" x="455.33" y="283.7"/><use href="#mf" x="462.16" y="278.1"/><use href="#mf" x="462.16" y="279.7"/><use href="#mf" x="462.16" y="281.3"/><use href="#mf" x="468.99" y="275.6"/><use href="#mf" x="468.99" y="277.2"/><use href="#mf" x="468.99" y="278.8"/><use href="#mf" x="475.82" y="271.9"/><use href="#mf" x="475.82" y="273.15"/><use href="#mf" x="475.82" y="274.4"/><use href="#mf" x="482.65" y="266.3"/><use href="#mf" x="482.65" y="267.65"/><use href="#mf" x="482.65" y="269"/><use href="#mf" x="489.48" y="259.7"/><use href="#mf" x="489.48" y="261.05"/><use href="#mf" x="489.48" y="262.4"/><use href="#mf" x="496.31" y="251.9"/><use href="#mf" x="496.31" y="253.1"/><use href="#mf" x="496.31" y="254.3"/><use href="#mf" x="503.14" y="242.9"/><use href="#mf" x="503.14" y="244.9"/><use href="#mf" x="509.97" y="232.5"/><use href="#mf" x="509.97" y="233"/></g><ellipse cx="387.03" cy="262.1" rx="1.8" ry="2.16" fill="#fff"/><circle cx="387.03" cy="262.1" r="1.3" fill="#000"/><ellipse cx="393.86" cy="267.3" rx="1.8" ry="2.16" fill="#fff"/><circle cx="393.86" cy="267.3" r="1.3" fill="#000"/><ellipse cx="400.69" cy="271.9" rx="1.8" ry="2.16" fill="#fff"/><circle cx="400.69" cy="271.9" r="1.3" fill="#000"/><ellipse cx="407.52" cy="276.3" rx="1.8" ry="2.16" fill="#fff"/><circle cx="407.52" cy="276.3" r="1.3" fill="#000"/><ellipse cx="414.35" cy="279.1" rx="1.8" ry="2.16" fill="#fff"/><circle cx="414.35" cy="279.1" r="1.3" fill="#000"/><ellipse cx="421.18" cy="280.8" rx="1.8" ry="2.16" fill="#fff"/><circle cx="421.18" cy="280.8" r="1.3" fill="#000"/><ellipse cx="428.01" cy="281.7" rx="1.8" ry="2.16" fill="#fff"/><circle cx="428.01" cy="281.7" r="1.3" fill="#000"/><ellipse cx="434.84" cy="283.4" rx="1.8" ry="2.16" fill="#fff"/><circle cx="434.84" cy="283.4" r="1.3" fill="#000"/><ellipse cx="441.67" cy="283.7" rx="1.8" ry="2.16" fill="#fff"/><circle cx="441.67" cy="283.7" r="1.3" fill="#000"/><ellipse cx="448.5" cy="283.2" rx="1.8" ry="2.16" fill="#fff"/><circle cx="448.5" cy="283.2" r="1.3" fill="#000"/><ellipse cx="455.33" cy="281.3" rx="1.8" ry="2.16" fill="#fff"/><circle cx="455.33" cy="281.3" r="1.3" fill="#000"/><ellipse cx="462.16" cy="279.7" rx="1.8" ry="2.16" fill="#fff"/><circle cx="462.16" cy="279.7" r="1.3" fill="#000"/><ellipse cx="468.99" cy="277.2" rx="1.8" ry="2.16" fill="#fff"/><circle cx="468.99" cy="277.2" r="1.3" fill="#000"/><ellipse cx="475.82" cy="273.1" rx="1.8" ry="2.16" fill="#fff"/><circle cx="475.82" cy="273.1" r="1.3" fill="#000"/><ellipse cx="482.65" cy="267.7" rx="1.8" ry="2.16" fill="#fff"/><circle cx="482.65" cy="267.7" r="1.3" fill="#000"/><ellipse cx="489.48" cy="260.8" rx="1.8" ry="2.16" fill="#fff"/><circle cx="489.48" cy="260.8" r="1.3" fill="#000"/><ellipse cx="496.31" cy="253.5" rx="1.8" ry="2.16" fill="#fff"/><circle cx="496.31" cy="253.5" r="1.3" fill="#000"/><ellipse cx="503.14" cy="244.1" rx="1.8" ry="2.16" fill="#fff"/><circle cx="503.14" cy="244.1" r="1.3" fill="#000"/><ellipse cx="509.97" cy="232.7" rx="1.8" ry="2.16" fill="#fff"/><circle cx="509.97" cy="232.7" r="1.3" fill="#000"/><rect x="380.4" y="208.8" width="136.6" height="139.7" fill="none" stroke="#a2a2a2" stroke-width="1.5"/><line x1="378.2" y1="208.6" x2="380.2" y2="208.6" stroke="#6a6a6a" stroke-width="0.9"/><text x="373.9" y="210.8" text-anchor="end">250</text><line x1="378.2" y1="228.56" x2="380.2" y2="228.56" stroke="#6a6a6a" stroke-width="0.9"/><text x="373.9" y="230.76" text-anchor="end">200</text><line x1="378.2" y1="248.51" x2="380.2" y2="248.51" stroke="#6a6a6a" stroke-width="0.9"/><text x="373.9" y="250.71" text-anchor="end">150</text><line x1="378.2" y1="268.47" x2="380.2" y2="268.47" stroke="#6a6a6a" stroke-width="0.9"/><text x="373.9" y="270.67" text-anchor="end">100</text><line x1="378.2" y1="288.43" x2="380.2" y2="288.43" stroke="#6a6a6a" stroke-width="0.9"/><text x="373.9" y="290.63" text-anchor="end">50</text><line x1="378.2" y1="308.39" x2="380.2" y2="308.39" stroke="#6a6a6a" stroke-width="0.9"/><text x="373.9" y="310.59" text-anchor="end">0</text><line x1="378.2" y1="328.34" x2="380.2" y2="328.34" stroke="#6a6a6a" stroke-width="0.9"/><text x="373.9" y="330.54" text-anchor="end">-50</text><line x1="378.2" y1="348.3" x2="380.2" y2="348.3" stroke="#6a6a6a" stroke-width="0.9"/><text x="373.9" y="350.5" text-anchor="end">-100</text><line x1="380.2" y1="348.3" x2="380.2" y2="350.3" stroke="#6a6a6a" stroke-width="0.9"/><text x="380.2" y="359.2" text-anchor="middle">0</text><line x1="407.52" y1="348.3" x2="407.52" y2="350.3" stroke="#6a6a6a" stroke-width="0.9"/><text x="407.52" y="359.2" text-anchor="middle">20</text><line x1="434.84" y1="348.3" x2="434.84" y2="350.3" stroke="#6a6a6a" stroke-width="0.9"/><text x="434.84" y="359.2" text-anchor="middle">40</text><line x1="462.16" y1="348.3" x2="462.16" y2="350.3" stroke="#6a6a6a" stroke-width="0.9"/><text x="462.16" y="359.2" text-anchor="middle">60</text><line x1="489.48" y1="348.3" x2="489.48" y2="350.3" stroke="#6a6a6a" stroke-width="0.9"/><text x="489.48" y="359.2" text-anchor="middle">80</text><line x1="516.8" y1="348.3" x2="516.8" y2="350.3" stroke="#6a6a6a" stroke-width="0.9"/><text x="516.8" y="359.2" text-anchor="middle">100</text><text x="391.2" y="218">Ni-Cr : 108,000 atoms system</text><text x="450.2" y="368.9" text-anchor="middle">Cr Conc (%)</text><text transform="translate(358.8,277.2) rotate(-90) scale(1.05)" text-anchor="middle">SFE (mJ/m<tspan font-size="5.5" dy="-3">2</tspan><tspan dy="3">)</tspan></text><text x="362.4" y="198">f)</text></g>
<g><defs><path id="mg" d="M0,-2.3 L1.95,0 L0,2.3 L-1.95,0Z" fill="#dda987" stroke="#9c7c6a" stroke-width="0.8"/><path id="mgo" d="M0,-2.3 L1.95,0 L0,2.3 L-1.95,0Z" fill="#f6e2d6" stroke="#d3a58d" stroke-width="0.8"/></defs><g style="filter:blur(0.35px)"><rect x="42.27" y="451.1" width="3.51" height="10.3" fill="#b98365"/><use href="#mg" x="44.02" y="451.1"/><use href="#mg" x="44.02" y="453.68"/><use href="#mg" x="44.02" y="456.25"/><use href="#mg" x="44.02" y="458.82"/><use href="#mg" x="44.02" y="461.4"/><ellipse cx="44.02" cy="451.1" rx="0.9" ry="1.0" fill="#efcab2"/><ellipse cx="44.02" cy="453.68" rx="0.9" ry="1.0" fill="#efcab2"/><ellipse cx="44.02" cy="456.25" rx="0.9" ry="1.0" fill="#efcab2"/><ellipse cx="44.02" cy="458.82" rx="0.9" ry="1.0" fill="#efcab2"/><ellipse cx="44.02" cy="461.4" rx="0.9" ry="1.0" fill="#efcab2"/><use href="#mgo" x="50.75" y="452.6"/><use href="#mgo" x="50.75" y="483.2"/><use href="#mgo" x="50.75" y="486.1"/><rect x="48.99" y="459.6" width="3.51" height="17.6" fill="#b98365"/><use href="#mg" x="50.75" y="459.6"/><use href="#mg" x="50.75" y="462.11"/><use href="#mg" x="50.75" y="464.63"/><use href="#mg" x="50.75" y="467.14"/><use href="#mg" x="50.75" y="469.66"/><use href="#mg" x="50.75" y="472.17"/><use href="#mg" x="50.75" y="474.69"/><use href="#mg" x="50.75" y="477.2"/><ellipse cx="50.75" cy="459.6" rx="0.9" ry="1.0" fill="#efcab2"/><ellipse cx="50.75" cy="462.11" rx="0.9" ry="1.0" fill="#efcab2"/><ellipse cx="50.75" cy="464.63" rx="0.9" ry="1.0" fill="#efcab2"/><ellipse cx="50.75" cy="467.14" rx="0.9" ry="1.0" fill="#efcab2"/><ellipse cx="50.75" cy="469.66" rx="0.9" ry="1.0" fill="#efcab2"/><ellipse cx="50.75" cy="472.17" rx="0.9" ry="1.0" fill="#efcab2"/><ellipse cx="50.75" cy="474.69" rx="0.9" ry="1.0" fill="#efcab2"/><ellipse cx="50.75" cy="477.2" rx="0.9" ry="1.0" fill="#efcab2"/><use href="#mgo" x="57.47" y="429.5"/><use href="#mgo" x="57.47" y="472.7"/><rect x="55.72" y="435.3" width="3.51" height="30.6" fill="#b98365"/><use href="#mg" x="57.47" y="435.3"/><use href="#mg" x="57.47" y="437.85"/><use href="#mg" x="57.47" y="440.4"/><use href="#mg" x="57.47" y="442.95"/><use href="#mg" x="57.47" y="445.5"/><use href="#mg" x="57.47" y="448.05"/><use href="#mg" x="57.47" y="450.6"/><use href="#mg" x="57.47" y="453.15"/><use href="#mg" x="57.47" y="455.7"/><use href="#mg" x="57.47" y="458.25"/><use href="#mg" x="57.47" y="460.8"/><use href="#mg" x="57.47" y="463.35"/><use href="#mg" x="57.47" y="465.9"/><ellipse cx="57.47" cy="435.3" rx="0.9" ry="1.0" fill="#efcab2"/><ellipse cx="57.47" cy="437.85" rx="0.9" ry="1.0" fill="#efcab2"/><ellipse cx="57.47" cy="440.4" rx="0.9" ry="1.0" fill="#efcab2"/><ellipse cx="57.47" cy="442.95" rx="0.9" ry="1.0" fill="#efcab2"/><ellipse cx="57.47" cy="445.5" rx="0.9" ry="1.0" fill="#efcab2"/><ellipse cx="57.47" cy="448.05" rx="0.9" ry="1.0" fill="#efcab2"/><ellipse cx="57.47" cy="450.6" rx="0.9" ry="1.0" fill="#efcab2"/><ellipse cx="57.47" cy="453.15" rx="0.9" ry="1.0" fill="#efcab2"/><ellipse cx="57.47" cy="455.7" rx="0.9" ry="1.0" fill="#efcab2"/><ellipse cx="57.47" cy="458.25" rx="0.9" ry="1.0" fill="#efcab2"/><ellipse cx="57.47" cy="460.8" rx="0.9" ry="1.0" fill="#efcab2"/><ellipse cx="57.47" cy="463.35" rx="0.9" ry="1.0" fill="#efcab2"/><ellipse cx="57.47" cy="465.9" rx="0.9" ry="1.0" fill="#efcab2"/><use href="#mgo" x="64.2" y="440.5"/><use href="#mgo" x="64.2" y="486.5"/><rect x="62.45" y="446.5" width="3.51" height="34.6" fill="#b98365"/><use href="#mg" x="64.2" y="446.5"/><use href="#mg" x="64.2" y="448.97"/><use href="#mg" x="64.2" y="451.44"/><use href="#mg" x="64.2" y="453.91"/><use href="#mg" x="64.2" y="456.39"/><use href="#mg" x="64.2" y="458.86"/><use href="#mg" x="64.2" y="461.33"/><use href="#mg" x="64.2" y="463.8"/><use href="#mg" x="64.2" y="466.27"/><use href="#mg" x="64.2" y="468.74"/><use href="#mg" x="64.2" y="471.21"/><use href="#mg" x="64.2" y="473.69"/><use href="#mg" x="64.2" y="476.16"/><use href="#mg" x="64.2" y="478.63"/><use href="#mg" x="64.2" y="481.1"/><ellipse cx="64.2" cy="446.5" rx="0.9" ry="1.0" fill="#efcab2"/><ellipse cx="64.2" cy="448.97" rx="0.9" ry="1.0" fill="#efcab2"/><ellipse cx="64.2" cy="451.44" rx="0.9" ry="1.0" fill="#efcab2"/><ellipse cx="64.2" cy="453.91" rx="0.9" ry="1.0" fill="#efcab2"/><ellipse cx="64.2" cy="456.39" rx="0.9" ry="1.0" fill="#efcab2"/><ellipse cx="64.2" cy="458.86" rx="0.9" ry="1.0" fill="#efcab2"/><ellipse cx="64.2" cy="461.33" rx="0.9" ry="1.0" fill="#efcab2"/><ellipse cx="64.2" cy="463.8" rx="0.9" ry="1.0" fill="#efcab2"/><ellipse cx="64.2" cy="466.27" rx="0.9" ry="1.0" fill="#efcab2"/><ellipse cx="64.2" cy="468.74" rx="0.9" ry="1.0" fill="#efcab2"/><ellipse cx="64.2" cy="471.21" rx="0.9" ry="1.0" fill="#efcab2"/><ellipse cx="64.2" cy="473.69" rx="0.9" ry="1.0" fill="#efcab2"/><ellipse cx="64.2" cy="476.16" rx="0.9" ry="1.0" fill="#efcab2"/><ellipse cx="64.2" cy="478.63" rx="0.9" ry="1.0" fill="#efcab2"/><ellipse cx="64.2" cy="481.1" rx="0.9" ry="1.0" fill="#efcab2"/><use href="#mgo" x="70.92" y="492.5"/><use href="#mgo" x="70.92" y="497.1"/><rect x="69.17" y="444.6" width="3.51" height="41.8" fill="#b98365"/><use href="#mg" x="70.92" y="444.6"/><use href="#mg" x="70.92" y="447.06"/><use href="#mg" x="70.92" y="449.52"/><use href="#mg" x="70.92" y="451.98"/><use href="#mg" x="70.92" y="454.44"/><use href="#mg" x="70.92" y="456.89"/><use href="#mg" x="70.92" y="459.35"/><use href="#mg" x="70.92" y="461.81"/><use href="#mg" x="70.92" y="464.27"/><use href="#mg" x="70.92" y="466.73"/><use href="#mg" x="70.92" y="469.19"/><use href="#mg" x="70.92" y="471.65"/><use href="#mg" x="70.92" y="474.11"/><use href="#mg" x="70.92" y="476.56"/><use href="#mg" x="70.92" y="479.02"/><use href="#mg" x="70.92" y="481.48"/><use href="#mg" x="70.92" y="483.94"/><use href="#mg" x="70.92" y="486.4"/><ellipse cx="70.92" cy="444.6" rx="0.9" ry="1.0" fill="#efcab2"/><ellipse cx="70.92" cy="447.06" rx="0.9" ry="1.0" fill="#efcab2"/><ellipse cx="70.92" cy="449.52" rx="0.9" ry="1.0" fill="#efcab2"/><ellipse cx="70.92" cy="451.98" rx="0.9" ry="1.0" fill="#efcab2"/><ellipse cx="70.92" cy="454.44" rx="0.9" ry="1.0" fill="#efcab2"/><ellipse cx="70.92" cy="456.89" rx="0.9" ry="1.0" fill="#efcab2"/><ellipse cx="70.92" cy="459.35" rx="0.9" ry="1.0" fill="#efcab2"/><ellipse cx="70.92" cy="461.81" rx="0.9" ry="1.0" fill="#efcab2"/><ellipse cx="70.92" cy="464.27" rx="0.9" ry="1.0" fill="#efcab2"/><ellipse cx="70.92" cy="466.73" rx="0.9" ry="1.0" fill="#efcab2"/><ellipse cx="70.92" cy="469.19" rx="0.9" ry="1.0" fill="#efcab2"/><ellipse cx="70.92" cy="471.65" rx="0.9" ry="1.0" fill="#efcab2"/><ellipse cx="70.92" cy="474.11" rx="0.9" ry="1.0" fill="#efcab2"/><ellipse cx="70.92" cy="476.56" rx="0.9" ry="1.0" fill="#efcab2"/><ellipse cx="70.92" cy="479.02" rx="0.9" ry="1.0" fill="#efcab2"/><ellipse cx="70.92" cy="481.48" rx="0.9" ry="1.0" fill="#efcab2"/><ellipse cx="70.92" cy="483.94" rx="0.9" ry="1.0" fill="#efcab2"/><ellipse cx="70.92" cy="486.4" rx="0.9" ry="1.0" fill="#efcab2"/><use href="#mgo" x="77.65" y="491.8"/><rect x="75.9" y="432.7" width="3.51" height="51.1" fill="#b98365"/><use href="#mg" x="77.65" y="432.7"/><use href="#mg" x="77.65" y="435.26"/><use href="#mg" x="77.65" y="437.81"/><use href="#mg" x="77.65" y="440.37"/><use href="#mg" x="77.65" y="442.92"/><use href="#mg" x="77.65" y="445.48"/><use href="#mg" x="77.65" y="448.03"/><use href="#mg" x="77.65" y="450.59"/><use href="#mg" x="77.65" y="453.14"/><use href="#mg" x="77.65" y="455.69"/><use href="#mg" x="77.65" y="458.25"/><use href="#mg" x="77.65" y="460.81"/><use href="#mg" x="77.65" y="463.36"/><use href="#mg" x="77.65" y="465.91"/><use href="#mg" x="77.65" y="468.47"/><use href="#mg" x="77.65" y="471.02"/><use href="#mg" x="77.65" y="473.58"/><use href="#mg" x="77.65" y="476.13"/><use href="#mg" x="77.65" y="478.69"/><use href="#mg" x="77.65" y="481.24"/><use href="#mg" x="77.65" y="483.8"/><ellipse cx="77.65" cy="432.7" rx="0.9" ry="1.0" fill="#efcab2"/><ellipse cx="77.65" cy="435.26" rx="0.9" ry="1.0" fill="#efcab2"/><ellipse cx="77.65" cy="437.81" rx="0.9" ry="1.0" fill="#efcab2"/><ellipse cx="77.65" cy="440.37" rx="0.9" ry="1.0" fill="#efcab2"/><ellipse cx="77.65" cy="442.92" rx="0.9" ry="1.0" fill="#efcab2"/><ellipse cx="77.65" cy="445.48" rx="0.9" ry="1.0" fill="#efcab2"/><ellipse cx="77.65" cy="448.03" rx="0.9" ry="1.0" fill="#efcab2"/><ellipse cx="77.65" cy="450.59" rx="0.9" ry="1.0" fill="#efcab2"/><ellipse cx="77.65" cy="453.14" rx="0.9" ry="1.0" fill="#efcab2"/><ellipse cx="77.65" cy="455.69" rx="0.9" ry="1.0" fill="#efcab2"/><ellipse cx="77.65" cy="458.25" rx="0.9" ry="1.0" fill="#efcab2"/><ellipse cx="77.65" cy="460.81" rx="0.9" ry="1.0" fill="#efcab2"/><ellipse cx="77.65" cy="463.36" rx="0.9" ry="1.0" fill="#efcab2"/><ellipse cx="77.65" cy="465.91" rx="0.9" ry="1.0" fill="#efcab2"/><ellipse cx="77.65" cy="468.47" rx="0.9" ry="1.0" fill="#efcab2"/><ellipse cx="77.65" cy="471.02" rx="0.9" ry="1.0" fill="#efcab2"/><ellipse cx="77.65" cy="473.58" rx="0.9" ry="1.0" fill="#efcab2"/><ellipse cx="77.65" cy="476.13" rx="0.9" ry="1.0" fill="#efcab2"/><ellipse cx="77.65" cy="478.69" rx="0.9" ry="1.0" fill="#efcab2"/><ellipse cx="77.65" cy="481.24" rx="0.9" ry="1.0" fill="#efcab2"/><ellipse cx="77.65" cy="483.8" rx="0.9" ry="1.0" fill="#efcab2"/><use href="#mgo" x="84.38" y="428.6"/><use href="#mgo" x="84.38" y="433.9"/><use href="#mgo" x="84.38" y="493.8"/><rect x="82.62" y="440.6" width="3.51" height="47.1" fill="#b98365"/><use href="#mg" x="84.38" y="440.6"/><use href="#mg" x="84.38" y="443.08"/><use href="#mg" x="84.38" y="445.56"/><use href="#mg" x="84.38" y="448.04"/><use href="#mg" x="84.38" y="450.52"/><use href="#mg" x="84.38" y="452.99"/><use href="#mg" x="84.38" y="455.47"/><use href="#mg" x="84.38" y="457.95"/><use href="#mg" x="84.38" y="460.43"/><use href="#mg" x="84.38" y="462.91"/><use href="#mg" x="84.38" y="465.39"/><use href="#mg" x="84.38" y="467.87"/><use href="#mg" x="84.38" y="470.35"/><use href="#mg" x="84.38" y="472.83"/><use href="#mg" x="84.38" y="475.31"/><use href="#mg" x="84.38" y="477.78"/><use href="#mg" x="84.38" y="480.26"/><use href="#mg" x="84.38" y="482.74"/><use href="#mg" x="84.38" y="485.22"/><use href="#mg" x="84.38" y="487.7"/><ellipse cx="84.38" cy="440.6" rx="0.9" ry="1.0" fill="#efcab2"/><ellipse cx="84.38" cy="443.08" rx="0.9" ry="1.0" fill="#efcab2"/><ellipse cx="84.38" cy="445.56" rx="0.9" ry="1.0" fill="#efcab2"/><ellipse cx="84.38" cy="448.04" rx="0.9" ry="1.0" fill="#efcab2"/><ellipse cx="84.38" cy="450.52" rx="0.9" ry="1.0" fill="#efcab2"/><ellipse cx="84.38" cy="452.99" rx="0.9" ry="1.0" fill="#efcab2"/><ellipse cx="84.38" cy="455.47" rx="0.9" ry="1.0" fill="#efcab2"/><ellipse cx="84.38" cy="457.95" rx="0.9" ry="1.0" fill="#efcab2"/><ellipse cx="84.38" cy="460.43" rx="0.9" ry="1.0" fill="#efcab2"/><ellipse cx="84.38" cy="462.91" rx="0.9" ry="1.0" fill="#efcab2"/><ellipse cx="84.38" cy="465.39" rx="0.9" ry="1.0" fill="#efcab2"/><ellipse cx="84.38" cy="467.87" rx="0.9" ry="1.0" fill="#efcab2"/><ellipse cx="84.38" cy="470.35" rx="0.9" ry="1.0" fill="#efcab2"/><ellipse cx="84.38" cy="472.83" rx="0.9" ry="1.0" fill="#efcab2"/><ellipse cx="84.38" cy="475.31" rx="0.9" ry="1.0" fill="#efcab2"/><ellipse cx="84.38" cy="477.78" rx="0.9" ry="1.0" fill="#efcab2"/><ellipse cx="84.38" cy="480.26" rx="0.9" ry="1.0" fill="#efcab2"/><ellipse cx="84.38" cy="482.74" rx="0.9" ry="1.0" fill="#efcab2"/><ellipse cx="84.38" cy="485.22" rx="0.9" ry="1.0" fill="#efcab2"/><ellipse cx="84.38" cy="487.7" rx="0.9" ry="1.0" fill="#efcab2"/><use href="#mgo" x="91.1" y="484.5"/><use href="#mgo" x="91.1" y="489.2"/><rect x="89.34" y="427.4" width="3.51" height="48.5" fill="#b98365"/><use href="#mg" x="91.1" y="427.4"/><use href="#mg" x="91.1" y="429.95"/><use href="#mg" x="91.1" y="432.51"/><use href="#mg" x="91.1" y="435.06"/><use href="#mg" x="91.1" y="437.61"/><use href="#mg" x="91.1" y="440.16"/><use href="#mg" x="91.1" y="442.72"/><use href="#mg" x="91.1" y="445.27"/><use href="#mg" x="91.1" y="447.82"/><use href="#mg" x="91.1" y="450.37"/><use href="#mg" x="91.1" y="452.93"/><use href="#mg" x="91.1" y="455.48"/><use href="#mg" x="91.1" y="458.03"/><use href="#mg" x="91.1" y="460.58"/><use href="#mg" x="91.1" y="463.14"/><use href="#mg" x="91.1" y="465.69"/><use href="#mg" x="91.1" y="468.24"/><use href="#mg" x="91.1" y="470.79"/><use href="#mg" x="91.1" y="473.35"/><use href="#mg" x="91.1" y="475.9"/><ellipse cx="91.1" cy="427.4" rx="0.9" ry="1.0" fill="#efcab2"/><ellipse cx="91.1" cy="429.95" rx="0.9" ry="1.0" fill="#efcab2"/><ellipse cx="91.1" cy="432.51" rx="0.9" ry="1.0" fill="#efcab2"/><ellipse cx="91.1" cy="435.06" rx="0.9" ry="1.0" fill="#efcab2"/><ellipse cx="91.1" cy="437.61" rx="0.9" ry="1.0" fill="#efcab2"/><ellipse cx="91.1" cy="440.16" rx="0.9" ry="1.0" fill="#efcab2"/><ellipse cx="91.1" cy="442.72" rx="0.9" ry="1.0" fill="#efcab2"/><ellipse cx="91.1" cy="445.27" rx="0.9" ry="1.0" fill="#efcab2"/><ellipse cx="91.1" cy="447.82" rx="0.9" ry="1.0" fill="#efcab2"/><ellipse cx="91.1" cy="450.37" rx="0.9" ry="1.0" fill="#efcab2"/><ellipse cx="91.1" cy="452.93" rx="0.9" ry="1.0" fill="#efcab2"/><ellipse cx="91.1" cy="455.48" rx="0.9" ry="1.0" fill="#efcab2"/><ellipse cx="91.1" cy="458.03" rx="0.9" ry="1.0" fill="#efcab2"/><ellipse cx="91.1" cy="460.58" rx="0.9" ry="1.0" fill="#efcab2"/><ellipse cx="91.1" cy="463.14" rx="0.9" ry="1.0" fill="#efcab2"/><ellipse cx="91.1" cy="465.69" rx="0.9" ry="1.0" fill="#efcab2"/><ellipse cx="91.1" cy="468.24" rx="0.9" ry="1.0" fill="#efcab2"/><ellipse cx="91.1" cy="470.79" rx="0.9" ry="1.0" fill="#efcab2"/><ellipse cx="91.1" cy="473.35" rx="0.9" ry="1.0" fill="#efcab2"/><ellipse cx="91.1" cy="475.9" rx="0.9" ry="1.0" fill="#efcab2"/><use href="#mgo" x="97.82" y="505.6"/><rect x="96.07" y="428.1" width="3.51" height="63.6" fill="#b98365"/><use href="#mg" x="97.82" y="428.1"/><use href="#mg" x="97.82" y="430.64"/><use href="#mg" x="97.82" y="433.19"/><use href="#mg" x="97.82" y="435.73"/><use href="#mg" x="97.82" y="438.28"/><use href="#mg" x="97.82" y="440.82"/><use href="#mg" x="97.82" y="443.36"/><use href="#mg" x="97.82" y="445.91"/><use href="#mg" x="97.82" y="448.45"/><use href="#mg" x="97.82" y="451"/><use href="#mg" x="97.82" y="453.54"/><use href="#mg" x="97.82" y="456.08"/><use href="#mg" x="97.82" y="458.63"/><use href="#mg" x="97.82" y="461.17"/><use href="#mg" x="97.82" y="463.72"/><use href="#mg" x="97.82" y="466.26"/><use href="#mg" x="97.82" y="468.8"/><use href="#mg" x="97.82" y="471.35"/><use href="#mg" x="97.82" y="473.89"/><use href="#mg" x="97.82" y="476.44"/><use href="#mg" x="97.82" y="478.98"/><use href="#mg" x="97.82" y="481.52"/><use href="#mg" x="97.82" y="484.07"/><use href="#mg" x="97.82" y="486.61"/><use href="#mg" x="97.82" y="489.16"/><use href="#mg" x="97.82" y="491.7"/><ellipse cx="97.82" cy="428.1" rx="0.9" ry="1.0" fill="#efcab2"/><ellipse cx="97.82" cy="430.64" rx="0.9" ry="1.0" fill="#efcab2"/><ellipse cx="97.82" cy="433.19" rx="0.9" ry="1.0" fill="#efcab2"/><ellipse cx="97.82" cy="435.73" rx="0.9" ry="1.0" fill="#efcab2"/><ellipse cx="97.82" cy="438.28" rx="0.9" ry="1.0" fill="#efcab2"/><ellipse cx="97.82" cy="440.82" rx="0.9" ry="1.0" fill="#efcab2"/><ellipse cx="97.82" cy="443.36" rx="0.9" ry="1.0" fill="#efcab2"/><ellipse cx="97.82" cy="445.91" rx="0.9" ry="1.0" fill="#efcab2"/><ellipse cx="97.82" cy="448.45" rx="0.9" ry="1.0" fill="#efcab2"/><ellipse cx="97.82" cy="451" rx="0.9" ry="1.0" fill="#efcab2"/><ellipse cx="97.82" cy="453.54" rx="0.9" ry="1.0" fill="#efcab2"/><ellipse cx="97.82" cy="456.08" rx="0.9" ry="1.0" fill="#efcab2"/><ellipse cx="97.82" cy="458.63" rx="0.9" ry="1.0" fill="#efcab2"/><ellipse cx="97.82" cy="461.17" rx="0.9" ry="1.0" fill="#efcab2"/><ellipse cx="97.82" cy="463.72" rx="0.9" ry="1.0" fill="#efcab2"/><ellipse cx="97.82" cy="466.26" rx="0.9" ry="1.0" fill="#efcab2"/><ellipse cx="97.82" cy="468.8" rx="0.9" ry="1.0" fill="#efcab2"/><ellipse cx="97.82" cy="471.35" rx="0.9" ry="1.0" fill="#efcab2"/><ellipse cx="97.82" cy="473.89" rx="0.9" ry="1.0" fill="#efcab2"/><ellipse cx="97.82" cy="476.44" rx="0.9" ry="1.0" fill="#efcab2"/><ellipse cx="97.82" cy="478.98" rx="0.9" ry="1.0" fill="#efcab2"/><ellipse cx="97.82" cy="481.52" rx="0.9" ry="1.0" fill="#efcab2"/><ellipse cx="97.82" cy="484.07" rx="0.9" ry="1.0" fill="#efcab2"/><ellipse cx="97.82" cy="486.61" rx="0.9" ry="1.0" fill="#efcab2"/><ellipse cx="97.82" cy="489.16" rx="0.9" ry="1.0" fill="#efcab2"/><ellipse cx="97.82" cy="491.7" rx="0.9" ry="1.0" fill="#efcab2"/><use href="#mgo" x="104.55" y="501.3"/><rect x="102.8" y="428.3" width="3.51" height="59.6" fill="#b98365"/><use href="#mg" x="104.55" y="428.3"/><use href="#mg" x="104.55" y="430.78"/><use href="#mg" x="104.55" y="433.27"/><use href="#mg" x="104.55" y="435.75"/><use href="#mg" x="104.55" y="438.23"/><use href="#mg" x="104.55" y="440.72"/><use href="#mg" x="104.55" y="443.2"/><use href="#mg" x="104.55" y="445.68"/><use href="#mg" x="104.55" y="448.17"/><use href="#mg" x="104.55" y="450.65"/><use href="#mg" x="104.55" y="453.13"/><use href="#mg" x="104.55" y="455.62"/><use href="#mg" x="104.55" y="458.1"/><use href="#mg" x="104.55" y="460.58"/><use href="#mg" x="104.55" y="463.07"/><use href="#mg" x="104.55" y="465.55"/><use href="#mg" x="104.55" y="468.03"/><use href="#mg" x="104.55" y="470.52"/><use href="#mg" x="104.55" y="473"/><use href="#mg" x="104.55" y="475.48"/><use href="#mg" x="104.55" y="477.97"/><use href="#mg" x="104.55" y="480.45"/><use href="#mg" x="104.55" y="482.93"/><use href="#mg" x="104.55" y="485.42"/><use href="#mg" x="104.55" y="487.9"/><ellipse cx="104.55" cy="428.3" rx="0.9" ry="1.0" fill="#efcab2"/><ellipse cx="104.55" cy="430.78" rx="0.9" ry="1.0" fill="#efcab2"/><ellipse cx="104.55" cy="433.27" rx="0.9" ry="1.0" fill="#efcab2"/><ellipse cx="104.55" cy="435.75" rx="0.9" ry="1.0" fill="#efcab2"/><ellipse cx="104.55" cy="438.23" rx="0.9" ry="1.0" fill="#efcab2"/><ellipse cx="104.55" cy="440.72" rx="0.9" ry="1.0" fill="#efcab2"/><ellipse cx="104.55" cy="443.2" rx="0.9" ry="1.0" fill="#efcab2"/><ellipse cx="104.55" cy="445.68" rx="0.9" ry="1.0" fill="#efcab2"/><ellipse cx="104.55" cy="448.17" rx="0.9" ry="1.0" fill="#efcab2"/><ellipse cx="104.55" cy="450.65" rx="0.9" ry="1.0" fill="#efcab2"/><ellipse cx="104.55" cy="453.13" rx="0.9" ry="1.0" fill="#efcab2"/><ellipse cx="104.55" cy="455.62" rx="0.9" ry="1.0" fill="#efcab2"/><ellipse cx="104.55" cy="458.1" rx="0.9" ry="1.0" fill="#efcab2"/><ellipse cx="104.55" cy="460.58" rx="0.9" ry="1.0" fill="#efcab2"/><ellipse cx="104.55" cy="463.07" rx="0.9" ry="1.0" fill="#efcab2"/><ellipse cx="104.55" cy="465.55" rx="0.9" ry="1.0" fill="#efcab2"/><ellipse cx="104.55" cy="468.03" rx="0.9" ry="1.0" fill="#efcab2"/><ellipse cx="104.55" cy="470.52" rx="0.9" ry="1.0" fill="#efcab2"/><ellipse cx="104.55" cy="473" rx="0.9" ry="1.0" fill="#efcab2"/><ellipse cx="104.55" cy="475.48" rx="0.9" ry="1.0" fill="#efcab2"/><ellipse cx="104.55" cy="477.97" rx="0.9" ry="1.0" fill="#efcab2"/><ellipse cx="104.55" cy="480.45" rx="0.9" ry="1.0" fill="#efcab2"/><ellipse cx="104.55" cy="482.93" rx="0.9" ry="1.0" fill="#efcab2"/><ellipse cx="104.55" cy="485.42" rx="0.9" ry="1.0" fill="#efcab2"/><ellipse cx="104.55" cy="487.9" rx="0.9" ry="1.0" fill="#efcab2"/><use href="#mgo" x="111.28" y="418.3"/><rect x="109.52" y="428.3" width="3.51" height="57.6" fill="#b98365"/><use href="#mg" x="111.28" y="428.3"/><use href="#mg" x="111.28" y="430.8"/><use href="#mg" x="111.28" y="433.31"/><use href="#mg" x="111.28" y="435.81"/><use href="#mg" x="111.28" y="438.32"/><use href="#mg" x="111.28" y="440.82"/><use href="#mg" x="111.28" y="443.33"/><use href="#mg" x="111.28" y="445.83"/><use href="#mg" x="111.28" y="448.33"/><use href="#mg" x="111.28" y="450.84"/><use href="#mg" x="111.28" y="453.34"/><use href="#mg" x="111.28" y="455.85"/><use href="#mg" x="111.28" y="458.35"/><use href="#mg" x="111.28" y="460.86"/><use href="#mg" x="111.28" y="463.36"/><use href="#mg" x="111.28" y="465.87"/><use href="#mg" x="111.28" y="468.37"/><use href="#mg" x="111.28" y="470.87"/><use href="#mg" x="111.28" y="473.38"/><use href="#mg" x="111.28" y="475.88"/><use href="#mg" x="111.28" y="478.39"/><use href="#mg" x="111.28" y="480.89"/><use href="#mg" x="111.28" y="483.4"/><use href="#mg" x="111.28" y="485.9"/><ellipse cx="111.28" cy="428.3" rx="0.9" ry="1.0" fill="#efcab2"/><ellipse cx="111.28" cy="430.8" rx="0.9" ry="1.0" fill="#efcab2"/><ellipse cx="111.28" cy="433.31" rx="0.9" ry="1.0" fill="#efcab2"/><ellipse cx="111.28" cy="435.81" rx="0.9" ry="1.0" fill="#efcab2"/><ellipse cx="111.28" cy="438.32" rx="0.9" ry="1.0" fill="#efcab2"/><ellipse cx="111.28" cy="440.82" rx="0.9" ry="1.0" fill="#efcab2"/><ellipse cx="111.28" cy="443.33" rx="0.9" ry="1.0" fill="#efcab2"/><ellipse cx="111.28" cy="445.83" rx="0.9" ry="1.0" fill="#efcab2"/><ellipse cx="111.28" cy="448.33" rx="0.9" ry="1.0" fill="#efcab2"/><ellipse cx="111.28" cy="450.84" rx="0.9" ry="1.0" fill="#efcab2"/><ellipse cx="111.28" cy="453.34" rx="0.9" ry="1.0" fill="#efcab2"/><ellipse cx="111.28" cy="455.85" rx="0.9" ry="1.0" fill="#efcab2"/><ellipse cx="111.28" cy="458.35" rx="0.9" ry="1.0" fill="#efcab2"/><ellipse cx="111.28" cy="460.86" rx="0.9" ry="1.0" fill="#efcab2"/><ellipse cx="111.28" cy="463.36" rx="0.9" ry="1.0" fill="#efcab2"/><ellipse cx="111.28" cy="465.87" rx="0.9" ry="1.0" fill="#efcab2"/><ellipse cx="111.28" cy="468.37" rx="0.9" ry="1.0" fill="#efcab2"/><ellipse cx="111.28" cy="470.87" rx="0.9" ry="1.0" fill="#efcab2"/><ellipse cx="111.28" cy="473.38" rx="0.9" ry="1.0" fill="#efcab2"/><ellipse cx="111.28" cy="475.88" rx="0.9" ry="1.0" fill="#efcab2"/><ellipse cx="111.28" cy="478.39" rx="0.9" ry="1.0" fill="#efcab2"/><ellipse cx="111.28" cy="480.89" rx="0.9" ry="1.0" fill="#efcab2"/><ellipse cx="111.28" cy="483.4" rx="0.9" ry="1.0" fill="#efcab2"/><ellipse cx="111.28" cy="485.9" rx="0.9" ry="1.0" fill="#efcab2"/><use href="#mgo" x="118" y="490"/><use href="#mgo" x="118" y="494.1"/><use href="#mgo" x="118" y="497.7"/><rect x="116.25" y="421.5" width="3.51" height="54.2" fill="#b98365"/><use href="#mg" x="118" y="421.5"/><use href="#mg" x="118" y="423.96"/><use href="#mg" x="118" y="426.43"/><use href="#mg" x="118" y="428.89"/><use href="#mg" x="118" y="431.35"/><use href="#mg" x="118" y="433.82"/><use href="#mg" x="118" y="436.28"/><use href="#mg" x="118" y="438.75"/><use href="#mg" x="118" y="441.21"/><use href="#mg" x="118" y="443.67"/><use href="#mg" x="118" y="446.14"/><use href="#mg" x="118" y="448.6"/><use href="#mg" x="118" y="451.06"/><use href="#mg" x="118" y="453.53"/><use href="#mg" x="118" y="455.99"/><use href="#mg" x="118" y="458.45"/><use href="#mg" x="118" y="460.92"/><use href="#mg" x="118" y="463.38"/><use href="#mg" x="118" y="465.85"/><use href="#mg" x="118" y="468.31"/><use href="#mg" x="118" y="470.77"/><use href="#mg" x="118" y="473.24"/><use href="#mg" x="118" y="475.7"/><ellipse cx="118" cy="421.5" rx="0.9" ry="1.0" fill="#efcab2"/><ellipse cx="118" cy="423.96" rx="0.9" ry="1.0" fill="#efcab2"/><ellipse cx="118" cy="426.43" rx="0.9" ry="1.0" fill="#efcab2"/><ellipse cx="118" cy="428.89" rx="0.9" ry="1.0" fill="#efcab2"/><ellipse cx="118" cy="431.35" rx="0.9" ry="1.0" fill="#efcab2"/><ellipse cx="118" cy="433.82" rx="0.9" ry="1.0" fill="#efcab2"/><ellipse cx="118" cy="436.28" rx="0.9" ry="1.0" fill="#efcab2"/><ellipse cx="118" cy="438.75" rx="0.9" ry="1.0" fill="#efcab2"/><ellipse cx="118" cy="441.21" rx="0.9" ry="1.0" fill="#efcab2"/><ellipse cx="118" cy="443.67" rx="0.9" ry="1.0" fill="#efcab2"/><ellipse cx="118" cy="446.14" rx="0.9" ry="1.0" fill="#efcab2"/><ellipse cx="118" cy="448.6" rx="0.9" ry="1.0" fill="#efcab2"/><ellipse cx="118" cy="451.06" rx="0.9" ry="1.0" fill="#efcab2"/><ellipse cx="118" cy="453.53" rx="0.9" ry="1.0" fill="#efcab2"/><ellipse cx="118" cy="455.99" rx="0.9" ry="1.0" fill="#efcab2"/><ellipse cx="118" cy="458.45" rx="0.9" ry="1.0" fill="#efcab2"/><ellipse cx="118" cy="460.92" rx="0.9" ry="1.0" fill="#efcab2"/><ellipse cx="118" cy="463.38" rx="0.9" ry="1.0" fill="#efcab2"/><ellipse cx="118" cy="465.85" rx="0.9" ry="1.0" fill="#efcab2"/><ellipse cx="118" cy="468.31" rx="0.9" ry="1.0" fill="#efcab2"/><ellipse cx="118" cy="470.77" rx="0.9" ry="1.0" fill="#efcab2"/><ellipse cx="118" cy="473.24" rx="0.9" ry="1.0" fill="#efcab2"/><ellipse cx="118" cy="475.7" rx="0.9" ry="1.0" fill="#efcab2"/><use href="#mgo" x="124.72" y="403.4"/><use href="#mgo" x="124.72" y="419.7"/><rect x="122.97" y="429" width="3.51" height="50.8" fill="#b98365"/><use href="#mg" x="124.72" y="429"/><use href="#mg" x="124.72" y="431.54"/><use href="#mg" x="124.72" y="434.08"/><use href="#mg" x="124.72" y="436.62"/><use href="#mg" x="124.72" y="439.16"/><use href="#mg" x="124.72" y="441.7"/><use href="#mg" x="124.72" y="444.24"/><use href="#mg" x="124.72" y="446.78"/><use href="#mg" x="124.72" y="449.32"/><use href="#mg" x="124.72" y="451.86"/><use href="#mg" x="124.72" y="454.4"/><use href="#mg" x="124.72" y="456.94"/><use href="#mg" x="124.72" y="459.48"/><use href="#mg" x="124.72" y="462.02"/><use href="#mg" x="124.72" y="464.56"/><use href="#mg" x="124.72" y="467.1"/><use href="#mg" x="124.72" y="469.64"/><use href="#mg" x="124.72" y="472.18"/><use href="#mg" x="124.72" y="474.72"/><use href="#mg" x="124.72" y="477.26"/><use href="#mg" x="124.72" y="479.8"/><ellipse cx="124.72" cy="429" rx="0.9" ry="1.0" fill="#efcab2"/><ellipse cx="124.72" cy="431.54" rx="0.9" ry="1.0" fill="#efcab2"/><ellipse cx="124.72" cy="434.08" rx="0.9" ry="1.0" fill="#efcab2"/><ellipse cx="124.72" cy="436.62" rx="0.9" ry="1.0" fill="#efcab2"/><ellipse cx="124.72" cy="439.16" rx="0.9" ry="1.0" fill="#efcab2"/><ellipse cx="124.72" cy="441.7" rx="0.9" ry="1.0" fill="#efcab2"/><ellipse cx="124.72" cy="444.24" rx="0.9" ry="1.0" fill="#efcab2"/><ellipse cx="124.72" cy="446.78" rx="0.9" ry="1.0" fill="#efcab2"/><ellipse cx="124.72" cy="449.32" rx="0.9" ry="1.0" fill="#efcab2"/><ellipse cx="124.72" cy="451.86" rx="0.9" ry="1.0" fill="#efcab2"/><ellipse cx="124.72" cy="454.4" rx="0.9" ry="1.0" fill="#efcab2"/><ellipse cx="124.72" cy="456.94" rx="0.9" ry="1.0" fill="#efcab2"/><ellipse cx="124.72" cy="459.48" rx="0.9" ry="1.0" fill="#efcab2"/><ellipse cx="124.72" cy="462.02" rx="0.9" ry="1.0" fill="#efcab2"/><ellipse cx="124.72" cy="464.56" rx="0.9" ry="1.0" fill="#efcab2"/><ellipse cx="124.72" cy="467.1" rx="0.9" ry="1.0" fill="#efcab2"/><ellipse cx="124.72" cy="469.64" rx="0.9" ry="1.0" fill="#efcab2"/><ellipse cx="124.72" cy="472.18" rx="0.9" ry="1.0" fill="#efcab2"/><ellipse cx="124.72" cy="474.72" rx="0.9" ry="1.0" fill="#efcab2"/><ellipse cx="124.72" cy="477.26" rx="0.9" ry="1.0" fill="#efcab2"/><ellipse cx="124.72" cy="479.8" rx="0.9" ry="1.0" fill="#efcab2"/><use href="#mgo" x="131.45" y="411.3"/><use href="#mgo" x="131.45" y="479.2"/><use href="#mgo" x="131.45" y="486.3"/><use href="#mgo" x="131.45" y="499.9"/><rect x="129.69" y="421.5" width="3.51" height="48.1" fill="#b98365"/><use href="#mg" x="131.45" y="421.5"/><use href="#mg" x="131.45" y="424.03"/><use href="#mg" x="131.45" y="426.56"/><use href="#mg" x="131.45" y="429.09"/><use href="#mg" x="131.45" y="431.63"/><use href="#mg" x="131.45" y="434.16"/><use href="#mg" x="131.45" y="436.69"/><use href="#mg" x="131.45" y="439.22"/><use href="#mg" x="131.45" y="441.75"/><use href="#mg" x="131.45" y="444.28"/><use href="#mg" x="131.45" y="446.82"/><use href="#mg" x="131.45" y="449.35"/><use href="#mg" x="131.45" y="451.88"/><use href="#mg" x="131.45" y="454.41"/><use href="#mg" x="131.45" y="456.94"/><use href="#mg" x="131.45" y="459.47"/><use href="#mg" x="131.45" y="462.01"/><use href="#mg" x="131.45" y="464.54"/><use href="#mg" x="131.45" y="467.07"/><use href="#mg" x="131.45" y="469.6"/><ellipse cx="131.45" cy="421.5" rx="0.9" ry="1.0" fill="#efcab2"/><ellipse cx="131.45" cy="424.03" rx="0.9" ry="1.0" fill="#efcab2"/><ellipse cx="131.45" cy="426.56" rx="0.9" ry="1.0" fill="#efcab2"/><ellipse cx="131.45" cy="429.09" rx="0.9" ry="1.0" fill="#efcab2"/><ellipse cx="131.45" cy="431.63" rx="0.9" ry="1.0" fill="#efcab2"/><ellipse cx="131.45" cy="434.16" rx="0.9" ry="1.0" fill="#efcab2"/><ellipse cx="131.45" cy="436.69" rx="0.9" ry="1.0" fill="#efcab2"/><ellipse cx="131.45" cy="439.22" rx="0.9" ry="1.0" fill="#efcab2"/><ellipse cx="131.45" cy="441.75" rx="0.9" ry="1.0" fill="#efcab2"/><ellipse cx="131.45" cy="444.28" rx="0.9" ry="1.0" fill="#efcab2"/><ellipse cx="131.45" cy="446.82" rx="0.9" ry="1.0" fill="#efcab2"/><ellipse cx="131.45" cy="449.35" rx="0.9" ry="1.0" fill="#efcab2"/><ellipse cx="131.45" cy="451.88" rx="0.9" ry="1.0" fill="#efcab2"/><ellipse cx="131.45" cy="454.41" rx="0.9" ry="1.0" fill="#efcab2"/><ellipse cx="131.45" cy="456.94" rx="0.9" ry="1.0" fill="#efcab2"/><ellipse cx="131.45" cy="459.47" rx="0.9" ry="1.0" fill="#efcab2"/><ellipse cx="131.45" cy="462.01" rx="0.9" ry="1.0" fill="#efcab2"/><ellipse cx="131.45" cy="464.54" rx="0.9" ry="1.0" fill="#efcab2"/><ellipse cx="131.45" cy="467.07" rx="0.9" ry="1.0" fill="#efcab2"/><ellipse cx="131.45" cy="469.6" rx="0.9" ry="1.0" fill="#efcab2"/><use href="#mgo" x="138.18" y="415.3"/><use href="#mgo" x="138.18" y="467.6"/><use href="#mgo" x="138.18" y="485.3"/><rect x="136.42" y="423.1" width="3.51" height="36.3" fill="#b98365"/><use href="#mg" x="138.18" y="423.1"/><use href="#mg" x="138.18" y="425.52"/><use href="#mg" x="138.18" y="427.94"/><use href="#mg" x="138.18" y="430.36"/><use href="#mg" x="138.18" y="432.78"/><use href="#mg" x="138.18" y="435.2"/><use href="#mg" x="138.18" y="437.62"/><use href="#mg" x="138.18" y="440.04"/><use href="#mg" x="138.18" y="442.46"/><use href="#mg" x="138.18" y="444.88"/><use href="#mg" x="138.18" y="447.3"/><use href="#mg" x="138.18" y="449.72"/><use href="#mg" x="138.18" y="452.14"/><use href="#mg" x="138.18" y="454.56"/><use href="#mg" x="138.18" y="456.98"/><use href="#mg" x="138.18" y="459.4"/><ellipse cx="138.18" cy="423.1" rx="0.9" ry="1.0" fill="#efcab2"/><ellipse cx="138.18" cy="425.52" rx="0.9" ry="1.0" fill="#efcab2"/><ellipse cx="138.18" cy="427.94" rx="0.9" ry="1.0" fill="#efcab2"/><ellipse cx="138.18" cy="430.36" rx="0.9" ry="1.0" fill="#efcab2"/><ellipse cx="138.18" cy="432.78" rx="0.9" ry="1.0" fill="#efcab2"/><ellipse cx="138.18" cy="435.2" rx="0.9" ry="1.0" fill="#efcab2"/><ellipse cx="138.18" cy="437.62" rx="0.9" ry="1.0" fill="#efcab2"/><ellipse cx="138.18" cy="440.04" rx="0.9" ry="1.0" fill="#efcab2"/><ellipse cx="138.18" cy="442.46" rx="0.9" ry="1.0" fill="#efcab2"/><ellipse cx="138.18" cy="444.88" rx="0.9" ry="1.0" fill="#efcab2"/><ellipse cx="138.18" cy="447.3" rx="0.9" ry="1.0" fill="#efcab2"/><ellipse cx="138.18" cy="449.72" rx="0.9" ry="1.0" fill="#efcab2"/><ellipse cx="138.18" cy="452.14" rx="0.9" ry="1.0" fill="#efcab2"/><ellipse cx="138.18" cy="454.56" rx="0.9" ry="1.0" fill="#efcab2"/><ellipse cx="138.18" cy="456.98" rx="0.9" ry="1.0" fill="#efcab2"/><ellipse cx="138.18" cy="459.4" rx="0.9" ry="1.0" fill="#efcab2"/><rect x="143.15" y="423.5" width="3.51" height="44.1" fill="#b98365"/><use href="#mg" x="144.9" y="423.5"/><use href="#mg" x="144.9" y="425.95"/><use href="#mg" x="144.9" y="428.4"/><use href="#mg" x="144.9" y="430.85"/><use href="#mg" x="144.9" y="433.3"/><use href="#mg" x="144.9" y="435.75"/><use href="#mg" x="144.9" y="438.2"/><use href="#mg" x="144.9" y="440.65"/><use href="#mg" x="144.9" y="443.1"/><use href="#mg" x="144.9" y="445.55"/><use href="#mg" x="144.9" y="448"/><use href="#mg" x="144.9" y="450.45"/><use href="#mg" x="144.9" y="452.9"/><use href="#mg" x="144.9" y="455.35"/><use href="#mg" x="144.9" y="457.8"/><use href="#mg" x="144.9" y="460.25"/><use href="#mg" x="144.9" y="462.7"/><use href="#mg" x="144.9" y="465.15"/><use href="#mg" x="144.9" y="467.6"/><ellipse cx="144.9" cy="423.5" rx="0.9" ry="1.0" fill="#efcab2"/><ellipse cx="144.9" cy="425.95" rx="0.9" ry="1.0" fill="#efcab2"/><ellipse cx="144.9" cy="428.4" rx="0.9" ry="1.0" fill="#efcab2"/><ellipse cx="144.9" cy="430.85" rx="0.9" ry="1.0" fill="#efcab2"/><ellipse cx="144.9" cy="433.3" rx="0.9" ry="1.0" fill="#efcab2"/><ellipse cx="144.9" cy="435.75" rx="0.9" ry="1.0" fill="#efcab2"/><ellipse cx="144.9" cy="438.2" rx="0.9" ry="1.0" fill="#efcab2"/><ellipse cx="144.9" cy="440.65" rx="0.9" ry="1.0" fill="#efcab2"/><ellipse cx="144.9" cy="443.1" rx="0.9" ry="1.0" fill="#efcab2"/><ellipse cx="144.9" cy="445.55" rx="0.9" ry="1.0" fill="#efcab2"/><ellipse cx="144.9" cy="448" rx="0.9" ry="1.0" fill="#efcab2"/><ellipse cx="144.9" cy="450.45" rx="0.9" ry="1.0" fill="#efcab2"/><ellipse cx="144.9" cy="452.9" rx="0.9" ry="1.0" fill="#efcab2"/><ellipse cx="144.9" cy="455.35" rx="0.9" ry="1.0" fill="#efcab2"/><ellipse cx="144.9" cy="457.8" rx="0.9" ry="1.0" fill="#efcab2"/><ellipse cx="144.9" cy="460.25" rx="0.9" ry="1.0" fill="#efcab2"/><ellipse cx="144.9" cy="462.7" rx="0.9" ry="1.0" fill="#efcab2"/><ellipse cx="144.9" cy="465.15" rx="0.9" ry="1.0" fill="#efcab2"/><ellipse cx="144.9" cy="467.6" rx="0.9" ry="1.0" fill="#efcab2"/><rect x="149.87" y="420.8" width="3.51" height="31.2" fill="#b98365"/><use href="#mg" x="151.62" y="420.8"/><use href="#mg" x="151.62" y="423.4"/><use href="#mg" x="151.62" y="426"/><use href="#mg" x="151.62" y="428.6"/><use href="#mg" x="151.62" y="431.2"/><use href="#mg" x="151.62" y="433.8"/><use href="#mg" x="151.62" y="436.4"/><use href="#mg" x="151.62" y="439"/><use href="#mg" x="151.62" y="441.6"/><use href="#mg" x="151.62" y="444.2"/><use href="#mg" x="151.62" y="446.8"/><use href="#mg" x="151.62" y="449.4"/><use href="#mg" x="151.62" y="452"/><ellipse cx="151.62" cy="420.8" rx="0.9" ry="1.0" fill="#efcab2"/><ellipse cx="151.62" cy="423.4" rx="0.9" ry="1.0" fill="#efcab2"/><ellipse cx="151.62" cy="426" rx="0.9" ry="1.0" fill="#efcab2"/><ellipse cx="151.62" cy="428.6" rx="0.9" ry="1.0" fill="#efcab2"/><ellipse cx="151.62" cy="431.2" rx="0.9" ry="1.0" fill="#efcab2"/><ellipse cx="151.62" cy="433.8" rx="0.9" ry="1.0" fill="#efcab2"/><ellipse cx="151.62" cy="436.4" rx="0.9" ry="1.0" fill="#efcab2"/><ellipse cx="151.62" cy="439" rx="0.9" ry="1.0" fill="#efcab2"/><ellipse cx="151.62" cy="441.6" rx="0.9" ry="1.0" fill="#efcab2"/><ellipse cx="151.62" cy="444.2" rx="0.9" ry="1.0" fill="#efcab2"/><ellipse cx="151.62" cy="446.8" rx="0.9" ry="1.0" fill="#efcab2"/><ellipse cx="151.62" cy="449.4" rx="0.9" ry="1.0" fill="#efcab2"/><ellipse cx="151.62" cy="452" rx="0.9" ry="1.0" fill="#efcab2"/><use href="#mgo" x="158.35" y="423.2"/><rect x="156.59" y="429.6" width="3.51" height="27.8" fill="#b98365"/><use href="#mg" x="158.35" y="429.6"/><use href="#mg" x="158.35" y="432.13"/><use href="#mg" x="158.35" y="434.65"/><use href="#mg" x="158.35" y="437.18"/><use href="#mg" x="158.35" y="439.71"/><use href="#mg" x="158.35" y="442.24"/><use href="#mg" x="158.35" y="444.76"/><use href="#mg" x="158.35" y="447.29"/><use href="#mg" x="158.35" y="449.82"/><use href="#mg" x="158.35" y="452.35"/><use href="#mg" x="158.35" y="454.87"/><use href="#mg" x="158.35" y="457.4"/><ellipse cx="158.35" cy="429.6" rx="0.9" ry="1.0" fill="#efcab2"/><ellipse cx="158.35" cy="432.13" rx="0.9" ry="1.0" fill="#efcab2"/><ellipse cx="158.35" cy="434.65" rx="0.9" ry="1.0" fill="#efcab2"/><ellipse cx="158.35" cy="437.18" rx="0.9" ry="1.0" fill="#efcab2"/><ellipse cx="158.35" cy="439.71" rx="0.9" ry="1.0" fill="#efcab2"/><ellipse cx="158.35" cy="442.24" rx="0.9" ry="1.0" fill="#efcab2"/><ellipse cx="158.35" cy="444.76" rx="0.9" ry="1.0" fill="#efcab2"/><ellipse cx="158.35" cy="447.29" rx="0.9" ry="1.0" fill="#efcab2"/><ellipse cx="158.35" cy="449.82" rx="0.9" ry="1.0" fill="#efcab2"/><ellipse cx="158.35" cy="452.35" rx="0.9" ry="1.0" fill="#efcab2"/><ellipse cx="158.35" cy="454.87" rx="0.9" ry="1.0" fill="#efcab2"/><ellipse cx="158.35" cy="457.4" rx="0.9" ry="1.0" fill="#efcab2"/><rect x="163.32" y="422.2" width="3.51" height="16.1" fill="#b98365"/><use href="#mg" x="165.07" y="422.2"/><use href="#mg" x="165.07" y="424.88"/><use href="#mg" x="165.07" y="427.57"/><use href="#mg" x="165.07" y="430.25"/><use href="#mg" x="165.07" y="432.93"/><use href="#mg" x="165.07" y="435.62"/><use href="#mg" x="165.07" y="438.3"/><ellipse cx="165.07" cy="422.2" rx="0.9" ry="1.0" fill="#efcab2"/><ellipse cx="165.07" cy="424.88" rx="0.9" ry="1.0" fill="#efcab2"/><ellipse cx="165.07" cy="427.57" rx="0.9" ry="1.0" fill="#efcab2"/><ellipse cx="165.07" cy="430.25" rx="0.9" ry="1.0" fill="#efcab2"/><ellipse cx="165.07" cy="432.93" rx="0.9" ry="1.0" fill="#efcab2"/><ellipse cx="165.07" cy="435.62" rx="0.9" ry="1.0" fill="#efcab2"/><ellipse cx="165.07" cy="438.3" rx="0.9" ry="1.0" fill="#efcab2"/></g><ellipse cx="44.02" cy="455.4" rx="2.2" ry="2.64" fill="#fff"/><circle cx="44.02" cy="455.4" r="1.35" fill="#000"/><ellipse cx="50.75" cy="468.7" rx="2.2" ry="2.64" fill="#fff"/><circle cx="50.75" cy="468.7" r="1.35" fill="#000"/><ellipse cx="57.47" cy="451.8" rx="2.2" ry="2.64" fill="#fff"/><circle cx="57.47" cy="451.8" r="1.35" fill="#000"/><ellipse cx="64.2" cy="463.6" rx="2.2" ry="2.64" fill="#fff"/><circle cx="64.2" cy="463.6" r="1.35" fill="#000"/><ellipse cx="70.92" cy="469.4" rx="2.2" ry="2.64" fill="#fff"/><circle cx="70.92" cy="469.4" r="1.35" fill="#000"/><ellipse cx="77.65" cy="460.2" rx="2.2" ry="2.64" fill="#fff"/><circle cx="77.65" cy="460.2" r="1.35" fill="#000"/><ellipse cx="84.38" cy="464.6" rx="2.2" ry="2.64" fill="#fff"/><circle cx="84.38" cy="464.6" r="1.35" fill="#000"/><ellipse cx="91.1" cy="457.1" rx="2.2" ry="2.64" fill="#fff"/><circle cx="91.1" cy="457.1" r="1.35" fill="#000"/><ellipse cx="97.82" cy="461" rx="2.2" ry="2.64" fill="#fff"/><circle cx="97.82" cy="461" r="1.35" fill="#000"/><ellipse cx="104.55" cy="460.7" rx="2.2" ry="2.64" fill="#fff"/><circle cx="104.55" cy="460.7" r="1.35" fill="#000"/><ellipse cx="111.28" cy="456.2" rx="2.2" ry="2.64" fill="#fff"/><circle cx="111.28" cy="456.2" r="1.35" fill="#000"/><ellipse cx="118" cy="454.4" rx="2.2" ry="2.64" fill="#fff"/><circle cx="118" cy="454.4" r="1.35" fill="#000"/><ellipse cx="124.72" cy="453.4" rx="2.2" ry="2.64" fill="#fff"/><circle cx="124.72" cy="453.4" r="1.35" fill="#000"/><ellipse cx="131.45" cy="450.5" rx="2.2" ry="2.64" fill="#fff"/><circle cx="131.45" cy="450.5" r="1.35" fill="#000"/><ellipse cx="138.18" cy="441.1" rx="2.2" ry="2.64" fill="#fff"/><circle cx="138.18" cy="441.1" r="1.35" fill="#000"/><ellipse cx="144.9" cy="444.9" rx="2.2" ry="2.64" fill="#fff"/><circle cx="144.9" cy="444.9" r="1.35" fill="#000"/><ellipse cx="151.62" cy="435.4" rx="2.2" ry="2.64" fill="#fff"/><circle cx="151.62" cy="435.4" r="1.35" fill="#000"/><ellipse cx="158.35" cy="441.8" rx="2.2" ry="2.64" fill="#fff"/><circle cx="158.35" cy="441.8" r="1.35" fill="#000"/><ellipse cx="165.07" cy="430.3" rx="2.2" ry="2.64" fill="#fff"/><circle cx="165.07" cy="430.3" r="1.35" fill="#000"/><rect x="37.5" y="383.8" width="134.5" height="139.3" fill="none" stroke="#a2a2a2" stroke-width="1.5"/><line x1="35.3" y1="396.26" x2="37.3" y2="396.26" stroke="#6a6a6a" stroke-width="0.9"/><text x="31" y="398.46" text-anchor="end">300</text><line x1="35.3" y1="421.59" x2="37.3" y2="421.59" stroke="#6a6a6a" stroke-width="0.9"/><text x="31" y="423.79" text-anchor="end">200</text><line x1="35.3" y1="446.92" x2="37.3" y2="446.92" stroke="#6a6a6a" stroke-width="0.9"/><text x="31" y="449.12" text-anchor="end">100</text><line x1="35.3" y1="472.25" x2="37.3" y2="472.25" stroke="#6a6a6a" stroke-width="0.9"/><text x="31" y="474.45" text-anchor="end">0</text><line x1="35.3" y1="497.57" x2="37.3" y2="497.57" stroke="#6a6a6a" stroke-width="0.9"/><text x="31" y="499.77" text-anchor="end">-100</text><line x1="35.3" y1="522.9" x2="37.3" y2="522.9" stroke="#6a6a6a" stroke-width="0.9"/><text x="31" y="525.1" text-anchor="end">-200</text><line x1="37.3" y1="522.9" x2="37.3" y2="524.9" stroke="#6a6a6a" stroke-width="0.9"/><text x="37.3" y="533.8" text-anchor="middle">0</text><line x1="64.2" y1="522.9" x2="64.2" y2="524.9" stroke="#6a6a6a" stroke-width="0.9"/><text x="64.2" y="533.8" text-anchor="middle">20</text><line x1="91.1" y1="522.9" x2="91.1" y2="524.9" stroke="#6a6a6a" stroke-width="0.9"/><text x="91.1" y="533.8" text-anchor="middle">40</text><line x1="118" y1="522.9" x2="118" y2="524.9" stroke="#6a6a6a" stroke-width="0.9"/><text x="118" y="533.8" text-anchor="middle">60</text><line x1="144.9" y1="522.9" x2="144.9" y2="524.9" stroke="#6a6a6a" stroke-width="0.9"/><text x="144.9" y="533.8" text-anchor="middle">80</text><line x1="171.8" y1="522.9" x2="171.8" y2="524.9" stroke="#6a6a6a" stroke-width="0.9"/><text x="171.8" y="533.8" text-anchor="middle">100</text><text x="53.3" y="394">Fe-Cr : 480 atoms system</text><text x="105.2" y="542.8" text-anchor="middle">Cr Conc (%)</text><text transform="translate(13.8,452.1) rotate(-90) scale(1.0)" text-anchor="middle">SFE (mJ/m<tspan font-size="5.5" dy="-3">2</tspan><tspan dy="3">)</tspan></text><text x="20.9" y="376.5">g)</text></g>
<g><defs><path id="mh" d="M0,-2.3 L1.95,0 L0,2.3 L-1.95,0Z" fill="#a9cb96" stroke="#6a7c64" stroke-width="0.8"/><path id="mho" d="M0,-2.3 L1.95,0 L0,2.3 L-1.95,0Z" fill="#d6e8cc" stroke="#849c78" stroke-width="0.8"/></defs><g style="filter:blur(0.35px)"><rect x="213.22" y="469" width="3.51" height="3.1" fill="#86a874"/><use href="#mh" x="214.98" y="469"/><use href="#mh" x="214.98" y="472.1"/><ellipse cx="214.98" cy="469" rx="0.9" ry="1.0" fill="#d6eacb"/><ellipse cx="214.98" cy="472.1" rx="0.9" ry="1.0" fill="#d6eacb"/><rect x="219.9" y="465.1" width="3.51" height="8.9" fill="#86a874"/><use href="#mh" x="221.65" y="465.1"/><use href="#mh" x="221.65" y="467.33"/><use href="#mh" x="221.65" y="469.55"/><use href="#mh" x="221.65" y="471.77"/><use href="#mh" x="221.65" y="474"/><ellipse cx="221.65" cy="465.1" rx="0.9" ry="1.0" fill="#d6eacb"/><ellipse cx="221.65" cy="467.33" rx="0.9" ry="1.0" fill="#d6eacb"/><ellipse cx="221.65" cy="469.55" rx="0.9" ry="1.0" fill="#d6eacb"/><ellipse cx="221.65" cy="471.77" rx="0.9" ry="1.0" fill="#d6eacb"/><ellipse cx="221.65" cy="474" rx="0.9" ry="1.0" fill="#d6eacb"/><rect x="226.57" y="463.7" width="3.51" height="11" fill="#86a874"/><use href="#mh" x="228.33" y="463.7"/><use href="#mh" x="228.33" y="466.45"/><use href="#mh" x="228.33" y="469.2"/><use href="#mh" x="228.33" y="471.95"/><use href="#mh" x="228.33" y="474.7"/><ellipse cx="228.33" cy="463.7" rx="0.9" ry="1.0" fill="#d6eacb"/><ellipse cx="228.33" cy="466.45" rx="0.9" ry="1.0" fill="#d6eacb"/><ellipse cx="228.33" cy="469.2" rx="0.9" ry="1.0" fill="#d6eacb"/><ellipse cx="228.33" cy="471.95" rx="0.9" ry="1.0" fill="#d6eacb"/><ellipse cx="228.33" cy="474.7" rx="0.9" ry="1.0" fill="#d6eacb"/><rect x="233.25" y="458.5" width="3.51" height="16.9" fill="#86a874"/><use href="#mh" x="235" y="458.5"/><use href="#mh" x="235" y="460.91"/><use href="#mh" x="235" y="463.33"/><use href="#mh" x="235" y="465.74"/><use href="#mh" x="235" y="468.16"/><use href="#mh" x="235" y="470.57"/><use href="#mh" x="235" y="472.99"/><use href="#mh" x="235" y="475.4"/><ellipse cx="235" cy="458.5" rx="0.9" ry="1.0" fill="#d6eacb"/><ellipse cx="235" cy="460.91" rx="0.9" ry="1.0" fill="#d6eacb"/><ellipse cx="235" cy="463.33" rx="0.9" ry="1.0" fill="#d6eacb"/><ellipse cx="235" cy="465.74" rx="0.9" ry="1.0" fill="#d6eacb"/><ellipse cx="235" cy="468.16" rx="0.9" ry="1.0" fill="#d6eacb"/><ellipse cx="235" cy="470.57" rx="0.9" ry="1.0" fill="#d6eacb"/><ellipse cx="235" cy="472.99" rx="0.9" ry="1.0" fill="#d6eacb"/><ellipse cx="235" cy="475.4" rx="0.9" ry="1.0" fill="#d6eacb"/><rect x="239.92" y="459.8" width="3.51" height="18.2" fill="#86a874"/><use href="#mh" x="241.68" y="459.8"/><use href="#mh" x="241.68" y="462.4"/><use href="#mh" x="241.68" y="465"/><use href="#mh" x="241.68" y="467.6"/><use href="#mh" x="241.68" y="470.2"/><use href="#mh" x="241.68" y="472.8"/><use href="#mh" x="241.68" y="475.4"/><use href="#mh" x="241.68" y="478"/><ellipse cx="241.68" cy="459.8" rx="0.9" ry="1.0" fill="#d6eacb"/><ellipse cx="241.68" cy="462.4" rx="0.9" ry="1.0" fill="#d6eacb"/><ellipse cx="241.68" cy="465" rx="0.9" ry="1.0" fill="#d6eacb"/><ellipse cx="241.68" cy="467.6" rx="0.9" ry="1.0" fill="#d6eacb"/><ellipse cx="241.68" cy="470.2" rx="0.9" ry="1.0" fill="#d6eacb"/><ellipse cx="241.68" cy="472.8" rx="0.9" ry="1.0" fill="#d6eacb"/><ellipse cx="241.68" cy="475.4" rx="0.9" ry="1.0" fill="#d6eacb"/><ellipse cx="241.68" cy="478" rx="0.9" ry="1.0" fill="#d6eacb"/><rect x="246.6" y="458.5" width="3.51" height="18.2" fill="#86a874"/><use href="#mh" x="248.35" y="458.5"/><use href="#mh" x="248.35" y="461.1"/><use href="#mh" x="248.35" y="463.7"/><use href="#mh" x="248.35" y="466.3"/><use href="#mh" x="248.35" y="468.9"/><use href="#mh" x="248.35" y="471.5"/><use href="#mh" x="248.35" y="474.1"/><use href="#mh" x="248.35" y="476.7"/><ellipse cx="248.35" cy="458.5" rx="0.9" ry="1.0" fill="#d6eacb"/><ellipse cx="248.35" cy="461.1" rx="0.9" ry="1.0" fill="#d6eacb"/><ellipse cx="248.35" cy="463.7" rx="0.9" ry="1.0" fill="#d6eacb"/><ellipse cx="248.35" cy="466.3" rx="0.9" ry="1.0" fill="#d6eacb"/><ellipse cx="248.35" cy="468.9" rx="0.9" ry="1.0" fill="#d6eacb"/><ellipse cx="248.35" cy="471.5" rx="0.9" ry="1.0" fill="#d6eacb"/><ellipse cx="248.35" cy="474.1" rx="0.9" ry="1.0" fill="#d6eacb"/><ellipse cx="248.35" cy="476.7" rx="0.9" ry="1.0" fill="#d6eacb"/><rect x="253.27" y="452.5" width="3.51" height="20.9" fill="#86a874"/><use href="#mh" x="255.03" y="452.5"/><use href="#mh" x="255.03" y="455.11"/><use href="#mh" x="255.03" y="457.73"/><use href="#mh" x="255.03" y="460.34"/><use href="#mh" x="255.03" y="462.95"/><use href="#mh" x="255.03" y="465.56"/><use href="#mh" x="255.03" y="468.17"/><use href="#mh" x="255.03" y="470.79"/><use href="#mh" x="255.03" y="473.4"/><ellipse cx="255.03" cy="452.5" rx="0.9" ry="1.0" fill="#d6eacb"/><ellipse cx="255.03" cy="455.11" rx="0.9" ry="1.0" fill="#d6eacb"/><ellipse cx="255.03" cy="457.73" rx="0.9" ry="1.0" fill="#d6eacb"/><ellipse cx="255.03" cy="460.34" rx="0.9" ry="1.0" fill="#d6eacb"/><ellipse cx="255.03" cy="462.95" rx="0.9" ry="1.0" fill="#d6eacb"/><ellipse cx="255.03" cy="465.56" rx="0.9" ry="1.0" fill="#d6eacb"/><ellipse cx="255.03" cy="468.17" rx="0.9" ry="1.0" fill="#d6eacb"/><ellipse cx="255.03" cy="470.79" rx="0.9" ry="1.0" fill="#d6eacb"/><ellipse cx="255.03" cy="473.4" rx="0.9" ry="1.0" fill="#d6eacb"/><rect x="259.95" y="450.6" width="3.51" height="24.1" fill="#86a874"/><use href="#mh" x="261.7" y="450.6"/><use href="#mh" x="261.7" y="453.01"/><use href="#mh" x="261.7" y="455.42"/><use href="#mh" x="261.7" y="457.83"/><use href="#mh" x="261.7" y="460.24"/><use href="#mh" x="261.7" y="462.65"/><use href="#mh" x="261.7" y="465.06"/><use href="#mh" x="261.7" y="467.47"/><use href="#mh" x="261.7" y="469.88"/><use href="#mh" x="261.7" y="472.29"/><use href="#mh" x="261.7" y="474.7"/><ellipse cx="261.7" cy="450.6" rx="0.9" ry="1.0" fill="#d6eacb"/><ellipse cx="261.7" cy="453.01" rx="0.9" ry="1.0" fill="#d6eacb"/><ellipse cx="261.7" cy="455.42" rx="0.9" ry="1.0" fill="#d6eacb"/><ellipse cx="261.7" cy="457.83" rx="0.9" ry="1.0" fill="#d6eacb"/><ellipse cx="261.7" cy="460.24" rx="0.9" ry="1.0" fill="#d6eacb"/><ellipse cx="261.7" cy="462.65" rx="0.9" ry="1.0" fill="#d6eacb"/><ellipse cx="261.7" cy="465.06" rx="0.9" ry="1.0" fill="#d6eacb"/><ellipse cx="261.7" cy="467.47" rx="0.9" ry="1.0" fill="#d6eacb"/><ellipse cx="261.7" cy="469.88" rx="0.9" ry="1.0" fill="#d6eacb"/><ellipse cx="261.7" cy="472.29" rx="0.9" ry="1.0" fill="#d6eacb"/><ellipse cx="261.7" cy="474.7" rx="0.9" ry="1.0" fill="#d6eacb"/><rect x="266.62" y="450.6" width="3.51" height="20.8" fill="#86a874"/><use href="#mh" x="268.38" y="450.6"/><use href="#mh" x="268.38" y="453.2"/><use href="#mh" x="268.38" y="455.8"/><use href="#mh" x="268.38" y="458.4"/><use href="#mh" x="268.38" y="461"/><use href="#mh" x="268.38" y="463.6"/><use href="#mh" x="268.38" y="466.2"/><use href="#mh" x="268.38" y="468.8"/><use href="#mh" x="268.38" y="471.4"/><ellipse cx="268.38" cy="450.6" rx="0.9" ry="1.0" fill="#d6eacb"/><ellipse cx="268.38" cy="453.2" rx="0.9" ry="1.0" fill="#d6eacb"/><ellipse cx="268.38" cy="455.8" rx="0.9" ry="1.0" fill="#d6eacb"/><ellipse cx="268.38" cy="458.4" rx="0.9" ry="1.0" fill="#d6eacb"/><ellipse cx="268.38" cy="461" rx="0.9" ry="1.0" fill="#d6eacb"/><ellipse cx="268.38" cy="463.6" rx="0.9" ry="1.0" fill="#d6eacb"/><ellipse cx="268.38" cy="466.2" rx="0.9" ry="1.0" fill="#d6eacb"/><ellipse cx="268.38" cy="468.8" rx="0.9" ry="1.0" fill="#d6eacb"/><ellipse cx="268.38" cy="471.4" rx="0.9" ry="1.0" fill="#d6eacb"/><rect x="273.3" y="444.9" width="3.51" height="25.1" fill="#86a874"/><use href="#mh" x="275.05" y="444.9"/><use href="#mh" x="275.05" y="447.41"/><use href="#mh" x="275.05" y="449.92"/><use href="#mh" x="275.05" y="452.43"/><use href="#mh" x="275.05" y="454.94"/><use href="#mh" x="275.05" y="457.45"/><use href="#mh" x="275.05" y="459.96"/><use href="#mh" x="275.05" y="462.47"/><use href="#mh" x="275.05" y="464.98"/><use href="#mh" x="275.05" y="467.49"/><use href="#mh" x="275.05" y="470"/><ellipse cx="275.05" cy="444.9" rx="0.9" ry="1.0" fill="#d6eacb"/><ellipse cx="275.05" cy="447.41" rx="0.9" ry="1.0" fill="#d6eacb"/><ellipse cx="275.05" cy="449.92" rx="0.9" ry="1.0" fill="#d6eacb"/><ellipse cx="275.05" cy="452.43" rx="0.9" ry="1.0" fill="#d6eacb"/><ellipse cx="275.05" cy="454.94" rx="0.9" ry="1.0" fill="#d6eacb"/><ellipse cx="275.05" cy="457.45" rx="0.9" ry="1.0" fill="#d6eacb"/><ellipse cx="275.05" cy="459.96" rx="0.9" ry="1.0" fill="#d6eacb"/><ellipse cx="275.05" cy="462.47" rx="0.9" ry="1.0" fill="#d6eacb"/><ellipse cx="275.05" cy="464.98" rx="0.9" ry="1.0" fill="#d6eacb"/><ellipse cx="275.05" cy="467.49" rx="0.9" ry="1.0" fill="#d6eacb"/><ellipse cx="275.05" cy="470" rx="0.9" ry="1.0" fill="#d6eacb"/><rect x="279.97" y="443.8" width="3.51" height="22.8" fill="#86a874"/><use href="#mh" x="281.73" y="443.8"/><use href="#mh" x="281.73" y="446.33"/><use href="#mh" x="281.73" y="448.87"/><use href="#mh" x="281.73" y="451.4"/><use href="#mh" x="281.73" y="453.93"/><use href="#mh" x="281.73" y="456.47"/><use href="#mh" x="281.73" y="459"/><use href="#mh" x="281.73" y="461.53"/><use href="#mh" x="281.73" y="464.07"/><use href="#mh" x="281.73" y="466.6"/><ellipse cx="281.73" cy="443.8" rx="0.9" ry="1.0" fill="#d6eacb"/><ellipse cx="281.73" cy="446.33" rx="0.9" ry="1.0" fill="#d6eacb"/><ellipse cx="281.73" cy="448.87" rx="0.9" ry="1.0" fill="#d6eacb"/><ellipse cx="281.73" cy="451.4" rx="0.9" ry="1.0" fill="#d6eacb"/><ellipse cx="281.73" cy="453.93" rx="0.9" ry="1.0" fill="#d6eacb"/><ellipse cx="281.73" cy="456.47" rx="0.9" ry="1.0" fill="#d6eacb"/><ellipse cx="281.73" cy="459" rx="0.9" ry="1.0" fill="#d6eacb"/><ellipse cx="281.73" cy="461.53" rx="0.9" ry="1.0" fill="#d6eacb"/><ellipse cx="281.73" cy="464.07" rx="0.9" ry="1.0" fill="#d6eacb"/><ellipse cx="281.73" cy="466.6" rx="0.9" ry="1.0" fill="#d6eacb"/><rect x="286.64" y="440.5" width="3.51" height="26.1" fill="#86a874"/><use href="#mh" x="288.4" y="440.5"/><use href="#mh" x="288.4" y="443.11"/><use href="#mh" x="288.4" y="445.72"/><use href="#mh" x="288.4" y="448.33"/><use href="#mh" x="288.4" y="450.94"/><use href="#mh" x="288.4" y="453.55"/><use href="#mh" x="288.4" y="456.16"/><use href="#mh" x="288.4" y="458.77"/><use href="#mh" x="288.4" y="461.38"/><use href="#mh" x="288.4" y="463.99"/><use href="#mh" x="288.4" y="466.6"/><ellipse cx="288.4" cy="440.5" rx="0.9" ry="1.0" fill="#d6eacb"/><ellipse cx="288.4" cy="443.11" rx="0.9" ry="1.0" fill="#d6eacb"/><ellipse cx="288.4" cy="445.72" rx="0.9" ry="1.0" fill="#d6eacb"/><ellipse cx="288.4" cy="448.33" rx="0.9" ry="1.0" fill="#d6eacb"/><ellipse cx="288.4" cy="450.94" rx="0.9" ry="1.0" fill="#d6eacb"/><ellipse cx="288.4" cy="453.55" rx="0.9" ry="1.0" fill="#d6eacb"/><ellipse cx="288.4" cy="456.16" rx="0.9" ry="1.0" fill="#d6eacb"/><ellipse cx="288.4" cy="458.77" rx="0.9" ry="1.0" fill="#d6eacb"/><ellipse cx="288.4" cy="461.38" rx="0.9" ry="1.0" fill="#d6eacb"/><ellipse cx="288.4" cy="463.99" rx="0.9" ry="1.0" fill="#d6eacb"/><ellipse cx="288.4" cy="466.6" rx="0.9" ry="1.0" fill="#d6eacb"/><use href="#mho" x="295.08" y="465.4"/><rect x="293.32" y="438.9" width="3.51" height="21.1" fill="#86a874"/><use href="#mh" x="295.08" y="438.9"/><use href="#mh" x="295.08" y="441.54"/><use href="#mh" x="295.08" y="444.18"/><use href="#mh" x="295.08" y="446.81"/><use href="#mh" x="295.08" y="449.45"/><use href="#mh" x="295.08" y="452.09"/><use href="#mh" x="295.08" y="454.73"/><use href="#mh" x="295.08" y="457.36"/><use href="#mh" x="295.08" y="460"/><ellipse cx="295.08" cy="438.9" rx="0.9" ry="1.0" fill="#d6eacb"/><ellipse cx="295.08" cy="441.54" rx="0.9" ry="1.0" fill="#d6eacb"/><ellipse cx="295.08" cy="444.18" rx="0.9" ry="1.0" fill="#d6eacb"/><ellipse cx="295.08" cy="446.81" rx="0.9" ry="1.0" fill="#d6eacb"/><ellipse cx="295.08" cy="449.45" rx="0.9" ry="1.0" fill="#d6eacb"/><ellipse cx="295.08" cy="452.09" rx="0.9" ry="1.0" fill="#d6eacb"/><ellipse cx="295.08" cy="454.73" rx="0.9" ry="1.0" fill="#d6eacb"/><ellipse cx="295.08" cy="457.36" rx="0.9" ry="1.0" fill="#d6eacb"/><ellipse cx="295.08" cy="460" rx="0.9" ry="1.0" fill="#d6eacb"/><rect x="300" y="433.9" width="3.51" height="22" fill="#86a874"/><use href="#mh" x="301.75" y="433.9"/><use href="#mh" x="301.75" y="436.34"/><use href="#mh" x="301.75" y="438.79"/><use href="#mh" x="301.75" y="441.23"/><use href="#mh" x="301.75" y="443.68"/><use href="#mh" x="301.75" y="446.12"/><use href="#mh" x="301.75" y="448.57"/><use href="#mh" x="301.75" y="451.01"/><use href="#mh" x="301.75" y="453.46"/><use href="#mh" x="301.75" y="455.9"/><ellipse cx="301.75" cy="433.9" rx="0.9" ry="1.0" fill="#d6eacb"/><ellipse cx="301.75" cy="436.34" rx="0.9" ry="1.0" fill="#d6eacb"/><ellipse cx="301.75" cy="438.79" rx="0.9" ry="1.0" fill="#d6eacb"/><ellipse cx="301.75" cy="441.23" rx="0.9" ry="1.0" fill="#d6eacb"/><ellipse cx="301.75" cy="443.68" rx="0.9" ry="1.0" fill="#d6eacb"/><ellipse cx="301.75" cy="446.12" rx="0.9" ry="1.0" fill="#d6eacb"/><ellipse cx="301.75" cy="448.57" rx="0.9" ry="1.0" fill="#d6eacb"/><ellipse cx="301.75" cy="451.01" rx="0.9" ry="1.0" fill="#d6eacb"/><ellipse cx="301.75" cy="453.46" rx="0.9" ry="1.0" fill="#d6eacb"/><ellipse cx="301.75" cy="455.9" rx="0.9" ry="1.0" fill="#d6eacb"/><rect x="306.67" y="432.3" width="3.51" height="17.1" fill="#86a874"/><use href="#mh" x="308.43" y="432.3"/><use href="#mh" x="308.43" y="434.74"/><use href="#mh" x="308.43" y="437.19"/><use href="#mh" x="308.43" y="439.63"/><use href="#mh" x="308.43" y="442.07"/><use href="#mh" x="308.43" y="444.51"/><use href="#mh" x="308.43" y="446.96"/><use href="#mh" x="308.43" y="449.4"/><ellipse cx="308.43" cy="432.3" rx="0.9" ry="1.0" fill="#d6eacb"/><ellipse cx="308.43" cy="434.74" rx="0.9" ry="1.0" fill="#d6eacb"/><ellipse cx="308.43" cy="437.19" rx="0.9" ry="1.0" fill="#d6eacb"/><ellipse cx="308.43" cy="439.63" rx="0.9" ry="1.0" fill="#d6eacb"/><ellipse cx="308.43" cy="442.07" rx="0.9" ry="1.0" fill="#d6eacb"/><ellipse cx="308.43" cy="444.51" rx="0.9" ry="1.0" fill="#d6eacb"/><ellipse cx="308.43" cy="446.96" rx="0.9" ry="1.0" fill="#d6eacb"/><ellipse cx="308.43" cy="449.4" rx="0.9" ry="1.0" fill="#d6eacb"/><rect x="313.35" y="429" width="3.51" height="13.9" fill="#86a874"/><use href="#mh" x="315.1" y="429"/><use href="#mh" x="315.1" y="431.32"/><use href="#mh" x="315.1" y="433.63"/><use href="#mh" x="315.1" y="435.95"/><use href="#mh" x="315.1" y="438.27"/><use href="#mh" x="315.1" y="440.58"/><use href="#mh" x="315.1" y="442.9"/><ellipse cx="315.1" cy="429" rx="0.9" ry="1.0" fill="#d6eacb"/><ellipse cx="315.1" cy="431.32" rx="0.9" ry="1.0" fill="#d6eacb"/><ellipse cx="315.1" cy="433.63" rx="0.9" ry="1.0" fill="#d6eacb"/><ellipse cx="315.1" cy="435.95" rx="0.9" ry="1.0" fill="#d6eacb"/><ellipse cx="315.1" cy="438.27" rx="0.9" ry="1.0" fill="#d6eacb"/><ellipse cx="315.1" cy="440.58" rx="0.9" ry="1.0" fill="#d6eacb"/><ellipse cx="315.1" cy="442.9" rx="0.9" ry="1.0" fill="#d6eacb"/><rect x="320.02" y="429" width="3.51" height="12.2" fill="#86a874"/><use href="#mh" x="321.77" y="429"/><use href="#mh" x="321.77" y="431.44"/><use href="#mh" x="321.77" y="433.88"/><use href="#mh" x="321.77" y="436.32"/><use href="#mh" x="321.77" y="438.76"/><use href="#mh" x="321.77" y="441.2"/><ellipse cx="321.77" cy="429" rx="0.9" ry="1.0" fill="#d6eacb"/><ellipse cx="321.77" cy="431.44" rx="0.9" ry="1.0" fill="#d6eacb"/><ellipse cx="321.77" cy="433.88" rx="0.9" ry="1.0" fill="#d6eacb"/><ellipse cx="321.77" cy="436.32" rx="0.9" ry="1.0" fill="#d6eacb"/><ellipse cx="321.77" cy="438.76" rx="0.9" ry="1.0" fill="#d6eacb"/><ellipse cx="321.77" cy="441.2" rx="0.9" ry="1.0" fill="#d6eacb"/><rect x="326.7" y="424.1" width="3.51" height="7.3" fill="#86a874"/><use href="#mh" x="328.45" y="424.1"/><use href="#mh" x="328.45" y="426.53"/><use href="#mh" x="328.45" y="428.97"/><use href="#mh" x="328.45" y="431.4"/><ellipse cx="328.45" cy="424.1" rx="0.9" ry="1.0" fill="#d6eacb"/><ellipse cx="328.45" cy="426.53" rx="0.9" ry="1.0" fill="#d6eacb"/><ellipse cx="328.45" cy="428.97" rx="0.9" ry="1.0" fill="#d6eacb"/><ellipse cx="328.45" cy="431.4" rx="0.9" ry="1.0" fill="#d6eacb"/><rect x="333.37" y="421.7" width="3.51" height="4.8" fill="#86a874"/><use href="#mh" x="335.12" y="421.7"/><use href="#mh" x="335.12" y="424.1"/><use href="#mh" x="335.12" y="426.5"/><ellipse cx="335.12" cy="421.7" rx="0.9" ry="1.0" fill="#d6eacb"/><ellipse cx="335.12" cy="424.1" rx="0.9" ry="1.0" fill="#d6eacb"/><ellipse cx="335.12" cy="426.5" rx="0.9" ry="1.0" fill="#d6eacb"/></g><ellipse cx="214.98" cy="470.9" rx="2.2" ry="2.64" fill="#fff"/><circle cx="214.98" cy="470.9" r="1.35" fill="#000"/><ellipse cx="221.65" cy="469.2" rx="2.2" ry="2.64" fill="#fff"/><circle cx="221.65" cy="469.2" r="1.35" fill="#000"/><ellipse cx="228.33" cy="470" rx="2.2" ry="2.64" fill="#fff"/><circle cx="228.33" cy="470" r="1.35" fill="#000"/><ellipse cx="235" cy="469.2" rx="2.2" ry="2.64" fill="#fff"/><circle cx="235" cy="469.2" r="1.35" fill="#000"/><ellipse cx="241.68" cy="468.2" rx="2.2" ry="2.64" fill="#fff"/><circle cx="241.68" cy="468.2" r="1.35" fill="#000"/><ellipse cx="248.35" cy="466.6" rx="2.2" ry="2.64" fill="#fff"/><circle cx="248.35" cy="466.6" r="1.35" fill="#000"/><ellipse cx="255.03" cy="464.3" rx="2.2" ry="2.64" fill="#fff"/><circle cx="255.03" cy="464.3" r="1.35" fill="#000"/><ellipse cx="261.7" cy="463.6" rx="2.2" ry="2.64" fill="#fff"/><circle cx="261.7" cy="463.6" r="1.35" fill="#000"/><ellipse cx="268.38" cy="460.3" rx="2.2" ry="2.64" fill="#fff"/><circle cx="268.38" cy="460.3" r="1.35" fill="#000"/><ellipse cx="275.05" cy="458.1" rx="2.2" ry="2.64" fill="#fff"/><circle cx="275.05" cy="458.1" r="1.35" fill="#000"/><ellipse cx="281.73" cy="455.3" rx="2.2" ry="2.64" fill="#fff"/><circle cx="281.73" cy="455.3" r="1.35" fill="#000"/><ellipse cx="288.4" cy="452.3" rx="2.2" ry="2.64" fill="#fff"/><circle cx="288.4" cy="452.3" r="1.35" fill="#000"/><ellipse cx="295.08" cy="448.7" rx="2.2" ry="2.64" fill="#fff"/><circle cx="295.08" cy="448.7" r="1.35" fill="#000"/><ellipse cx="301.75" cy="445.4" rx="2.2" ry="2.64" fill="#fff"/><circle cx="301.75" cy="445.4" r="1.35" fill="#000"/><ellipse cx="308.43" cy="441.2" rx="2.2" ry="2.64" fill="#fff"/><circle cx="308.43" cy="441.2" r="1.35" fill="#000"/><ellipse cx="315.1" cy="437.2" rx="2.2" ry="2.64" fill="#fff"/><circle cx="315.1" cy="437.2" r="1.35" fill="#000"/><ellipse cx="321.77" cy="434" rx="2.2" ry="2.64" fill="#fff"/><circle cx="321.77" cy="434" r="1.35" fill="#000"/><ellipse cx="328.45" cy="427.7" rx="2.2" ry="2.64" fill="#fff"/><circle cx="328.45" cy="427.7" r="1.35" fill="#000"/><ellipse cx="335.12" cy="423.7" rx="2.2" ry="2.64" fill="#fff"/><circle cx="335.12" cy="423.7" r="1.35" fill="#000"/><rect x="208.5" y="384.2" width="133.5" height="139" fill="none" stroke="#a2a2a2" stroke-width="1.5"/><line x1="206.3" y1="396.64" x2="208.3" y2="396.64" stroke="#6a6a6a" stroke-width="0.9"/><text x="202" y="398.84" text-anchor="end">300</text><line x1="206.3" y1="421.91" x2="208.3" y2="421.91" stroke="#6a6a6a" stroke-width="0.9"/><text x="202" y="424.11" text-anchor="end">200</text><line x1="206.3" y1="447.18" x2="208.3" y2="447.18" stroke="#6a6a6a" stroke-width="0.9"/><text x="202" y="449.38" text-anchor="end">100</text><line x1="206.3" y1="472.45" x2="208.3" y2="472.45" stroke="#6a6a6a" stroke-width="0.9"/><text x="202" y="474.65" text-anchor="end">0</text><line x1="206.3" y1="497.73" x2="208.3" y2="497.73" stroke="#6a6a6a" stroke-width="0.9"/><text x="202" y="499.93" text-anchor="end">-100</text><line x1="206.3" y1="523" x2="208.3" y2="523" stroke="#6a6a6a" stroke-width="0.9"/><text x="202" y="525.2" text-anchor="end">-200</text><line x1="208.3" y1="523" x2="208.3" y2="525" stroke="#6a6a6a" stroke-width="0.9"/><text x="208.3" y="533.9" text-anchor="middle">0</text><line x1="235" y1="523" x2="235" y2="525" stroke="#6a6a6a" stroke-width="0.9"/><text x="235" y="533.9" text-anchor="middle">20</text><line x1="261.7" y1="523" x2="261.7" y2="525" stroke="#6a6a6a" stroke-width="0.9"/><text x="261.7" y="533.9" text-anchor="middle">40</text><line x1="288.4" y1="523" x2="288.4" y2="525" stroke="#6a6a6a" stroke-width="0.9"/><text x="288.4" y="533.9" text-anchor="middle">60</text><line x1="315.1" y1="523" x2="315.1" y2="525" stroke="#6a6a6a" stroke-width="0.9"/><text x="315.1" y="533.9" text-anchor="middle">80</text><line x1="341.8" y1="523" x2="341.8" y2="525" stroke="#6a6a6a" stroke-width="0.9"/><text x="341.8" y="533.9" text-anchor="middle">100</text><text x="221.1" y="393.7">Fe-Cr : 4,320 atoms system</text><text x="275.2" y="542.8" text-anchor="middle">Cr Conc (%)</text><text transform="translate(185.3,452) rotate(-90) scale(1.0)" text-anchor="middle">SFE (mJ/m<tspan font-size="5.5" dy="-3">2</tspan><tspan dy="3">)</tspan></text><text x="195.9" y="376.5">h)</text></g>
<g><defs><path id="mi" d="M0,-2.7 L2.4,0 L0,2.7 L-2.4,0Z" fill="#e6cc7c" stroke="#6e6542" stroke-width="0.8"/><path id="mio" d="M0,-2.7 L2.4,0 L0,2.7 L-2.4,0Z" fill="#e6cc7c" stroke="#6e6542" stroke-width="0.8"/></defs><g style="filter:blur(0.35px)"><use href="#mi" x="389.44" y="471.3"/><use href="#mi" x="389.44" y="471.3"/><use href="#mi" x="396.18" y="469.2"/><use href="#mi" x="396.18" y="470.8"/><use href="#mi" x="402.92" y="470.35"/><use href="#mi" x="402.92" y="470.35"/><use href="#mi" x="409.66" y="469.5"/><use href="#mi" x="409.66" y="470.3"/><use href="#mi" x="416.4" y="467.1"/><use href="#mi" x="416.4" y="469.5"/><use href="#mi" x="423.14" y="464.6"/><use href="#mi" x="423.14" y="466.4"/><use href="#mi" x="423.14" y="468.2"/><use href="#mi" x="429.88" y="463.8"/><use href="#mi" x="429.88" y="466.2"/><use href="#mi" x="436.62" y="462.2"/><use href="#mi" x="436.62" y="464.5"/><use href="#mi" x="443.36" y="459.4"/><use href="#mi" x="443.36" y="460.75"/><use href="#mi" x="443.36" y="462.1"/><use href="#mi" x="450.1" y="456.8"/><use href="#mi" x="450.1" y="458.2"/><use href="#mi" x="450.1" y="459.6"/><use href="#mi" x="456.84" y="454"/><use href="#mi" x="456.84" y="455.35"/><use href="#mi" x="456.84" y="456.7"/><use href="#mi" x="463.58" y="451.2"/><use href="#mi" x="463.58" y="452.8"/><use href="#mi" x="463.58" y="454.4"/><use href="#mi" x="470.32" y="447.5"/><use href="#mi" x="470.32" y="449.3"/><use href="#mi" x="470.32" y="451.1"/><use href="#mi" x="477.06" y="444.2"/><use href="#mi" x="477.06" y="445.8"/><use href="#mi" x="477.06" y="447.4"/><use href="#mi" x="483.8" y="439.7"/><use href="#mi" x="483.8" y="441.3"/><use href="#mi" x="483.8" y="442.9"/><use href="#mi" x="490.54" y="436"/><use href="#mi" x="490.54" y="438"/><use href="#mi" x="497.28" y="431.9"/><use href="#mi" x="497.28" y="433.4"/><use href="#mi" x="504.02" y="427.3"/><use href="#mi" x="504.02" y="427.7"/><use href="#mi" x="510.76" y="422.4"/><use href="#mi" x="510.76" y="422.8"/></g><ellipse cx="389.44" cy="470.6" rx="1.8" ry="2.16" fill="#fff"/><circle cx="389.44" cy="470.6" r="1.3" fill="#000"/><ellipse cx="396.18" cy="468.7" rx="1.8" ry="2.16" fill="#fff"/><circle cx="396.18" cy="468.7" r="1.3" fill="#000"/><ellipse cx="402.92" cy="470" rx="1.8" ry="2.16" fill="#fff"/><circle cx="402.92" cy="470" r="1.3" fill="#000"/><ellipse cx="409.66" cy="469.5" rx="1.8" ry="2.16" fill="#fff"/><circle cx="409.66" cy="469.5" r="1.3" fill="#000"/><ellipse cx="416.4" cy="467" rx="1.8" ry="2.16" fill="#fff"/><circle cx="416.4" cy="467" r="1.3" fill="#000"/><ellipse cx="423.14" cy="465.7" rx="1.8" ry="2.16" fill="#fff"/><circle cx="423.14" cy="465.7" r="1.3" fill="#000"/><ellipse cx="429.88" cy="464.1" rx="1.8" ry="2.16" fill="#fff"/><circle cx="429.88" cy="464.1" r="1.3" fill="#000"/><ellipse cx="436.62" cy="462.5" rx="1.8" ry="2.16" fill="#fff"/><circle cx="436.62" cy="462.5" r="1.3" fill="#000"/><ellipse cx="443.36" cy="459.7" rx="1.8" ry="2.16" fill="#fff"/><circle cx="443.36" cy="459.7" r="1.3" fill="#000"/><ellipse cx="450.1" cy="457.4" rx="1.8" ry="2.16" fill="#fff"/><circle cx="450.1" cy="457.4" r="1.3" fill="#000"/><ellipse cx="456.84" cy="454.8" rx="1.8" ry="2.16" fill="#fff"/><circle cx="456.84" cy="454.8" r="1.3" fill="#000"/><ellipse cx="463.58" cy="452.3" rx="1.8" ry="2.16" fill="#fff"/><circle cx="463.58" cy="452.3" r="1.3" fill="#000"/><ellipse cx="470.32" cy="448.7" rx="1.8" ry="2.16" fill="#fff"/><circle cx="470.32" cy="448.7" r="1.3" fill="#000"/><ellipse cx="477.06" cy="445.4" rx="1.8" ry="2.16" fill="#fff"/><circle cx="477.06" cy="445.4" r="1.3" fill="#000"/><ellipse cx="483.8" cy="441.2" rx="1.8" ry="2.16" fill="#fff"/><circle cx="483.8" cy="441.2" r="1.3" fill="#000"/><ellipse cx="490.54" cy="436.8" rx="1.8" ry="2.16" fill="#fff"/><circle cx="490.54" cy="436.8" r="1.3" fill="#000"/><ellipse cx="497.28" cy="432.7" rx="1.8" ry="2.16" fill="#fff"/><circle cx="497.28" cy="432.7" r="1.3" fill="#000"/><ellipse cx="504.02" cy="427.4" rx="1.8" ry="2.16" fill="#fff"/><circle cx="504.02" cy="427.4" r="1.3" fill="#000"/><ellipse cx="510.76" cy="422.8" rx="1.8" ry="2.16" fill="#fff"/><circle cx="510.76" cy="422.8" r="1.3" fill="#000"/><rect x="382.9" y="383.8" width="134.8" height="139.4" fill="none" stroke="#a2a2a2" stroke-width="1.5"/><line x1="380.7" y1="396.27" x2="382.7" y2="396.27" stroke="#6a6a6a" stroke-width="0.9"/><text x="376.4" y="398.47" text-anchor="end">300</text><line x1="380.7" y1="421.62" x2="382.7" y2="421.62" stroke="#6a6a6a" stroke-width="0.9"/><text x="376.4" y="423.82" text-anchor="end">200</text><line x1="380.7" y1="446.96" x2="382.7" y2="446.96" stroke="#6a6a6a" stroke-width="0.9"/><text x="376.4" y="449.16" text-anchor="end">100</text><line x1="380.7" y1="472.31" x2="382.7" y2="472.31" stroke="#6a6a6a" stroke-width="0.9"/><text x="376.4" y="474.51" text-anchor="end">0</text><line x1="380.7" y1="497.65" x2="382.7" y2="497.65" stroke="#6a6a6a" stroke-width="0.9"/><text x="376.4" y="499.85" text-anchor="end">-100</text><line x1="380.7" y1="523" x2="382.7" y2="523" stroke="#6a6a6a" stroke-width="0.9"/><text x="376.4" y="525.2" text-anchor="end">-200</text><line x1="382.7" y1="523" x2="382.7" y2="525" stroke="#6a6a6a" stroke-width="0.9"/><text x="382.7" y="533.9" text-anchor="middle">0</text><line x1="409.66" y1="523" x2="409.66" y2="525" stroke="#6a6a6a" stroke-width="0.9"/><text x="409.66" y="533.9" text-anchor="middle">20</text><line x1="436.62" y1="523" x2="436.62" y2="525" stroke="#6a6a6a" stroke-width="0.9"/><text x="436.62" y="533.9" text-anchor="middle">40</text><line x1="463.58" y1="523" x2="463.58" y2="525" stroke="#6a6a6a" stroke-width="0.9"/><text x="463.58" y="533.9" text-anchor="middle">60</text><line x1="490.54" y1="523" x2="490.54" y2="525" stroke="#6a6a6a" stroke-width="0.9"/><text x="490.54" y="533.9" text-anchor="middle">80</text><line x1="517.5" y1="523" x2="517.5" y2="525" stroke="#6a6a6a" stroke-width="0.9"/><text x="517.5" y="533.9" text-anchor="middle">100</text><text x="391.2" y="393.2">Fe-Cr : 108,000 atoms system</text><text x="450.4" y="542.8" text-anchor="middle">Cr Conc (%)</text><text transform="translate(358.8,451.5) rotate(-90) scale(1.0)" text-anchor="middle">SFE (mJ/m<tspan font-size="5.5" dy="-3">2</tspan><tspan dy="3">)</tspan></text><text x="368.2" y="376.5">i)</text></g>
</svg></body></html>
